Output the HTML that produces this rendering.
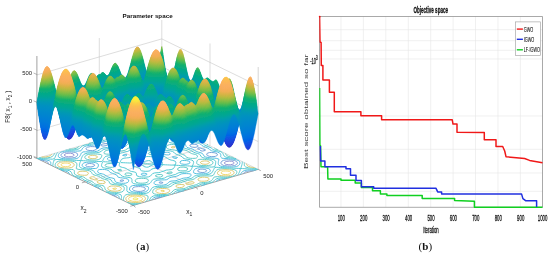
<!DOCTYPE html>
<html><head><meta charset="utf-8"><title>Figure</title>
<style>html,body{margin:0;padding:0;background:#fff}svg{display:block}</style></head>
<body><svg width="550" height="257" viewBox="0 0 550 257">
<rect width="550" height="257" fill="#fff"/>
<defs><linearGradient id="pg" gradientUnits="userSpaceOnUse" x1="851" y1="1729" x2="603" y2="867"><stop offset="0.0000" stop-color="#3228aa"/><stop offset="0.0704" stop-color="#302dbe"/><stop offset="0.1020" stop-color="#2d32c8"/><stop offset="0.1241" stop-color="#2837d2"/><stop offset="0.1659" stop-color="#1e41dc"/><stop offset="0.2017" stop-color="#1450e1"/><stop offset="0.2375" stop-color="#055fe6"/><stop offset="0.2733" stop-color="#006ee1"/><stop offset="0.3329" stop-color="#007bd9"/><stop offset="0.3807" stop-color="#0082d2"/><stop offset="0.4403" stop-color="#008aca"/><stop offset="0.4911" stop-color="#0091c0"/><stop offset="0.5263" stop-color="#0098b4"/><stop offset="0.5561" stop-color="#00a0a5"/><stop offset="0.5782" stop-color="#00a596"/><stop offset="0.6134" stop-color="#05aa87"/><stop offset="0.6384" stop-color="#0aae78"/><stop offset="0.6599" stop-color="#14b16c"/><stop offset="0.6790" stop-color="#37b75c"/><stop offset="0.7023" stop-color="#60bc4d"/><stop offset="0.7208" stop-color="#7dbd46"/><stop offset="0.7506" stop-color="#a8bc41"/><stop offset="0.7625" stop-color="#b9ba41"/><stop offset="0.7864" stop-color="#d4b444"/><stop offset="0.8144" stop-color="#eeaf52"/><stop offset="0.8377" stop-color="#f8ad5a"/><stop offset="0.8681" stop-color="#faaf5f"/><stop offset="0.8974" stop-color="#fcb45a"/><stop offset="0.9296" stop-color="#fcbe50"/><stop offset="0.9558" stop-color="#fccd46"/><stop offset="0.9714" stop-color="#fadc41"/><stop offset="0.9893" stop-color="#faeb3c"/><stop offset="1.0000" stop-color="#faf037"/></linearGradient></defs>
<g><path d="M36.9 130.6L161.8 94.6" stroke="#c6c6c6" stroke-width="0.6" fill="none"/><path d="M161.8 94.6L258.2 141.6" stroke="#c6c6c6" stroke-width="0.6" fill="none"/><path d="M36.9 102.7L161.8 66.7" stroke="#c6c6c6" stroke-width="0.6" fill="none"/><path d="M161.8 66.7L258.2 113.7" stroke="#c6c6c6" stroke-width="0.6" fill="none"/><path d="M36.9 74.9L161.8 38.9" stroke="#c6c6c6" stroke-width="0.6" fill="none"/><path d="M161.8 38.9L258.2 85.9" stroke="#c6c6c6" stroke-width="0.6" fill="none"/><path d="M99.3 140.4L99.3 38.0" stroke="#c6c6c6" stroke-width="0.6" fill="none"/><path d="M210.0 145.9L210.0 43.5" stroke="#c6c6c6" stroke-width="0.6" fill="none"/><path d="M161.8 122.4L161.8 20.0" stroke="#c6c6c6" stroke-width="0.6" fill="none"/><path d="M195.8 187.4L99.3 140.4" stroke="#c6c6c6" stroke-width="0.6" fill="none"/><path d="M85.1 181.9L210.0 145.9" stroke="#c6c6c6" stroke-width="0.6" fill="none"/><path d="M36.9 158.4L161.8 122.4" stroke="#c6c6c6" stroke-width="0.6" fill="none"/><path d="M161.8 122.4L258.2 169.4" stroke="#c6c6c6" stroke-width="0.6" fill="none"/><path d="M36.9 158.4L36.9 56.0" stroke="#7a7a7a" stroke-width="0.7" fill="none"/><path d="M258.2 169.4L258.2 67.0" stroke="#c4c4c4" stroke-width="0.7" fill="none"/><path d="M36.9 158.4L133.3 205.4" stroke="#7a7a7a" stroke-width="0.7" fill="none"/><path d="M133.3 205.4L258.2 169.4" stroke="#7a7a7a" stroke-width="0.7" fill="none"/></g>
<g fill="none" stroke-width="1"><path d="M159.4 130.0L157.5 129.6L157.0 128.8L159.3 128.0L161.8 128.4L162.0 129.3L159.4 130.0L159.4 130.0" stroke="#7e7ec4"/><path d="M230.7 164.7L228.9 164.8L226.2 164.4L225.1 164.0L224.5 163.4L224.4 162.6L226.1 161.5L229.3 161.1L231.6 161.3L232.9 161.7L233.9 162.4L234.0 163.4L233.3 164.0L230.7 164.7L230.7 164.7M179.7 139.8L178.5 139.3L179.2 138.6L181.2 138.5L182.4 139.2L179.7 139.8L179.7 139.8M162.5 131.4L160.8 131.6L158.5 131.6L156.3 131.3L153.9 130.7L152.6 129.5L152.5 128.8L153.1 127.9L154.0 127.3L156.4 126.6L158.4 126.4L160.9 126.4L162.7 126.6L165.3 127.4L166.5 128.5L166.5 129.3L165.9 130.2L165.0 130.8L162.5 131.4L162.5 131.4M72.5 156.4L71.2 156.7L68.4 156.8L66.6 156.6L64.6 155.7L64.3 155.0L65.1 154.0L66.5 153.5L68.0 153.2L70.4 153.2L73.3 153.9L74.1 155.2L73.5 155.9L72.5 156.4L72.5 156.4M133.1 137.5L131.0 137.3L130.8 136.4L132.6 136.1L134.3 137.1L133.1 137.5L133.1 137.5" stroke="#9296d4"/><path d="M154.8 199.2L156.4 198.2L159.0 197.6L161.2 197.4L161.2 197.4M243.1 173.8L243.7 173.0L244.4 172.4L246.5 171.4L249.4 170.9L251.1 170.8L253.5 170.8L253.5 170.8M231.4 166.0L229.5 166.1L227.3 166.0L224.6 165.6L223.2 165.3L221.5 164.3L221.1 163.7L220.9 162.9L221.2 162.0L221.9 161.2L223.6 160.3L226.6 159.8L228.6 159.8L230.8 159.9L233.0 160.2L234.5 160.5L236.6 161.4L237.2 162.1L237.4 163.1L237.1 164.0L236.5 164.6L234.4 165.6L231.4 166.0L231.4 166.0M141.9 191.2L140.3 191.4L137.9 191.4L135.9 191.1L133.5 190.4L132.7 189.6L132.6 188.6L133.1 187.8L134.2 187.2L135.5 186.8L138.4 186.6L140.5 186.6L142.8 187.0L144.1 187.3L144.9 187.8L145.4 189.0L145.0 189.8L144.3 190.4L141.9 191.2L141.9 191.2M204.5 172.3L202.9 172.5L200.8 172.4L198.2 171.7L197.6 170.9L198.0 170.1L200.2 169.2L202.2 169.1L204.2 169.3L206.4 170.1L206.7 170.8L205.8 171.8L204.5 172.3L204.5 172.3M161.6 183.3L159.3 182.9L159.3 182.2L160.6 181.8L163.1 182.6L161.6 183.3L161.6 183.3M111.8 194.9L113.8 195.3L115.8 196.2L116.7 197.3L116.7 197.3M215.5 156.3L214.0 156.6L211.7 156.6L209.7 156.4L207.4 155.6L206.8 155.0L206.8 154.0L207.2 153.3L209.6 152.5L211.6 152.5L214.1 152.7L215.9 153.2L217.4 154.2L217.4 155.0L216.6 155.9L215.5 156.3L215.5 156.3M121.8 181.4L119.9 180.9L120.9 180.0L122.9 180.0L123.9 180.5L121.8 181.4L121.8 181.4M202.7 151.1L200.8 150.8L199.6 149.6L197.7 148.7L198.1 147.9L200.6 147.9L202.5 148.8L205.2 149.5L205.3 150.4L202.7 151.1L202.7 151.1M195.1 147.4L192.7 147.2L191.2 146.8L189.8 145.8L190.1 144.9L191.1 144.4L192.7 144.2L195.0 144.2L197.4 145.0L197.9 145.8L197.8 146.7L195.1 147.4L195.1 147.4M183.6 141.8L181.8 141.8L179.6 141.7L176.8 141.4L175.3 140.9L173.9 139.9L173.7 139.2L174.0 138.3L174.9 137.5L177.4 136.8L179.9 136.6L182.1 136.7L183.9 137.0L186.2 137.8L187.1 138.6L187.3 139.7L186.9 140.4L186.2 141.1L183.6 141.8L183.6 141.8M92.0 166.8L90.2 166.9L87.4 166.6L86.0 165.9L85.6 165.3L86.2 164.4L87.6 163.8L89.2 163.5L91.5 163.6L94.1 164.3L94.7 165.2L94.2 166.0L92.0 166.8L92.0 166.8M162.9 132.6L161.0 132.7L159.0 132.7L156.7 132.5L154.1 132.2L152.3 131.9L150.4 130.9L149.8 130.1L149.7 129.1L150.0 128.3L150.5 127.5L151.2 126.9L153.2 126.0L156.1 125.4L157.9 125.3L159.9 125.3L162.1 125.5L164.9 125.8L166.6 126.3L168.5 127.2L169.0 127.9L169.3 129.0L169.1 129.8L168.6 130.6L168.0 131.2L166.0 132.2L162.9 132.6L162.9 132.6M71.9 158.0L70.1 158.1L68.0 158.1L65.5 157.8L63.6 157.4L61.6 156.5L61.0 155.6L61.1 154.7L61.5 153.9L62.2 153.3L64.4 152.4L66.8 152.0L69.3 151.9L71.4 152.0L73.9 152.2L75.4 152.5L77.3 153.5L77.6 154.1L77.6 155.0L77.3 155.8L76.3 156.8L74.8 157.5L71.9 158.0L71.9 158.0M134.7 139.2L132.9 139.3L130.9 139.3L128.4 139.1L126.4 138.6L125.5 137.6L125.5 136.7L126.0 136.0L126.8 135.4L129.1 134.5L130.9 134.3L133.5 134.3L135.5 134.5L138.2 135.2L139.2 136.4L139.1 137.2L138.4 138.1L137.4 138.6L134.7 139.2L134.7 139.2M94.0 150.4L92.5 150.6L90.0 150.6L87.4 150.1L86.5 149.7L86.0 148.7L86.4 147.9L87.5 147.2L90.3 146.6L92.2 146.6L94.5 146.7L96.5 147.2L97.0 148.0L96.8 148.9L96.2 149.5L94.0 150.4L94.0 150.4M115.2 143.3L113.2 143.3L111.0 143.0L110.8 142.1L111.2 141.3L113.3 140.4L115.4 140.2L117.4 140.4L119.2 141.3L119.0 142.2L118.2 142.8L115.2 143.3L115.2 143.3M103.1 146.1L101.4 145.8L100.9 145.0L102.8 144.0L105.9 143.6L107.9 143.2L109.5 144.2L108.1 144.7L106.1 145.6L103.1 146.1L103.1 146.1M40.6 160.2L42.8 160.4L44.4 160.7L46.9 161.5L48.2 162.6L48.5 163.3L48.6 164.1L48.6 164.1" stroke="#76a5da"/><path d="M151.6 200.1L152.2 199.2L152.9 198.5L153.6 197.9L155.8 197.0L158.8 196.5L160.6 196.4L162.5 196.4L164.6 196.4L164.6 196.4M176.4 193.0L177.6 192.1L179.9 191.3L183.0 190.9L184.2 190.7M191.9 188.5L193.3 188.1L193.3 188.1M201.4 185.8L202.9 185.1L205.6 184.4L206.3 184.4M215.9 181.6L217.1 180.5L218.1 179.9L220.4 179.1L223.2 178.7L225.4 178.6L226.2 178.6M240.4 174.5L240.9 173.6L241.4 172.8L241.9 172.1L242.6 171.5L244.5 170.5L247.5 170.0L249.3 169.9L251.3 169.9L253.7 170.0L255.9 170.1L255.9 170.1M131.9 204.7L134.1 204.8L135.1 204.9M233.5 167.0L231.6 167.1L229.5 167.1L227.4 167.0L225.0 166.8L222.3 166.5L220.5 166.1L218.8 165.1L218.4 164.4L218.2 163.5L218.3 162.5L218.4 161.6L218.6 160.8L218.8 159.9L218.8 159.1L216.2 158.3L214.2 158.1L212.2 158.0L210.2 157.8L207.9 157.5L205.5 156.9L203.9 155.9L203.5 155.3L202.9 154.1L202.3 153.4L200.0 152.5L198.5 152.2L196.3 151.4L194.6 150.3L193.0 149.3L190.7 148.5L188.0 147.8L187.0 147.3L186.4 146.7L185.9 145.8L185.5 144.7L185.0 144.1L183.2 143.5L180.9 143.1L179.0 142.9L177.2 142.7L174.7 142.3L172.6 141.7L171.1 140.7L170.8 140.0L170.8 139.3L170.9 138.5L171.2 137.6L171.9 136.7L173.3 135.8L176.3 135.4L178.6 135.4L180.8 135.5L183.1 135.7L184.8 136.0L186.4 136.3L188.7 137.1L189.6 137.9L190.1 138.9L190.3 139.6L190.4 140.3L191.1 141.5L192.1 142.1L193.5 142.4L195.7 142.8L198.3 143.3L199.6 143.7L200.6 144.2L201.7 145.3L203.3 146.3L205.5 147.2L207.7 148.1L209.3 149.1L209.9 149.7L211.4 150.7L212.7 151.1L215.9 151.7L217.3 152.0L219.5 152.9L220.5 153.9L220.8 154.8L220.8 155.5L220.7 156.3L220.7 157.0L221.9 158.2L223.8 158.4L226.0 158.5L228.3 158.7L230.7 158.9L233.3 159.2L235.4 159.5L236.8 159.9L238.9 160.8L239.5 161.3L239.9 162.4L239.9 163.4L239.6 164.2L239.2 165.0L238.5 165.6L236.5 166.6L233.5 167.0L233.5 167.0M142.5 192.4L140.7 192.5L138.7 192.5L136.4 192.4L133.8 192.1L131.8 191.6L130.1 190.6L129.6 190.0L129.5 189.0L129.7 188.1L130.0 187.3L130.6 186.6L132.5 185.6L135.4 185.4L137.9 185.3L140.0 185.4L142.3 185.6L144.4 185.8L146.1 186.0L148.2 186.9L148.6 187.7L148.6 188.6L148.3 189.5L147.9 190.2L147.1 190.9L145.3 191.9L142.5 192.4L142.5 192.4M205.3 173.6L203.6 173.8L201.3 173.8L198.9 173.8L196.7 173.7L194.9 173.4L193.7 172.8L193.5 171.7L193.7 170.9L194.1 170.1L194.6 169.4L195.3 168.8L197.6 168.0L199.2 167.8L201.8 167.7L204.0 167.8L206.0 168.0L208.9 168.7L210.2 169.8L210.3 170.5L210.1 171.3L209.2 172.3L208.0 173.0L205.3 173.6L205.3 173.6M163.2 185.1L161.4 185.2L159.3 185.1L156.7 184.8L154.8 184.3L154.2 183.6L154.1 182.6L154.5 181.8L155.2 181.1L157.3 180.3L158.9 180.1L161.9 179.9L164.5 179.9L166.3 179.8L168.1 178.9L168.9 178.2L169.8 177.7L171.1 177.3L173.9 176.8L176.7 176.2L178.9 175.3L179.6 174.7L181.8 173.8L184.0 173.6L186.6 173.6L188.8 173.7L190.4 174.0L191.1 174.5L191.0 175.4L190.6 176.2L189.0 177.3L186.2 177.9L183.8 178.1L181.7 178.6L180.7 179.1L178.2 179.8L176.0 180.7L174.1 180.9L171.0 181.1L168.9 182.0L168.3 182.7L167.5 183.6L166.0 184.5L163.2 185.1L163.2 185.1M109.1 193.6L111.1 193.8L112.9 194.1L114.6 194.3L117.2 195.1L118.7 196.1L119.1 196.8L119.2 197.6L119.1 198.5L119.1 198.5M125.5 183.2L123.7 183.3L121.7 183.3L119.2 183.0L116.8 182.5L115.2 181.4L114.9 180.8L114.7 179.9L114.3 178.7L111.8 177.9L110.1 177.7L107.8 176.9L106.2 175.8L105.0 175.1L103.7 174.3L102.3 173.9L99.4 173.3L97.8 172.2L97.6 171.5L97.8 170.6L98.8 169.7L99.7 169.5L102.5 169.4L104.6 169.5L106.4 169.8L108.7 170.6L109.4 171.5L110.1 172.5L112.4 173.3L114.4 174.2L116.5 174.9L116.7 175.0L117.5 176.3L117.8 177.0L120.2 177.7L122.2 177.9L124.0 178.2L125.7 178.4L128.0 179.3L128.6 179.8L128.7 180.9L128.4 181.7L127.8 182.4L125.5 183.2L125.5 183.2M186.1 164.3L184.1 164.3L181.4 163.9L180.0 162.8L180.0 162.0L180.9 161.0L182.4 160.5L184.2 160.5L186.5 160.6L188.6 161.1L190.0 162.1L189.9 162.9L188.9 163.7L186.1 164.3L186.1 164.3M145.1 175.3L143.1 175.3L141.3 174.7L141.2 174.0L142.8 173.2L144.7 173.2L146.8 173.8L146.8 174.6L145.1 175.3L145.1 175.3M94.0 186.3L96.6 186.8L98.8 187.7L99.9 188.9L100.0 189.2M176.3 158.5L173.3 158.0L172.5 156.7L174.9 156.9L177.5 157.5L176.3 158.5L176.3 158.5M87.0 182.8L88.0 183.3L88.1 183.4M168.7 154.9L166.9 154.9L164.4 154.6L163.1 153.4L164.0 152.5L167.2 152.2L169.0 152.5L170.3 153.6L169.9 154.4L168.7 154.9L168.7 154.9M77.0 177.9L78.8 178.5L80.5 179.5L80.7 179.8M96.8 168.2L95.3 168.5L92.8 168.5L90.5 168.4L88.5 168.2L86.1 167.9L83.9 167.3L82.4 166.2L82.1 165.6L82.2 164.8L82.6 163.9L83.9 162.9L86.6 162.3L88.8 162.1L91.2 162.2L93.3 162.3L95.3 162.6L97.5 163.4L98.1 164.0L98.4 165.1L98.3 166.0L98.0 166.9L97.6 167.6L96.8 168.2L96.8 168.2M157.3 149.3L155.7 149.5L153.4 149.5L151.2 149.4L148.8 149.0L147.1 148.3L146.7 147.7L146.7 146.9L147.3 146.0L148.8 145.1L151.6 144.6L153.6 144.5L155.9 144.7L158.1 145.2L159.7 146.2L159.9 146.9L159.8 147.7L158.8 148.7L157.3 149.3L157.3 149.3M113.2 160.7L111.1 160.6L108.6 160.2L107.3 159.1L107.6 158.2L108.6 157.5L111.4 156.9L113.4 156.9L116.0 157.2L117.2 157.7L117.6 158.3L117.4 159.1L116.1 160.2L113.2 160.7L113.2 160.7M135.8 153.3L133.3 153.1L132.7 152.8L132.4 151.8L133.3 151.1L136.2 150.6L138.3 150.9L139.7 152.0L138.9 152.9L135.8 153.3L135.8 153.3M125.5 156.0L122.6 155.4L124.2 154.5L127.0 154.8L127.0 154.9L125.5 156.0L125.5 156.0M61.6 170.4L64.1 170.8L65.6 171.1L67.9 171.9L69.1 173.1L69.4 173.7L69.6 174.3M74.0 159.0L72.2 159.1L70.2 159.1L68.0 159.0L65.7 158.9L63.2 158.6L60.9 158.2L58.9 157.3L58.3 156.3L58.3 155.3L58.6 154.4L59.0 153.7L59.6 153.0L60.7 152.3L62.6 151.5L64.4 151.2L67.4 151.0L69.3 150.9L71.3 151.0L73.4 151.0L75.5 151.1L77.9 151.1L80.9 150.8L81.5 150.0L82.1 149.1L82.7 148.2L83.6 147.3L84.4 146.7L86.7 145.8L89.7 145.4L91.5 145.3L93.3 145.1L96.0 144.6L96.9 144.1L98.8 143.1L101.6 142.4L104.1 141.7L106.8 141.1L108.7 140.1L109.7 139.6L111.3 139.2L114.1 138.9L115.9 138.8L118.9 138.5L120.5 138.1L121.4 137.6L122.1 136.8L123.1 135.8L124.0 135.0L124.9 134.4L127.2 133.6L129.0 133.4L132.1 133.2L134.3 133.2L136.5 133.3L138.8 133.5L140.4 133.8L142.3 134.8L142.5 135.4L142.4 136.2L142.2 137.1L141.7 137.9L140.7 139.0L139.5 139.6L136.8 140.3L135.1 140.4L132.8 140.5L130.0 140.5L127.6 140.6L126.0 140.8L124.2 141.5L123.1 142.3L122.4 142.9L120.6 144.0L120.4 144.1L117.9 144.6L114.7 145.0L112.5 145.8L110.0 146.5L107.7 147.4L104.9 147.8L103.0 148.0L100.8 148.9L100.0 149.5L99.2 150.2L97.5 151.1L94.7 151.7L93.0 151.8L90.6 151.9L88.1 151.9L85.6 151.8L83.1 151.9L81.4 153.0L81.0 153.7L80.7 154.5L80.3 155.3L79.9 156.1L79.4 156.8L78.5 157.6L76.9 158.5L74.0 159.0L74.0 159.0M171.1 126.9L171.5 127.8L171.6 128.5L171.6 129.3L171.4 130.1L171.1 130.9L170.6 131.8L169.5 132.9L168.4 133.4L166.9 133.6L164.1 133.7L161.6 133.7L159.3 133.6L157.1 133.5L154.9 133.4L152.9 133.2L150.9 133.0L149.0 132.6L147.3 131.8L146.9 131.2L146.9 130.4L147.1 129.6L147.4 128.8L147.8 127.9L148.5 127.0L149.4 126.1L149.8 125.9M38.7 159.3L40.9 159.4L43.2 159.6L45.1 159.8L46.8 160.0L49.4 160.8L50.6 161.9L50.8 162.6L50.8 163.4L50.8 164.2L50.7 165.1L50.7 165.1M154.1 124.6L156.1 124.5L158.1 124.4L160.1 124.5L162.4 124.6L164.8 124.8L167.5 125.2L167.8 125.3" stroke="#57c1e0"/><path d="M149.0 200.9L149.5 200.0L150.0 199.1L150.5 198.3L151.0 197.5L151.6 196.9L153.7 195.9L156.9 195.6L158.8 195.5L160.7 195.5L162.7 195.5L165.2 195.5L168.2 195.3L168.8 195.2M171.9 194.3L172.9 193.7L173.7 193.0L174.9 191.9L175.8 191.3L178.1 190.4L181.2 190.0L182.9 189.8L186.0 189.4L188.2 188.6L190.2 187.6L192.9 187.0L195.4 186.3L198.1 185.6L200.1 184.7L201.1 184.2L203.7 183.6L205.5 183.4L207.8 183.2L210.2 182.8L212.5 182.0L213.3 181.4L214.3 180.6L215.4 179.5L216.2 179.0L218.5 178.2L221.0 177.9L223.7 177.8L225.6 177.7L227.6 177.7L229.5 177.7L229.5 177.7M237.4 175.4L238.2 174.4L238.7 173.5L239.1 172.7L239.5 171.9L239.8 171.1L240.1 170.2L240.3 169.4L240.5 168.5L238.3 168.4L236.1 168.3L233.9 168.2L231.6 168.1L229.4 168.0L227.2 167.9L225.0 167.8L222.8 167.6L220.6 167.5L218.4 167.4L216.2 167.3L214.5 167.8L214.1 168.7L213.7 169.5L213.3 170.4L212.9 171.2L212.3 172.1L211.7 172.9L211.0 173.5L208.9 174.4L205.8 174.8L203.8 174.9L201.9 174.9L200.0 175.0L196.7 175.3L194.5 176.1L193.6 176.8L192.2 177.9L191.2 178.4L189.0 178.9L186.8 179.2L184.1 179.8L181.8 180.6L179.5 181.4L176.8 182.0L174.3 182.4L172.4 182.8L171.4 183.3L170.0 184.3L169.0 185.0L166.8 185.9L163.5 186.2L161.7 186.3L159.7 186.3L157.8 186.4L154.5 186.7L152.4 187.6L151.8 188.3L151.3 189.0L150.7 189.9L150.2 190.8L149.4 191.8L148.6 192.5L146.3 193.3L143.4 193.5L140.8 193.5L138.6 193.4L136.4 193.3L134.2 193.2L132.2 193.0L130.4 192.8L127.8 192.0L126.9 190.8L126.8 190.1L126.9 189.3L126.9 188.5L127.0 187.8L126.9 186.8L126.4 185.7L124.1 184.9L122.4 184.6L119.8 184.3L117.1 183.9L115.4 183.6L113.2 182.8L112.1 181.6L111.8 180.9L111.1 180.0L109.8 179.3L108.5 178.9L105.8 178.2L104.1 177.2L102.2 176.2L100.6 175.2L97.9 174.5L96.6 174.1L95.2 173.2L94.6 172.4L94.3 171.8L93.3 170.6L91.0 169.7L89.3 169.5L86.7 169.1L84.0 168.7L82.5 168.4L80.3 167.6L79.6 166.6L79.4 165.6L79.4 164.8L79.6 164.0L79.8 163.2L80.1 162.4L80.4 161.6L81.2 160.6L78.9 160.5L76.7 160.4L74.5 160.3L72.3 160.2L70.1 160.1L67.9 159.9L65.7 159.8L63.5 159.7L61.2 159.6L59.0 159.5L56.8 159.4L54.0 160.0L53.8 160.8L53.6 161.7L53.3 162.5L53.1 163.4L53.0 164.2L52.9 165.0L52.8 165.8L52.9 166.2M130.0 203.8L132.3 204.0L134.6 204.1L136.7 204.2L137.5 204.2M242.2 161.6L242.3 162.6L242.2 163.5L242.0 164.4L241.8 165.2L241.5 166.0L241.3 166.8L241.0 167.6L240.5 168.5L242.7 168.6L244.9 168.7L247.1 168.9L249.3 169.0L251.6 169.1L253.8 169.2L256.0 169.3L258.2 169.4M211.7 167.1L214.9 166.7L215.0 165.8L215.3 164.9L215.5 164.1L215.6 163.2L215.7 162.3L215.7 161.5L215.4 160.8L213.9 159.7L211.2 159.1L209.3 158.8L207.5 158.6L205.7 158.3L202.8 157.7L201.2 156.7L200.8 156.0L200.1 154.7L199.5 154.2L197.7 153.5L195.8 153.0L193.6 152.1L191.9 151.1L190.3 150.1L188.0 149.2L185.9 148.7L184.3 148.1L183.7 147.5L183.1 146.3L182.6 145.6L181.0 144.5L178.1 143.9L176.3 143.6L174.5 143.4L172.7 143.2L169.6 142.6L168.2 141.5L168.1 140.8L168.1 140.0L168.2 139.1L168.3 138.1L168.2 137.1L167.9 136.3L166.2 135.3L163.6 134.9L161.0 134.6L158.8 134.5L156.6 134.4L154.4 134.3L152.3 134.3L150.5 134.3L147.5 134.8L145.7 135.9L145.2 136.6L144.7 137.3L144.3 138.1L143.8 138.8L143.1 139.8L141.8 140.8L139.1 141.4L137.3 141.4L134.5 141.5L131.6 141.6L129.8 141.7L127.1 142.3L125.2 143.3L124.5 143.9L123.2 144.8L121.4 145.3L119.9 145.6L116.8 146.0L114.6 146.8L112.1 147.6L109.8 148.4L106.7 148.8L105.2 149.1L103.2 149.7L102.1 150.5L101.4 151.1L99.6 152.2L96.8 152.7L95.1 152.8L92.3 152.9L89.4 153.0L87.7 153.1L85.0 153.8L83.7 154.6L82.8 155.6L82.3 156.3L82.0 157.1L81.6 157.9L81.3 158.7L81.1 159.6L81.2 160.6L83.4 160.7L85.6 160.8L87.8 160.9L90.0 161.0L92.2 161.2L94.4 161.3L96.7 161.4L98.9 161.5L101.1 161.6L102.5 161.2L102.9 160.3L103.3 159.5L103.7 158.6L104.3 157.7L105.1 156.8L106.1 156.3L108.3 155.8L110.6 155.6L112.5 155.5L115.2 155.3L117.0 154.8L118.0 154.3L119.8 153.3L122.5 152.7L125.0 151.9L127.8 151.4L129.3 150.5L130.5 149.8L133.3 149.2L135.1 149.1L136.9 149.0L140.3 148.8L141.6 148.4L142.5 147.9L143.1 147.2L143.7 146.3L144.3 145.4L145.3 144.4L146.2 143.8L148.6 143.4L151.0 143.3L153.1 143.4L155.3 143.5L157.7 143.6L159.9 143.9L161.4 144.2L162.9 145.2L163.2 145.9L163.2 146.7L163.1 147.4L163.2 148.3L163.7 149.5L164.7 150.0L166.1 150.3L167.9 150.6L170.8 151.0L172.6 151.5L174.1 152.5L174.5 153.1L176.1 154.2L178.4 155.0L180.6 155.9L182.2 156.9L183.0 157.9L184.1 158.6L185.5 159.0L187.9 159.3L190.5 159.8L191.8 160.1L193.1 160.9L193.6 161.9L193.6 162.6L193.4 163.4L193.2 164.2L192.9 165.0L191.8 166.1L194.0 166.2L196.2 166.3L198.4 166.4L200.7 166.5L202.9 166.7L205.1 166.8L207.3 166.9L209.5 167.0L211.7 167.1L211.7 167.1M146.5 184.4L148.9 184.0L149.8 183.4L150.8 182.4L151.4 181.5L152.0 180.6L152.6 179.9L153.5 179.4L154.8 179.0L158.2 178.8L160.0 178.7L161.8 178.6L164.6 178.0L165.8 177.3L167.3 176.4L170.1 175.9L172.6 175.1L175.3 174.5L177.1 173.5L178.1 173.0L179.9 172.5L182.6 172.3L184.5 172.2L186.8 172.0L189.0 171.5L190.0 171.0L190.8 170.1L191.4 169.2L191.8 168.3L192.2 167.5L192.6 166.6L189.6 166.0L187.4 165.9L185.2 165.8L183.0 165.7L180.7 165.6L178.5 165.4L176.3 165.3L174.1 165.2L174.7 166.5L174.3 167.3L173.9 168.0L173.3 168.7L171.2 169.6L168.4 169.9L166.2 170.1L164.0 171.0L161.5 171.7L160.6 172.2L158.8 172.6L156.0 172.8L154.3 173.0L152.5 173.7L151.6 174.6L151.1 175.3L150.5 176.0L148.4 176.9L146.0 177.1L143.5 177.0L141.4 176.9L139.5 176.7L137.0 175.9L136.5 175.0L136.4 174.0L136.3 173.1L135.9 172.5L134.1 171.9L131.7 171.5L130.3 171.1L129.2 170.4L127.8 169.6L126.3 168.5L123.9 167.7L122.3 167.4L119.9 166.6L119.3 165.6L119.3 164.7L119.5 163.8L119.8 162.9L118.8 162.5L116.6 162.4L114.4 162.2L112.1 162.1L109.9 162.0L107.7 161.9L105.5 161.8L103.3 161.7L102.2 162.8L101.9 163.6L101.7 164.4L101.5 165.2L101.5 165.9L102.0 166.9L103.3 167.7L104.6 168.0L107.2 168.5L109.6 168.8L111.0 169.2L112.1 169.9L112.9 170.9L114.5 171.9L116.7 172.8L119.0 173.6L120.6 174.7L121.0 175.3L122.5 176.3L124.3 176.8L127.2 177.2L129.0 177.5L130.4 177.8L131.4 178.3L131.9 179.5L132.0 180.4L131.9 181.1L131.9 181.9L132.2 182.6L133.7 183.6L135.2 183.9L137.4 184.2L139.8 184.3L142.0 184.4L144.1 184.5L146.5 184.4L146.5 184.4M105.9 192.0L108.0 192.5L109.7 192.8L111.9 193.0L114.4 193.3L117.1 193.6L118.7 193.9L120.9 194.8L121.4 195.7L121.5 196.7L121.5 197.6L121.3 198.4L121.2 199.2L121.2 199.5M171.9 165.1L175.3 164.9L175.6 164.0L175.8 163.1L175.8 162.2L175.2 161.2L172.8 160.4L171.2 160.1L168.8 159.3L167.3 158.2L165.9 157.4L164.8 156.7L163.4 156.3L161.0 155.9L159.2 155.3L158.8 154.7L158.7 153.8L158.6 152.8L158.1 151.9L155.6 151.1L153.7 150.9L151.6 150.8L149.1 150.7L146.7 150.9L144.6 151.8L144.0 152.5L143.5 153.2L142.6 154.1L140.8 154.8L139.1 155.0L136.3 155.2L134.5 155.6L133.6 156.1L131.1 156.8L128.9 157.7L126.7 157.9L123.9 158.2L121.8 159.1L121.2 159.8L120.8 160.5L120.4 161.3L121.0 162.6L123.2 162.7L125.4 162.8L127.6 162.9L129.8 163.0L133.3 162.7L133.6 161.9L134.3 161.0L136.1 160.3L137.7 160.1L140.3 159.4L143.2 158.9L144.0 158.2L145.1 157.1L146.5 156.6L148.2 156.5L150.4 156.6L153.0 156.9L154.4 157.4L154.7 158.1L154.8 158.8L156.1 159.9L158.6 160.7L160.0 161.3L162.1 162.0L162.4 162.6L162.4 163.4L163.0 164.7L165.3 164.8L167.5 164.9L169.7 165.0L171.9 165.1L171.9 165.1M148.1 171.2L149.8 170.8L150.6 170.2L151.1 169.5L153.2 168.6L156.1 168.1L157.8 167.7L160.3 167.2L161.1 166.6L161.6 165.8L163.0 164.7L160.8 164.6L158.6 164.5L156.4 164.3L153.0 164.6L151.3 165.7L150.1 166.2L148.2 167.1L146.3 167.2L143.8 166.5L143.6 165.8L141.7 164.8L140.9 163.6L138.7 163.5L136.5 163.4L134.3 163.2L133.0 163.6L132.7 164.4L132.8 165.4L134.0 166.3L135.5 166.6L137.4 167.6L140.0 168.3L140.3 169.1L140.6 170.2L141.6 170.8L143.2 171.1L145.3 171.3L148.1 171.2L148.1 171.2M152.0 164.1L153.3 163.7L152.5 162.5L151.5 162.0L150.4 160.8L148.5 160.6L145.7 161.1L145.0 161.7L142.5 162.4L140.9 163.6L143.1 163.7L145.3 163.8L147.6 163.9L149.8 164.0L152.0 164.1L152.0 164.1M191.6 136.9L192.1 137.6L192.5 138.3L192.9 139.5L193.4 140.2L195.0 141.3L197.7 142.0L199.2 142.3L201.9 143.0L203.5 144.0L204.8 145.2L207.0 146.0L208.9 147.0L211.1 147.8L212.4 149.0L213.0 149.5L215.1 150.3L216.7 150.7L218.8 151.1L220.9 151.7L222.5 152.8L222.9 153.4L223.3 154.3L223.7 155.4L224.1 156.0L225.8 157.1L227.9 157.6L230.5 157.9L232.3 158.2L234.2 158.4L236.1 158.6L236.1 158.6M59.0 169.2L60.9 169.4L62.8 169.6L64.6 169.9L67.2 170.2L69.3 170.7L71.0 171.8L71.4 172.4L71.8 173.5L72.2 174.4L72.6 175.0L74.2 176.1L76.3 176.7L78.4 177.1L80.0 177.5L82.1 178.3L82.7 178.8L84.0 180.0L86.2 180.8L88.1 181.8L90.3 182.6L91.6 183.8L93.2 184.8L95.9 185.5L97.4 185.8L100.1 186.5L101.7 187.6L102.2 188.3L102.6 189.5L103.0 190.2L103.5 190.9L103.5 190.9M173.9 128.3L173.8 129.2L173.7 130.1L173.6 131.0L173.6 131.7L173.8 132.4L175.1 133.5L178.0 134.2L179.8 134.4L181.7 134.6L183.6 134.8L185.9 135.1L188.7 135.6L189.2 135.8M36.9 158.4L39.1 158.5L41.3 158.6L43.5 158.7L45.8 158.8L48.0 158.9L50.2 159.1L52.4 159.2L54.5 158.6L54.9 157.7L55.2 156.9L55.6 156.0L56.0 155.1L56.4 154.3L56.8 153.6L57.3 152.8L57.7 152.4M65.6 150.1L67.5 150.1L69.5 150.1L71.4 150.0L74.1 149.9L76.6 149.6L78.9 148.8L79.7 148.3L80.8 147.2L81.8 146.4L82.6 145.8L84.9 145.0L87.3 144.6L89.6 144.4L91.4 144.2L94.0 143.6L95.0 143.1L97.0 142.2L99.7 141.5L102.2 140.8L104.9 140.2L106.9 139.2L109.1 138.4L112.2 138.0L113.9 137.8L117.0 137.4L119.3 136.5L120.2 135.9L121.4 134.8L122.2 134.1L123.2 133.5L123.2 133.5M126.3 132.6L128.6 132.4L130.5 132.3L132.7 132.3L135.4 132.3L138.1 132.2L140.0 132.1L142.6 131.5L143.7 130.6L144.6 129.6L145.1 128.8L145.5 128.0L145.9 127.3L146.1 126.9M157.6 123.6L159.9 123.7L162.1 123.8L164.3 123.9L165.1 124.0" stroke="#57cbd4"/><path d="M145.3 201.9L146.4 201.1L147.0 200.4L147.4 199.7L147.8 198.9L148.0 198.1L148.1 197.1L147.8 196.0L147.1 195.5L145.8 195.1L143.2 194.7L140.7 194.5L138.4 194.3L136.2 194.2L134.0 194.1L132.0 194.1L130.0 194.1L127.8 194.3L125.7 194.9L124.9 195.5L124.3 196.2L124.0 197.0L123.7 197.8L123.5 198.7L123.5 199.7L123.8 200.6L124.0 200.9M230.7 176.6L232.5 176.3L234.4 175.5L235.5 174.8L236.1 174.1L236.5 173.4L236.8 172.5L236.8 171.5L236.2 170.5L234.2 169.6L231.9 169.2L229.4 168.9L227.1 168.8L224.9 168.7L222.9 168.7L221.1 168.8L218.2 169.3L216.6 170.2L215.7 171.0L215.2 171.7L214.8 172.5L214.4 173.3L214.1 174.1L213.7 174.8L212.0 175.9L209.5 176.0L207.0 175.9L204.5 175.9L202.1 176.0L200.4 176.1L197.6 176.7L195.9 177.6L195.1 178.3L194.3 178.9L192.1 179.8L190.2 180.0L187.4 180.4L185.1 181.3L182.6 182.0L180.4 182.8L177.2 183.2L174.7 183.7L174.5 183.8L172.7 184.9L172.0 185.5L170.9 186.3L169.1 187.0L167.5 187.2L165.1 187.3L162.3 187.3L160.0 187.4L158.3 187.5L155.6 188.2L154.4 188.8L153.4 189.9L152.9 190.7L152.7 191.6L152.6 192.4L152.8 193.0L154.7 194.0L156.3 194.3L158.6 194.5L160.8 194.6L163.0 194.6L166.1 194.4L167.9 194.2L170.2 193.4L171.1 192.8L172.0 192.0L173.0 191.0L173.7 190.2L174.6 189.7L176.2 189.3L179.2 189.0L181.0 188.9L183.8 188.6L185.4 188.2L186.4 187.7L188.3 186.7L191.0 186.1L193.5 185.4L196.3 184.7L198.2 183.7L199.1 183.2L201.8 182.7L203.6 182.5L205.4 182.4L208.4 182.0L210.7 181.1L211.5 180.5L212.4 179.6L213.0 178.7L213.6 177.8L214.2 177.0L217.2 176.7L219.6 176.7L221.7 176.8L223.8 176.8L225.8 176.9L227.7 176.8L230.7 176.6L230.7 176.6M127.3 202.5L129.2 202.8L131.1 203.1L133.1 203.2L135.3 203.3L137.9 203.3L140.7 203.2L141.0 203.2M244.4 162.7L244.3 163.6L244.3 164.4L244.3 165.2L244.5 165.9L245.7 167.0L248.3 167.8L250.0 168.0L251.9 168.2L254.2 168.4L256.4 168.5L256.4 168.5M118.8 192.4L121.8 192.0L123.2 191.1L123.9 190.2L124.2 189.3L124.3 188.5L124.3 187.8L124.0 187.1L122.5 186.1L120.4 185.5L117.9 185.1L116.1 184.9L114.2 184.7L111.9 184.3L110.1 183.7L109.6 183.1L109.2 182.0L108.7 181.1L108.1 180.5L107.1 180.0L104.4 179.3L102.1 178.5L100.5 177.5L98.8 176.4L96.6 175.6L95.1 175.3L92.8 174.4L92.2 173.7L91.6 172.5L91.2 171.9L89.6 170.9L87.2 170.3L84.9 170.0L82.9 169.8L80.9 169.7L78.9 169.5L76.3 168.7L76.3 167.9L76.5 167.0L76.7 166.2L76.8 165.3L76.9 164.3L76.7 163.4L76.3 162.7L74.6 161.7L72.8 161.3L70.1 161.0L67.7 160.8L65.6 160.7L63.5 160.7L61.6 160.8L58.6 161.2L56.6 162.2L55.9 162.8L55.5 163.6L55.2 164.4L55.2 165.4L55.6 166.5L56.2 167.0L58.3 167.9L59.7 168.3L61.8 168.6L64.4 168.9L66.8 169.1L69.1 169.3L71.3 169.4L73.2 169.6L74.4 170.8L74.4 171.5L74.3 172.3L74.3 173.0L74.6 173.9L75.6 174.9L77.8 175.8L79.2 176.1L82.4 176.7L83.7 177.1L85.2 178.1L85.8 178.7L87.4 179.7L89.6 180.6L91.8 181.5L93.4 182.5L94.5 183.6L95.5 184.1L96.8 184.5L99.4 185.0L101.6 185.4L103.0 185.7L104.0 186.3L104.7 187.5L104.8 188.2L105.0 188.9L105.5 189.9L106.4 190.7L108.7 191.5L110.3 191.8L112.0 192.1L114.3 192.3L116.5 192.4L118.8 192.4L118.8 192.4M206.3 165.7L208.5 165.5L211.2 164.9L212.5 163.9L212.9 163.0L213.0 162.2L212.7 161.6L211.2 160.5L209.0 159.9L206.6 159.6L204.6 159.4L202.3 159.3L199.8 159.3L198.3 159.6L197.5 160.2L197.1 160.9L196.8 161.8L196.7 162.7L197.0 163.8L197.6 164.4L199.8 165.2L201.8 165.5L203.9 165.6L206.3 165.7L206.3 165.7M142.7 183.2L145.1 183.0L147.3 182.2L148.0 181.6L148.4 180.8L148.2 179.7L147.1 179.0L145.7 178.6L143.5 178.4L141.3 178.3L138.8 178.4L136.6 178.9L135.8 179.5L135.3 180.2L135.2 181.1L136.0 182.2L138.5 183.0L140.3 183.2L142.7 183.2L142.7 183.2M183.0 170.9L185.3 170.7L187.4 169.8L187.8 169.0L187.4 168.1L185.1 167.3L183.2 167.1L180.2 167.2L178.1 168.1L177.6 168.9L177.8 169.9L179.0 170.6L180.7 170.8L183.0 170.9L183.0 170.9M158.6 177.2L160.6 177.0L162.6 176.1L162.7 175.2L161.9 174.7L160.1 174.5L157.5 174.6L155.5 175.5L155.8 176.5L158.6 177.2L158.6 177.2M169.2 173.4L172.2 173.0L171.7 171.9L168.5 172.2L166.8 173.3L169.2 173.4L169.2 173.4M225.5 153.5L226.0 154.7L226.5 155.4L228.2 156.4L230.7 157.0L232.8 157.3L233.5 157.4M195.4 158.3L196.3 158.1L197.3 157.2L197.5 156.3L197.3 155.6L195.7 154.5L192.8 153.9L191.4 153.5L190.1 152.7L188.9 152.0L187.3 150.9L185.0 150.1L183.3 149.9L180.8 149.1L180.4 147.9L180.2 147.0L179.9 146.4L178.3 145.3L175.9 144.8L173.4 144.5L171.4 144.5L169.6 144.6L167.3 145.4L166.7 146.1L166.4 146.9L166.5 148.0L167.1 148.5L169.4 149.4L171.1 149.6L172.9 149.9L174.9 150.1L177.3 150.8L177.6 151.5L178.4 152.8L178.6 152.9L180.7 153.6L182.7 154.5L185.0 155.3L185.7 156.3L186.4 157.2L188.7 158.0L190.5 158.3L192.6 158.4L195.4 158.3L195.4 158.3M127.6 175.6L129.8 175.6L131.9 174.7L131.7 173.7L129.0 173.0L126.5 173.0L125.7 173.2L124.8 174.1L125.1 174.8L127.6 175.6L127.6 175.6M214.4 148.0L215.3 148.9L217.5 149.7L218.1 149.9M121.5 170.7L121.6 170.6L120.9 169.3L117.7 169.7L118.7 170.7L121.5 170.7L121.5 170.7M207.0 144.4L208.1 145.0L208.1 145.0M112.5 167.3L114.0 166.9L114.8 166.4L115.2 165.6L114.7 164.4L112.2 163.6L110.1 163.5L107.4 163.7L105.4 164.6L105.1 165.5L105.6 166.3L107.9 167.1L109.9 167.3L112.5 167.3L112.5 167.3M151.1 154.7L153.5 154.2L154.0 153.5L152.9 152.6L150.9 152.5L148.8 152.9L148.2 153.5L149.2 154.4L151.1 154.7L151.1 154.7M195.1 138.6L195.7 139.6L197.3 140.6L200.0 141.3L201.1 141.5M159.7 142.4L162.6 142.2L164.5 141.2L165.1 140.5L165.4 139.7L165.6 138.8L165.5 137.8L165.0 137.2L163.3 136.2L161.3 135.7L158.7 135.4L156.4 135.3L154.4 135.3L152.6 135.4L149.8 135.9L148.0 136.9L147.2 137.6L146.8 138.3L146.5 139.2L146.5 140.1L146.9 140.9L149.0 141.8L150.7 142.0L152.8 142.2L155.1 142.4L157.2 142.5L159.7 142.4L159.7 142.4M96.2 160.0L98.8 159.5L99.8 159.0L100.9 157.9L101.4 157.0L101.7 156.2L101.8 155.4L101.4 154.8L100.2 154.4L97.7 154.1L95.5 154.0L93.4 154.0L90.9 154.1L88.3 154.4L86.1 155.3L85.4 155.9L85.0 156.6L84.8 157.5L85.4 158.6L87.5 159.5L89.5 159.8L91.9 160.0L94.0 160.1L96.2 160.0L96.2 160.0M136.2 147.7L137.8 147.5L139.9 146.7L140.6 146.0L141.0 145.2L140.9 144.2L140.3 143.5L138.4 143.0L135.8 142.7L133.7 142.6L131.9 142.7L129.1 143.3L127.6 144.2L126.8 145.1L126.2 145.8L124.1 146.7L121.0 146.9L119.1 147.1L116.9 148.0L114.4 148.7L113.4 149.2L111.3 149.7L108.9 149.9L106.1 150.5L104.5 151.6L104.1 152.4L104.0 153.3L104.7 153.8L106.3 154.1L108.5 154.2L111.1 154.2L113.3 154.0L115.5 153.1L116.2 152.5L118.4 151.6L121.2 151.0L124.0 150.5L125.3 150.1L126.2 149.6L127.0 148.9L128.8 148.0L130.6 147.9L133.2 147.9L136.2 147.7L136.2 147.7M176.0 129.3L175.9 130.2L176.0 131.0L176.4 131.7L177.9 132.7L180.5 133.5L182.2 133.7L184.0 134.0L186.0 134.2L186.0 134.2M39.2 157.7L41.4 157.8L43.8 157.9L45.8 157.9L47.6 157.8L50.6 157.3L52.5 156.3L53.2 155.7L53.7 155.0L54.2 154.2L54.7 153.3L54.7 153.3M68.9 149.2L71.5 149.1L73.2 149.0L76.0 148.4L77.9 147.4L78.6 146.8L79.2 146.2M88.8 143.4L91.0 143.1L93.2 142.3L93.7 142.0M101.8 139.7L103.1 139.3L103.2 139.3M110.9 137.1L113.8 136.8L116.5 136.1L118.3 135.1L118.7 134.8M130.5 131.4L132.6 131.4L134.5 131.4L136.3 131.3L139.3 130.8L141.5 129.9L142.2 129.3L142.9 128.6L143.5 127.7L143.5 127.7M160.0 122.9L162.2 123.0L163.2 123.1" stroke="#63ccc8"/><path d="M138.6 202.4L140.5 202.1L143.0 201.4L144.0 200.8L144.9 199.8L145.4 198.9L145.4 198.2L145.2 197.5L143.9 196.4L141.3 195.6L139.5 195.4L137.5 195.2L135.2 195.1L132.5 195.2L130.5 195.3L128.0 196.0L126.9 196.8L126.1 197.7L125.8 198.6L125.9 199.3L126.1 200.0L127.4 201.1L129.9 201.9L131.5 202.2L133.4 202.4L135.7 202.5L138.6 202.4L138.6 202.4M228.3 175.8L230.7 175.4L232.9 174.5L233.6 173.9L234.0 173.1L234.1 172.2L233.5 171.3L231.5 170.4L229.6 170.0L227.1 169.7L225.0 169.7L223.2 169.8L220.3 170.3L218.8 171.0L217.8 172.0L217.5 172.8L217.5 173.7L217.8 174.3L219.7 175.3L221.2 175.6L223.7 175.8L225.8 175.9L228.3 175.8L228.3 175.8M164.2 193.5L166.0 193.3L168.3 192.4L169.1 191.8L169.6 191.1L169.6 190.2L168.7 189.2L166.7 188.7L164.2 188.5L162.2 188.5L160.4 188.6L157.7 189.2L156.7 189.7L156.0 190.6L155.9 191.4L156.9 192.6L159.6 193.3L161.6 193.5L164.2 193.5L164.2 193.5M204.3 181.2L206.4 180.9L208.5 180.1L209.0 179.3L208.9 178.4L208.1 177.8L206.9 177.5L204.6 177.2L202.6 177.2L199.8 177.8L198.8 178.3L198.1 179.2L198.0 180.0L199.8 181.0L201.7 181.2L204.3 181.2L204.3 181.2M179.7 187.6L181.8 187.4L183.9 186.5L184.3 185.7L184.1 184.8L181.9 184.5L179.9 184.5L176.9 185.0L176.1 185.6L175.9 186.5L177.7 187.4L179.7 187.6L179.7 187.6M187.2 184.6L189.2 184.2L192.3 183.8L194.2 182.8L193.7 182.0L192.0 181.7L189.0 182.2L187.0 183.1L185.6 183.6L187.2 184.6L187.2 184.6M246.5 163.7L246.6 164.5L246.9 165.2L248.2 166.3L250.7 167.1L252.3 167.4L254.5 167.6L254.5 167.6M115.2 191.2L117.7 191.0L120.2 190.3L121.1 189.5L121.4 188.6L121.2 187.9L119.8 186.9L118.3 186.4L115.5 186.1L113.3 186.0L111.5 186.0L108.9 186.7L108.2 187.4L107.8 188.1L108.0 189.2L108.9 190.0L111.2 190.8L113.0 191.1L115.2 191.2L115.2 191.2M206.0 164.3L208.6 163.6L209.3 163.0L209.2 162.0L208.2 161.4L206.8 161.0L204.8 160.9L201.8 161.3L200.6 162.1L200.5 162.9L202.0 163.9L203.9 164.2L206.0 164.3L206.0 164.3M102.4 183.6L104.0 183.4L105.0 182.9L105.3 182.0L103.9 181.0L102.4 180.6L100.0 180.4L97.3 181.1L97.2 182.0L97.7 182.8L100.1 183.6L102.4 183.6L102.4 183.6M94.5 179.9L97.0 179.9L97.4 179.1L95.5 178.2L94.3 177.0L92.4 176.7L89.8 177.4L89.9 178.3L92.6 179.0L94.5 179.9L94.5 179.9M84.7 175.3L87.0 175.1L88.0 174.3L88.4 173.5L88.3 172.8L86.7 171.7L85.3 171.4L82.9 171.2L80.1 171.4L79.0 171.7L77.8 172.5L77.7 173.4L78.2 174.2L80.5 175.0L82.3 175.2L84.7 175.3L84.7 175.3M172.2 147.8L174.2 147.8L175.2 146.9L173.3 146.4L171.2 147.3L172.2 147.8L172.2 147.8M68.5 168.0L71.5 167.5L73.2 166.6L73.9 165.8L74.2 164.9L74.0 164.1L73.6 163.5L71.9 162.5L70.5 162.2L67.8 161.8L65.6 161.7L63.7 161.8L60.7 162.2L58.6 163.2L58.0 163.8L57.7 164.7L57.9 165.7L58.5 166.4L60.6 167.3L62.1 167.6L64.3 167.9L66.5 168.0L68.5 168.0L68.5 168.0M159.6 141.0L160.9 140.6L162.0 140.0L162.5 139.2L162.4 138.2L161.6 137.4L159.2 136.7L157.2 136.4L154.8 136.4L153.2 136.6L150.8 137.4L150.1 138.0L149.7 138.8L150.2 140.0L151.0 140.5L152.3 140.8L154.6 141.2L156.7 141.2L159.6 141.0L159.6 141.0M92.9 158.7L94.9 158.6L97.1 157.7L97.5 156.9L96.9 156.1L94.3 155.4L92.2 155.3L90.6 155.5L89.3 156.0L88.4 157.0L88.7 157.7L90.9 158.5L92.9 158.7L92.9 158.7M134.5 146.0L135.8 145.6L135.8 144.9L133.5 144.5L132.0 145.2L134.5 146.0L134.5 146.0M178.4 130.5L179.3 131.6L181.3 132.5L183.3 132.9L183.3 132.9M41.6 157.0L44.0 157.0L45.7 156.9L48.6 156.4L50.7 155.4L51.4 154.8L52.0 154.0L52.0 154.0M133.9 130.4L136.1 130.2L138.7 129.6L140.3 128.6L140.3 128.6" stroke="#dccc7a"/><path d="M136.7 201.4L138.7 201.2L141.1 200.5L142.0 199.9L142.6 199.0L142.5 198.3L141.2 197.1L138.8 196.5L136.6 196.2L134.3 196.2L132.6 196.4L130.1 197.0L129.2 197.6L128.6 198.5L128.6 199.3L129.8 200.4L132.4 201.2L134.2 201.4L136.7 201.4L136.7 201.4M227.4 174.5L229.8 173.9L230.5 173.4L230.7 172.5L229.7 171.6L228.0 171.1L225.6 171.0L223.6 171.1L222.3 171.5L221.0 172.6L221.2 173.3L223.0 174.3L225.2 174.6L227.4 174.5L227.4 174.5M162.5 191.7L164.3 191.4L164.1 190.5L162.0 190.3L160.8 190.7L162.5 191.7L162.5 191.7M113.9 189.3L115.9 189.2L116.6 188.5L115.4 188.0L112.7 188.6L113.9 189.3L113.9 189.3M65.3 166.7L67.6 166.6L70.0 165.8L70.7 165.1L70.2 164.0L69.2 163.5L67.3 163.1L64.9 163.0L62.9 163.3L61.4 164.0L61.0 164.9L61.3 165.6L63.2 166.4L65.3 166.7L65.3 166.7" stroke="#f3da73"/><path d="M134.7 199.8L137.3 199.6L138.2 198.8L136.1 197.9L134.0 198.0L132.9 198.8L134.7 199.8L134.7 199.8" stroke="#f3e867"/></g>
<filter id="bl" x="-5%" y="-5%" width="110%" height="110%"><feGaussianBlur stdDeviation="0.4"/></filter><g filter="url(#bl)"><g transform="scale(0.1)" stroke-width="3" stroke-linejoin="round" fill="url(#pg)" stroke="url(#pg)"><path transform="translate(-477 -233)" d="M846 1260l12-65 13-65 12-62 13-55 12-47 13-36 12-23 13-10 12 5 13 18 12 30 13 39 12 46 13 49 12 49 13 44 12 37 13 27 12 13 13 0 12-14 13-26 12-38 13-44 12-48 13-47 12-41 13-31 12-20 13-5 12 9 13 20 12 29 13 32 12 30 13 22 12 11 13-4 12-16 13-27 12-31 13-27 12-17 13-3 12 10 13 15 12 9 13-5 12-14 12-4 13-3 12-15 13-4 12 9 13 15 12 10 13-3 12-17 13-27 12-31 13-27 12-17 13-3 12 11 13 22 12 30 13 32 12 29 13 20 12 9 13-5 12-20 13-31 12-41 13-47 12-48 13-44 12-38 13-27 12-14 13 0 12 14 13 27 12 36 13 45 12 49 13 49 12 46 13 39 12 30 13 18 12 5 13-10 12-23 13-36 12-47 13-56 12-61 13-65 12-65 10 66-13 65-12 64-13 62-12 56-13 47-12 36-13 23-12 9-13-4-12-18-13-30-12-39-13-46-12-49-13-49-12-45-13-37-12-26-13-14-12 0-13 14-12 27-13 38-12 44-13 48-12 47-13 41-12 31-13 19-12 6-13-9-12-20-13-29-12-32-13-30-12-22-12-11-13 3-12 17-13 27-12 31-13 27-12 17-13 3-12-10-13-15-12-10-13 5-12 15-13 3-12 4-13 14-12 5-13-9-12-15-13-10-12 3-13 17-12 27-13 31-12 26-13 17-12 4-13-11-12-22-13-30-12-33-13-28-12-21-13-8-12 5-13 19-12 32-13 41-12 47-13 48-12 44-13 37-12 27-13 14-12 0-13-13-12-27-13-37-12-44-13-49-12-49-12-46-13-39-12-30-13-18-12-5-13 9-12 24-13 35-12 47-13 56-12 62-13 65-12 65z"/>
<path transform="translate(-468 -228)" d="M837 1255l12-65 13-65 12-62 13-55 12-47 13-36 12-23 13-10 12 5 13 18 12 30 13 39 12 46 13 49 12 49 13 44 12 37 13 27 12 13 13 0 12-14 13-26 12-38 13-44 12-48 13-47 12-41 13-31 12-20 13-5 12 9 13 20 12 29 13 32 12 30 13 22 12 11 13-4 12-16 13-27 12-31 13-27 12-17 13-3 12 10 13 15 12 9 13-5 12-14 12-4 13-3 12-15 13-4 12 9 13 15 12 10 13-3 12-17 13-27 12-31 13-27 12-17 13-3 12 11 13 22 12 30 13 32 12 29 13 20 12 9 13-5 12-20 13-31 12-41 13-47 12-48 13-44 12-38 13-27 12-14 13 0 12 14 13 27 12 36 13 45 12 49 13 49 12 46 13 39 12 30 13 18 12 5 13-10 12-23 13-36 12-47 13-56 12-61 13-65 12-65 19 132-12 65-13 65-12 61-13 56-12 47-13 36-12 23-13 9-12-4-13-18-12-30-13-39-12-46-13-49-12-49-13-45-12-37-13-26-12-14-13 0-12 14-13 27-12 38-12 44-13 48-12 47-13 41-12 31-13 19-12 6-13-9-12-20-13-29-12-32-13-30-12-22-13-11-12 3-13 17-12 27-13 31-12 27-13 17-12 3-13-10-12-15-13-9-12 4-13 15-12 3-13 4-12 14-13 5-12-9-13-15-12-10-13 3-12 17-13 27-12 31-13 27-12 16-13 4-12-11-13-22-12-30-13-32-12-29-13-21-12-8-13 5-12 19-12 32-13 41-12 47-13 48-12 44-13 37-12 27-13 14-12 0-13-13-12-27-13-37-12-44-13-49-12-49-13-46-12-39-13-30-12-18-13-5-12 10-13 23-12 35-13 47-12 56-13 62-12 65-13 65z"/>
<path transform="translate(-458 -223)" d="M827 1250l12-65 13-65 12-62 13-55 12-47 13-36 12-23 13-10 12 5 13 18 12 30 13 39 12 46 13 49 12 49 13 44 12 37 13 27 12 13 13 0 12-14 13-26 12-38 13-44 12-48 13-47 12-41 13-31 12-20 13-5 12 9 13 20 12 29 13 32 12 30 13 22 12 11 13-4 12-16 13-27 12-31 13-27 12-17 13-3 12 10 13 15 12 9 13-5 12-14 12-4 13-3 12-15 13-4 12 9 13 15 12 10 13-3 12-17 13-27 12-31 13-27 12-17 13-3 12 11 13 22 12 30 13 32 12 29 13 20 12 9 13-5 12-20 13-31 12-41 13-47 12-48 13-44 12-38 13-27 12-14 13 0 12 14 13 27 12 36 13 45 12 49 13 49 12 46 13 39 12 30 13 18 12 5 13-10 12-23 13-36 12-47 13-56 12-61 13-65 12-65 29 195-13 65-12 65-13 61-12 56-13 47-12 36-13 23-12 9-12-4-13-18-12-30-13-39-12-46-13-49-12-49-13-45-12-37-13-26-12-14-13 0-12 14-13 27-12 38-13 44-12 48-13 47-12 41-13 31-12 19-13 6-12-9-13-20-12-29-13-32-12-30-13-22-12-11-13 3-12 17-13 27-12 31-13 27-12 17-13 3-12-10-13-15-12-9-13 4-12 15-13 3-12 4-13 14-12 5-13-9-12-15-13-10-12 3-13 17-12 27-12 31-13 27-12 16-13 4-12-11-13-22-12-30-13-32-12-29-13-21-12-8-13 5-12 19-13 32-12 41-13 47-12 48-13 44-12 37-13 27-12 14-13 0-12-13-13-27-12-37-13-44-12-49-13-49-12-46-13-39-12-30-13-18-12-5-13 10-12 23-13 35-12 47-13 56-12 62-13 65-12 65z"/>
<path transform="translate(-448 -219)" d="M827 1312l12-65 13-65 12-62 13-56 12-47 13-35 12-24 13-9 12 5 13 18 12 30 13 39 12 46 13 49 12 49 12 44 13 37 12 27 13 13 12 0 13-14 12-27 13-37 12-44 13-48 12-47 13-41 12-32 13-19 12-5 13 8 12 21 13 28 12 33 13 30 12 22 13 11 12-4 13-17 12-26 13-31 12-27 13-17 12-3 13 10 12 15 13 9 12-5 13-14 12-4 13-3 12-15 13-5 12 10 13 15 12 10 13-3 12-17 13-27 12-31 13-27 12-17 13-3 12 11 12 22 13 30 12 32 13 29 12 20 13 9 12-6 13-19 12-31 13-41 12-47 13-48 12-44 13-38 12-27 13-14 12 0 13 14 12 26 13 37 12 45 13 49 12 49 13 46 12 39 13 30 12 18 13 4 12-9 13-23 12-36 13-47 12-56 13-62 12-64 13-65 29 186-13 65-12 64-13 62-12 56-13 47-12 36-13 23-12 9-13-4-12-18-13-30-12-39-13-46-12-49-13-49-12-45-13-37-12-26-13-14-12 0-13 14-12 27-13 38-12 44-13 48-12 47-13 41-12 31-13 19-12 6-13-9-12-20-13-29-12-32-13-30-12-22-13-11-12 3-13 17-12 27-13 31-12 27-13 17-12 3-12-10-13-15-12-10-13 5-12 15-13 3-12 4-13 14-12 5-13-9-12-15-13-10-12 3-13 17-12 27-13 31-12 26-13 17-12 4-13-11-12-22-13-30-12-33-13-28-12-21-13-8-12 5-13 19-12 32-13 41-12 47-13 48-12 44-13 37-12 27-13 14-12 0-13-13-12-27-13-37-12-44-13-49-12-49-13-46-12-39-13-30-12-18-13-5-12 9-12 24-13 35-12 47-13 56-12 62-13 65-12 65z"/>
<path transform="translate(-439 -214)" d="M827 1373l13-65 12-65 13-62 12-56 13-47 12-35 13-23 12-10 13 5 12 18 13 30 12 39 13 46 12 49 13 49 12 44 13 37 12 27 13 13 12 0 13-14 12-27 13-37 12-44 13-48 12-47 13-41 12-32 12-19 13-5 12 8 13 21 12 29 13 32 12 30 13 22 12 11 13-4 12-16 13-27 12-31 13-27 12-17 13-3 12 10 13 15 12 9 13-5 12-14 13-4 12-3 13-15 12-4 13 9 12 15 13 10 12-3 13-17 12-27 13-31 12-27 13-17 12-3 13 11 12 22 13 30 12 32 13 29 12 20 13 9 12-6 13-19 12-31 13-41 12-47 13-48 12-44 13-38 12-27 12-14 13 0 12 14 13 26 12 37 13 45 12 49 13 49 12 46 13 39 12 30 13 18 12 4 13-9 12-23 13-36 12-47 13-56 12-61 13-65 12-65 29 168-12 65-13 65-12 61-13 56-12 47-13 36-12 23-13 10-12-5-13-18-12-30-13-39-12-46-13-49-12-49-13-45-12-36-13-27-12-14-13 0-12 14-13 27-12 38-13 44-12 48-13 47-12 41-13 31-12 20-12 5-13-9-12-20-13-29-12-32-13-30-12-22-13-11-12 3-13 17-12 27-13 31-12 27-13 17-12 3-13-10-12-15-13-9-12 4-13 15-12 3-13 4-12 14-13 5-12-9-13-15-12-10-13 3-12 17-13 27-12 31-13 27-12 16-13 4-12-11-13-22-12-30-13-32-12-29-13-20-12-9-13 5-12 20-13 31-12 41-13 47-12 48-13 44-12 38-13 26-12 14-12 0-13-13-12-27-13-37-12-44-13-49-12-49-13-46-12-39-13-30-12-18-13-5-12 10-13 23-12 35-13 48-12 55-13 62-12 65-13 65z"/>
<path transform="translate(-429 -209)" d="M827 1431l12-65 13-65 12-62 13-56 12-47 13-35 12-23 13-10 12 5 13 18 12 30 13 39 12 46 13 49 12 49 13 44 12 37 13 27 12 13 13 0 12-14 13-27 12-37 13-44 12-48 13-47 12-41 13-32 12-19 13-5 12 8 13 21 12 29 13 32 12 30 13 22 12 11 13-4 12-16 13-27 12-31 13-27 12-17 12-3 13 10 12 15 13 9 12-5 13-14 12-4 13-3 12-15 13-4 12 9 13 15 12 10 13-3 12-17 13-27 12-31 13-27 12-17 13-3 12 11 13 22 12 30 13 32 12 29 13 20 12 9 13-6 12-19 13-31 12-41 13-47 12-48 13-44 12-38 13-27 12-14 13 0 12 14 13 26 12 37 13 45 12 49 13 49 12 46 13 39 12 30 13 18 12 4 12-9 13-23 12-36 13-47 12-56 13-61 12-65 13-65 29 142-13 65-12 65-13 61-12 56-13 47-12 36-13 23-12 9-13-4-12-18-13-30-12-39-13-46-12-49-13-49-12-45-12-37-13-26-12-14-13 0-12 14-13 27-12 38-13 44-12 48-13 47-12 41-13 31-12 19-13 6-12-9-13-20-12-29-13-32-12-30-13-22-12-11-13 3-12 17-13 27-12 31-13 27-12 17-13 3-12-10-13-15-12-9-13 4-12 15-13 3-12 4-13 14-12 5-13-9-12-15-13-10-12 3-13 17-12 27-13 31-12 27-13 16-12 4-13-11-12-22-13-30-12-32-12-29-13-21-12-8-13 5-12 19-13 32-12 41-13 47-12 48-13 44-12 38-13 26-12 14-13 0-12-13-13-27-12-37-13-44-12-49-13-49-12-46-13-39-12-30-13-18-12-5-13 10-12 23-13 35-12 47-13 56-12 62-13 65-12 65z"/>
<path transform="translate(-419 -204)" d="M827 1483l12-65 13-65 12-62 13-56 12-47 13-35 12-24 12-9 13 5 12 18 13 30 12 39 13 46 12 49 13 49 12 44 13 37 12 27 13 13 12 0 13-14 12-27 13-37 12-44 13-48 12-47 13-41 12-32 13-19 12-5 13 8 12 21 13 28 12 33 13 30 12 22 13 11 12-4 13-17 12-26 13-31 12-27 13-17 12-3 13 10 12 15 13 9 12-5 13-14 12-4 13-3 12-15 13-5 12 10 13 15 12 10 12-3 13-17 12-27 13-31 12-27 13-17 12-3 13 11 12 22 13 30 12 32 13 29 12 20 13 9 12-6 13-19 12-31 13-41 12-47 13-48 12-44 13-38 12-27 13-14 12 0 13 14 12 26 13 37 12 45 13 49 12 49 13 46 12 39 13 30 12 18 13 4 12-9 13-23 12-36 13-47 12-56 13-62 12-64 13-65 28 109-12 65-12 65-13 62-12 55-13 47-12 36-13 23-12 10-13-5-12-18-13-30-12-39-13-46-12-49-13-49-12-44-13-37-12-27-13-14-12 1-13 14-12 26-13 38-12 44-13 48-12 47-13 41-12 31-13 20-12 5-13-9-12-20-13-29-12-32-13-30-12-22-13-11-12 4-13 16-12 27-13 31-12 27-13 17-12 3-13-10-12-15-13-9-12 5-13 14-12 4-13 3-12 15-12 4-13-9-12-15-13-10-12 3-13 17-12 27-13 31-12 27-13 17-12 3-13-11-12-22-13-30-12-32-13-29-12-20-13-9-12 5-13 20-12 31-13 41-12 47-13 48-12 44-13 38-12 26-13 14-12 1-13-14-12-27-13-36-12-45-13-49-12-49-13-46-12-39-13-30-12-18-13-5-12 10-13 23-12 36-13 47-12 55-13 62-12 65-13 65z"/>
<path transform="translate(-410 -200)" d="M827 1527l13-65 12-65 13-62 12-55 13-48 12-35 13-23 12-10 13 5 12 18 13 30 12 39 13 46 12 49 13 49 12 44 13 37 12 27 13 13 12 0 12-14 13-26 12-38 13-44 12-48 13-47 12-41 13-31 12-20 13-5 12 9 13 20 12 29 13 32 12 30 13 22 12 11 13-4 12-16 13-27 12-31 13-27 12-17 13-3 12 10 13 15 12 9 13-5 12-14 13-4 12-3 13-15 12-4 13 9 12 15 13 10 12-3 13-17 12-27 13-31 12-27 13-17 12-3 13 11 12 22 13 30 12 32 13 29 12 20 13 9 12-5 12-20 13-31 12-41 13-47 12-48 13-44 12-38 13-27 12-14 13 0 12 14 13 27 12 36 13 45 12 49 13 49 12 46 13 39 12 30 13 18 12 5 13-10 12-23 13-36 12-47 13-56 12-61 13-65 12-65 29 71-12 65-13 65-12 62-13 56-12 47-13 36-12 23-13 9-12-5-13-18-12-29-13-40-12-46-13-49-12-49-13-44-12-37-13-26-12-14-13 0-12 14-13 27-12 37-13 45-12 48-13 46-12 41-13 32-12 19-13 5-12-8-13-21-12-28-13-32-12-30-13-23-12-10-13 3-12 17-12 27-13 30-12 28-13 17-12 3-13-10-12-16-13-9-12 5-13 14-12 4-13 4-12 14-13 5-12-10-13-15-12-10-13 3-12 17-13 27-12 31-13 27-12 17-13 3-12-10-13-23-12-30-13-32-12-29-13-20-12-8-13 5-12 19-13 32-12 41-13 46-12 48-13 45-12 37-13 27-12 14-13 0-12-14-13-26-12-37-13-45-12-48-13-49-12-46-12-40-13-29-12-18-13-5-12 9-13 23-12 36-13 47-12 56-13 62-12 65-13 64z"/>
<path transform="translate(-400 -195)" d="M827 1559l12-65 13-65 12-62 13-56 12-47 13-35 12-23 13-10 12 5 13 18 12 30 13 39 12 46 13 49 12 49 13 44 12 37 13 27 12 13 13 0 12-14 13-26 12-38 13-44 12-48 13-47 12-41 13-32 12-19 13-5 12 8 13 21 12 29 13 32 12 30 12 22 13 11 12-4 13-16 12-27 13-31 12-27 13-17 12-3 13 10 12 15 13 9 12-5 13-14 12-4 13-3 12-15 13-4 12 9 13 15 12 10 13-3 12-17 13-27 12-31 13-27 12-17 13-3 12 11 13 22 12 30 13 32 12 29 13 20 12 9 13-6 12-19 13-31 12-41 13-47 12-48 13-44 12-38 13-27 12-14 13 0 12 14 13 26 12 37 12 45 13 49 12 49 13 46 12 39 13 30 12 18 13 4 12-9 13-23 12-36 13-47 12-56 13-61 12-65 13-65 29 31-13 65-12 64-13 62-12 56-13 47-12 36-13 23-12 9-13-4-12-18-13-30-12-39-13-46-12-49-13-49-12-45-13-37-12-26-13-14-12 0-13 14-12 27-13 38-12 44-12 48-13 47-12 41-13 31-12 19-13 6-12-9-13-20-12-29-13-32-12-30-13-22-12-11-13 3-12 17-13 27-12 31-13 27-12 17-13 3-12-10-13-15-12-10-13 5-12 15-13 3-12 4-13 14-12 5-13-9-12-15-13-10-12 3-13 17-12 27-13 31-12 26-13 17-12 4-13-11-12-22-13-30-12-33-13-28-12-21-13-8-12 5-13 19-12 32-13 41-12 47-12 47-13 45-12 37-13 27-12 14-13 0-12-13-13-27-12-37-13-44-12-49-13-49-12-46-13-39-12-30-13-18-12-5-13 9-12 24-13 35-12 47-13 56-12 62-13 65-12 65z"/>
<path transform="translate(-390 -190)" d="M826 1578l13-65 12-65 13-62 12-55 13-47 12-36 13-23 12-10 13 5 12 18 13 30 12 39 13 46 12 49 13 49 12 45 13 36 12 27 13 14 12-1 13-14 12-26 13-38 12-44 13-48 12-47 13-41 12-31 13-20 12-5 13 9 12 20 13 29 12 32 13 30 12 22 13 11 12-3 13-17 12-27 13-31 12-27 13-17 12-3 13 10 12 15 13 9 12-4 12-15 13-3 12-4 13-14 12-5 13 9 12 15 13 10 12-3 13-17 12-27 13-31 12-27 13-16 12-4 13 11 12 22 13 30 12 32 13 29 12 20 13 9 12-5 13-20 12-31 13-41 12-47 13-48 12-44 13-38 12-26 13-14 12-1 13 14 12 27 13 37 12 44 13 49 12 49 13 46 12 39 13 30 12 18 13 5 12-10 13-23 12-36 13-47 12-55 12-62 13-65 12-65 29-10-12 65-13 65-12 61-13 56-12 47-13 36-12 23-13 10-12-5-12-18-13-30-12-39-13-46-12-49-13-49-12-45-13-36-12-27-13-14-12 0-13 14-12 27-13 38-12 44-13 48-12 47-13 41-12 31-13 20-12 5-13-9-12-20-13-29-12-32-13-30-12-22-13-11-12 3-13 17-12 27-13 31-12 27-13 17-12 3-13-10-12-15-13-9-12 4-13 15-12 3-13 4-12 14-13 5-12-9-13-15-12-10-13 3-12 17-13 27-12 31-12 27-13 16-12 4-13-11-12-22-13-30-12-32-13-29-12-20-13-9-12 5-13 20-12 31-13 41-12 47-13 48-12 44-13 38-12 26-13 14-12 0-13-13-12-27-13-37-12-44-13-49-12-49-13-46-12-39-13-30-12-18-13-5-12 10-13 23-12 35-13 47-12 56-13 62-12 65-13 65z"/>
<path transform="translate(-381 -186)" d="M827 1584l13-64 12-65 13-62 12-56 13-47 12-36 13-23 12-9 13 5 12 18 13 29 12 40 12 46 13 49 12 48 13 45 12 37 13 26 12 14 13 0 12-14 13-27 12-37 13-45 12-48 13-46 12-41 13-32 12-19 13-5 12 8 13 20 12 29 13 32 12 30 13 23 12 10 13-3 12-17 13-27 12-31 13-27 12-17 13-3 12 10 13 15 12 10 13-5 12-14 13-4 12-4 13-14 12-5 13 9 12 16 13 10 12-3 13-17 12-28 13-30 12-27 13-17 12-3 12 10 13 23 12 30 13 32 12 28 13 21 12 8 13-5 12-19 13-32 12-41 13-46 12-48 13-45 12-37 13-27 12-14 13 0 12 14 13 26 12 37 13 44 12 49 13 49 12 46 13 40 12 29 13 18 12 5 13-9 12-23 13-36 12-47 13-56 12-62 13-65 12-65 29-49-12 65-13 65-12 62-13 56-12 47-13 35-12 24-13 9-12-5-13-18-12-30-13-39-12-46-13-49-12-49-13-44-12-37-13-27-12-13-13 0-12 14-13 27-12 37-13 45-12 47-13 47-12 41-13 32-12 19-13 5-12-8-13-21-12-28-13-33-12-29-13-23-12-11-13 4-12 17-13 26-12 31-13 28-12 16-13 3-12-10-13-15-12-9-12 5-13 14-12 4-13 3-12 15-13 5-12-10-13-15-12-10-13 3-12 17-13 27-12 31-13 27-12 17-13 3-12-11-13-22-12-30-13-32-12-29-13-20-12-9-13 6-12 19-13 31-12 41-13 47-12 48-13 44-12 38-13 27-12 14-13 0-12-14-13-26-12-37-13-45-12-49-13-49-12-46-13-39-12-30-13-18-12-4-13 9-12 23-13 36-12 47-12 56-13 62-12 64-13 65z"/>
<path transform="translate(-371 -181)" d="M827 1576l12-65 13-65 12-62 13-56 12-47 13-35 12-24 13-9 12 5 13 18 12 30 13 39 12 46 13 49 12 49 13 44 12 37 13 27 12 13 13 0 12-14 13-27 12-37 13-45 12-47 13-47 12-41 12-32 13-19 12-5 13 8 12 21 13 28 12 33 13 30 12 22 13 11 12-4 13-17 12-26 13-31 12-27 13-17 12-3 13 10 12 15 13 9 12-5 13-14 12-4 13-3 12-15 13-5 12 10 13 15 12 10 13-3 12-17 13-27 12-31 13-27 12-17 13-3 12 11 13 22 12 30 13 32 12 29 13 20 12 9 13-6 12-19 13-31 12-41 13-47 12-48 12-44 13-38 12-27 13-14 12 0 13 14 12 26 13 37 12 45 13 49 12 49 13 46 12 39 13 30 12 18 13 4 12-9 13-23 12-36 13-47 12-56 13-62 12-64 13-65 29-84-13 65-12 65-13 62-12 55-13 47-12 36-13 23-12 10-13-5-12-18-13-30-12-39-13-46-12-49-13-49-12-44-13-37-12-27-13-14-12 1-13 14-12 26-13 38-12 44-13 48-12 47-13 41-12 31-13 20-12 5-13-9-12-20-12-29-13-32-12-30-13-22-12-11-13 4-12 16-13 27-12 31-13 27-12 17-13 3-12-10-13-15-12-9-13 4-12 15-13 3-12 4-13 15-12 4-13-9-12-15-13-10-12 3-13 17-12 27-13 31-12 27-13 16-12 4-13-11-12-22-13-30-12-32-13-29-12-20-13-9-12 5-13 20-12 31-13 41-12 47-13 48-12 44-13 38-12 26-13 14-12 1-13-14-12-27-12-37-13-44-12-49-13-49-12-46-13-39-12-30-13-18-12-5-13 10-12 23-13 36-12 47-13 55-12 62-13 65-12 65z"/>
<path transform="translate(-362 -176)" d="M827 1554l13-65 12-65 13-62 12-56 13-47 12-35 13-23 12-10 13 5 12 18 13 30 12 39 13 46 12 49 13 49 12 44 13 37 12 27 13 13 12 0 13-14 12-26 13-38 12-44 13-48 12-47 13-41 12-31 13-20 12-5 13 9 12 20 13 29 12 32 13 30 12 22 13 11 12-4 13-16 12-27 12-31 13-27 12-17 13-3 12 10 13 15 12 9 13-5 12-14 13-4 12-3 13-15 12-4 13 9 12 15 13 10 12-3 13-17 12-27 13-31 12-27 13-17 12-3 13 11 12 22 13 30 12 32 13 29 12 20 13 9 12-5 13-20 12-31 13-41 12-47 13-48 12-44 13-38 12-27 13-14 12 0 13 14 12 27 13 36 12 45 13 49 12 49 13 46 12 39 12 30 13 18 12 5 13-10 12-23 13-36 12-47 13-56 12-61 13-65 12-65 29-112-12 65-13 65-12 62-13 56-12 47-13 35-12 24-13 9-12-5-13-18-12-30-13-39-12-46-13-49-12-49-13-44-12-37-13-27-12-13-12 0-13 14-12 27-13 37-12 44-13 48-12 47-13 41-12 32-13 19-12 5-13-8-12-21-13-28-12-33-13-30-12-22-13-11-12 4-13 17-12 26-13 31-12 27-13 17-12 3-13-10-12-15-13-9-12 5-13 14-12 4-13 3-12 15-13 5-12-10-13-15-12-10-13 3-12 17-13 27-12 31-13 27-12 17-13 3-12-11-13-22-12-30-13-32-12-29-12-20-13-9-12 6-13 19-12 31-13 41-12 47-13 48-12 44-13 38-12 27-13 14-12 0-13-14-12-26-13-37-12-45-13-49-12-49-13-46-12-39-13-30-12-18-13-4-12 9-13 23-12 36-13 47-12 56-13 61-12 65-13 65z"/>
<path transform="translate(-352 -172)" d="M827 1521l13-65 12-64 13-62 12-56 12-47 13-36 12-23 13-9 12 4 13 18 12 30 13 39 12 46 13 49 12 49 13 45 12 37 13 26 12 14 13 0 12-14 13-27 12-38 13-44 12-48 13-47 12-41 13-31 12-19 13-6 12 9 13 20 12 29 13 32 12 30 13 22 12 11 13-3 12-17 13-27 12-31 13-27 12-17 13-3 12 10 13 15 12 10 13-5 12-15 13-3 12-4 13-14 12-5 13 9 12 15 12 10 13-3 12-16 13-28 12-31 13-26 12-17 13-4 12 11 13 23 12 29 13 33 12 28 13 21 12 8 13-5 12-19 13-32 12-41 13-47 12-47 13-45 12-37 13-27 12-14 13 0 12 13 13 27 12 37 13 44 12 49 13 49 12 46 13 39 12 30 13 18 12 5 13-9 12-24 13-35 12-47 13-56 12-62 13-65 12-65 29-131-13 65-12 65-13 62-12 56-12 47-13 35-12 23-13 10-12-5-13-18-12-30-13-39-12-46-13-49-12-49-13-44-12-37-13-27-12-13-13 0-12 14-13 27-12 37-13 44-12 48-13 47-12 41-13 32-12 19-13 5-12-8-13-21-12-29-13-32-12-30-13-22-12-11-13 4-12 16-13 27-12 31-13 27-12 17-13 3-12-10-13-15-12-9-13 5-12 14-13 4-12 3-13 15-12 4-13-9-12-15-12-10-13 3-12 17-13 27-12 31-13 27-12 17-13 3-12-11-13-22-12-30-13-32-12-29-13-20-12-9-13 6-12 19-13 31-12 41-13 47-12 48-13 44-12 38-13 27-12 14-13 0-12-14-13-26-12-37-13-45-12-49-13-49-12-46-13-39-12-30-13-18-12-4-13 9-12 23-13 36-12 47-13 56-12 61-13 65-12 65z"/>
<path transform="translate(-342 -167)" d="M827 1478l12-65 13-65 12-62 13-55 12-47 13-36 12-23 13-10 12 5 13 18 12 30 13 39 12 46 13 49 12 49 13 44 12 37 13 27 12 14 12-1 13-14 12-26 13-38 12-44 13-48 12-47 13-41 12-31 13-20 12-5 13 9 12 20 13 29 12 32 13 30 12 22 13 11 12-4 13-16 12-27 13-31 12-27 13-17 12-3 13 10 12 15 13 9 12-4 13-15 12-4 13-3 12-15 13-4 12 9 13 15 12 10 13-3 12-17 13-27 12-31 13-27 12-16 13-4 12 11 13 22 12 30 13 32 12 29 12 20 13 9 12-5 13-20 12-31 13-41 12-47 13-48 12-44 13-38 12-26 13-14 12-1 13 14 12 27 13 37 12 44 13 49 12 49 13 46 12 39 13 30 12 18 13 5 12-10 13-23 12-36 13-47 12-55 13-62 12-65 13-65 29-141-13 65-12 65-13 62-12 56-13 47-12 36-13 23-12 9-13-5-12-18-13-29-12-40-13-46-12-49-13-48-12-45-13-37-12-26-13-14-12 0-13 14-12 27-13 37-12 45-13 48-12 46-13 41-12 32-13 19-12 5-13-8-12-20-13-29-12-32-13-30-12-23-13-10-12 3-13 17-12 27-12 31-13 27-12 17-13 3-12-10-13-15-12-10-13 5-12 14-13 4-12 4-13 14-12 5-13-9-12-16-13-10-12 3-13 17-12 28-13 30-12 27-13 17-12 3-13-10-12-23-13-30-12-32-13-28-12-21-13-8-12 5-13 19-12 32-13 41-12 46-13 48-12 45-13 37-12 27-13 14-12 0-13-14-12-26-13-37-12-45-13-48-12-49-13-46-12-40-12-29-13-18-12-5-13 9-12 23-13 36-12 47-13 56-12 62-13 65-12 65z"/>
<path transform="translate(-333 -162)" d="M827 1428l13-65 12-65 13-61 12-56 13-47 12-36 13-23 12-9 13 4 12 18 13 30 12 39 13 46 12 49 13 49 12 45 13 37 12 26 13 14 12 0 13-14 12-27 13-38 12-44 13-48 12-47 13-41 12-31 13-19 12-6 13 9 12 20 12 29 13 32 12 30 13 22 12 11 13-3 12-17 13-27 12-31 13-27 12-17 13-3 12 10 13 15 12 10 13-5 12-15 13-3 12-4 13-14 12-5 13 9 12 15 13 10 12-3 13-17 12-27 13-31 12-26 13-17 12-4 13 11 12 22 13 30 12 33 13 28 12 21 13 8 12-5 13-19 12-32 13-41 12-47 13-48 12-44 13-37 12-27 13-14 12 0 13 13 12 27 12 37 13 44 12 49 13 49 12 46 13 39 12 30 13 18 12 5 13-9 12-24 13-35 12-47 13-56 12-62 13-65 12-65 29-139-12 65-13 65-12 62-13 56-12 47-13 35-12 23-13 10-12-5-13-18-12-30-13-39-12-46-13-49-12-49-13-44-12-37-13-27-12-13-13 0-12 14-13 27-12 37-13 44-12 48-13 47-12 41-12 32-13 19-12 5-13-8-12-21-13-29-12-32-13-30-12-22-13-11-12 4-13 16-12 27-13 31-12 27-13 17-12 3-13-10-12-15-13-9-12 5-13 14-12 4-13 3-12 15-13 4-12-9-13-15-12-10-13 3-12 17-13 27-12 31-13 27-12 17-13 3-12-11-13-22-12-30-13-32-12-29-13-20-12-9-13 6-12 19-13 31-12 41-13 47-12 48-12 44-13 38-12 27-13 14-12 0-13-14-12-26-13-37-12-45-13-49-12-49-13-46-12-39-13-30-12-18-13-4-12 9-13 23-12 36-13 47-12 56-13 61-12 65-13 65z"/>
<path transform="translate(-323 -157)" d="M827 1375l12-65 13-65 12-61 13-56 12-47 13-36 12-23 13-9 12 4 13 18 12 30 13 39 12 46 13 49 12 49 13 45 12 37 13 26 12 14 13 0 12-14 13-27 12-38 13-44 12-48 13-47 12-41 13-31 12-19 13-6 12 9 13 20 12 29 13 32 12 30 13 22 12 11 13-3 12-17 13-27 12-31 13-27 12-17 13-3 12 10 13 15 12 9 12-4 13-15 12-3 13-4 12-14 13-5 12 9 13 15 12 10 13-3 12-17 13-27 12-31 13-27 12-16 13-4 12 11 13 22 12 30 13 32 12 29 13 21 12 8 13-5 12-19 13-32 12-41 13-47 12-48 13-44 12-37 13-27 12-14 13 0 12 13 13 27 12 37 13 44 12 49 13 49 12 46 13 39 12 30 13 18 12 5 13-10 12-23 13-35 12-47 12-56 13-62 12-65 13-65 29-127-13 65-12 65-13 62-12 56-13 47-12 36-13 23-12 9-13-5-12-18-13-30-12-39-12-46-13-49-12-49-13-44-12-37-13-27-12-13-13 0-12 14-13 27-12 37-13 45-12 47-13 47-12 41-13 32-12 19-13 5-12-8-13-21-12-28-13-32-12-30-13-23-12-11-13 4-12 17-13 26-12 31-13 28-12 17-13 2-12-9-13-16-12-9-13 5-12 14-13 4-12 4-13 14-12 5-13-10-12-15-13-10-12 3-13 17-12 27-13 31-12 27-13 17-12 3-12-11-13-22-12-30-13-32-12-29-13-20-12-9-13 6-12 19-13 31-12 42-13 46-12 48-13 45-12 37-13 27-12 14-13 0-12-14-13-26-12-37-13-45-12-48-13-50-12-45-13-40-12-30-13-18-12-4-13 9-12 23-13 36-12 47-13 56-12 62-13 65-12 64z"/>
<path transform="translate(-313 -153)" d="M827 1324l12-65 13-65 12-62 13-56 12-47 13-36 12-23 13-9 12 5 13 18 12 29 12 40 13 46 12 49 13 48 12 45 13 37 12 26 13 14 12 0 13-14 12-27 13-37 12-45 13-48 12-46 13-41 12-32 13-19 12-5 13 8 12 21 13 28 12 32 13 30 12 23 13 10 12-3 13-17 12-27 13-30 12-28 13-17 12-3 13 10 12 16 13 9 12-5 13-14 12-4 13-4 12-14 13-5 12 10 13 15 12 10 13-3 12-17 13-27 12-31 12-27 13-17 12-3 13 10 12 23 13 30 12 32 13 29 12 20 13 8 12-5 13-19 12-32 13-41 12-46 13-48 12-45 13-37 12-27 13-14 12 0 13 14 12 26 13 37 12 45 13 48 12 49 13 46 12 40 13 29 12 18 13 5 12-9 13-23 12-36 13-47 12-56 13-62 12-65 13-65 29-104-13 65-12 65-13 62-12 55-13 47-12 36-13 23-12 10-13-5-12-18-13-30-12-39-13-46-12-49-13-49-12-44-13-37-12-27-13-14-12 1-13 14-12 26-13 38-12 44-13 48-12 47-13 41-12 31-13 20-12 5-13-9-12-20-13-29-12-32-13-30-12-22-13-11-12 4-13 16-12 27-13 31-12 27-13 17-12 3-13-10-12-15-13-9-12 4-12 15-13 3-12 4-13 15-12 4-13-9-12-15-13-10-12 3-13 17-12 27-13 31-12 27-13 16-12 4-13-11-12-22-13-30-12-32-13-29-12-20-13-9-12 5-13 20-12 31-13 41-12 47-13 48-12 44-13 38-12 26-13 14-12 1-13-14-12-27-13-37-12-44-13-49-12-49-13-46-12-39-13-30-12-18-13-5-12 10-13 23-12 36-13 47-12 55-13 62-12 65-12 65z"/>
<path transform="translate(-304 -148)" d="M827 1275l13-65 12-65 13-61 12-56 13-47 12-36 13-23 12-9 13 4 12 18 13 30 12 39 13 46 12 49 13 49 12 45 13 37 12 26 13 14 12 0 13-14 12-27 13-38 12-44 12-48 13-47 12-41 13-31 12-19 13-6 12 9 13 20 12 29 13 32 12 30 13 22 12 11 13-3 12-17 13-27 12-31 13-27 12-17 13-3 12 10 13 15 12 9 13-4 12-15 13-3 12-4 13-14 12-5 13 9 12 15 13 10 12-3 13-17 12-27 13-31 12-27 13-16 12-4 13 11 12 22 13 30 12 32 13 29 12 21 13 8 12-5 13-19 12-32 13-41 12-47 12-48 13-44 12-37 13-27 12-14 13 0 12 13 13 27 12 37 13 44 12 49 13 49 12 46 13 39 12 30 13 18 12 5 13-10 12-23 13-35 12-47 13-56 12-62 13-65 12-65 29-74-12 65-13 65-12 62-13 56-12 47-13 36-12 23-13 9-12-5-13-18-12-30-13-39-12-46-13-49-12-49-13-44-12-37-13-26-12-14-13 0-12 14-13 27-12 37-13 45-12 47-13 47-12 41-13 32-12 19-13 5-12-8-13-21-12-28-13-32-12-30-12-23-13-10-12 3-13 17-12 27-13 30-12 28-13 17-12 2-13-9-12-16-13-9-12 5-13 14-12 4-13 4-12 14-13 5-12-10-13-15-12-10-13 3-12 17-13 27-12 31-13 27-12 17-13 3-12-11-13-22-12-30-13-32-12-29-13-20-12-9-13 6-12 19-13 32-12 41-13 46-12 48-13 45-12 37-13 27-12 14-13 0-12-14-13-26-12-37-12-45-13-48-12-50-13-45-12-40-13-30-12-18-13-4-12 9-13 23-12 36-13 47-12 56-13 62-12 65-13 64z"/>
<path transform="translate(-294 -143)" d="M827 1234l12-64 13-65 12-62 13-56 12-47 13-36 12-23 13-9 12 4 13 18 12 30 13 40 12 45 13 50 12 48 13 45 12 37 13 26 12 14 13 0 12-14 13-27 12-37 13-45 12-48 13-46 12-42 13-31 12-19 13-6 12 9 13 20 12 29 13 32 12 30 13 22 12 11 13-3 12-17 12-27 13-31 12-27 13-17 12-3 13 10 12 15 13 10 12-5 13-14 12-4 13-4 12-14 13-5 12 9 13 16 12 9 13-2 12-17 13-28 12-31 13-26 12-17 13-4 12 11 13 23 12 30 13 32 12 28 13 21 12 8 13-5 12-19 13-32 12-41 13-47 12-47 13-45 12-37 13-27 12-14 13 0 12 13 13 27 12 37 13 44 12 49 13 49 12 46 12 39 13 30 12 18 13 5 12-9 13-23 12-36 13-47 12-56 13-62 12-65 13-65 29-37-13 65-12 65-13 62-12 56-13 47-12 36-13 23-12 9-13-5-12-18-13-29-12-40-13-46-12-49-13-48-12-45-13-37-12-26-13-14-12 0-12 14-13 27-12 37-13 45-12 48-13 46-12 41-13 32-12 19-13 5-12-8-13-20-12-29-13-32-12-30-13-23-12-10-13 3-12 17-13 27-12 31-13 27-12 17-13 3-12-10-13-15-12-10-13 5-12 14-13 4-12 4-13 14-12 5-13-9-12-16-13-10-12 3-13 17-12 28-13 30-12 27-13 17-12 3-13-10-12-23-13-30-12-32-13-28-12-21-13-8-12 5-12 19-13 32-12 41-13 46-12 48-13 45-12 37-13 27-12 14-13 0-12-14-13-26-12-37-13-45-12-48-13-49-12-46-13-40-12-29-13-18-12-5-13 9-12 23-13 36-12 47-13 56-12 62-13 65-12 65z"/>
<path transform="translate(-284 -139)" d="M827 1205l12-65 13-65 12-62 12-55 13-47 12-36 13-23 12-10 13 5 12 18 13 30 12 39 13 46 12 49 13 49 12 44 13 37 12 27 13 14 12-1 13-14 12-26 13-38 12-44 13-48 12-47 13-41 12-31 13-20 12-5 13 9 12 20 13 29 12 32 13 30 12 22 13 11 12-4 13-16 12-27 13-31 12-27 13-17 12-3 13 10 12 15 13 9 12-4 13-15 12-4 13-3 12-15 12-4 13 9 12 15 13 10 12-3 13-17 12-27 13-31 12-27 13-16 12-4 13 11 12 22 13 30 12 32 13 29 12 20 13 9 12-5 13-20 12-31 13-41 12-47 13-48 12-44 13-38 12-26 13-14 12-1 13 14 12 27 13 37 12 44 13 49 12 49 13 46 12 39 13 30 12 18 13 5 12-10 13-23 12-36 13-47 12-55 13-62 12-65 13-65 28 4-12 64-13 65-12 62-13 56-12 47-12 36-13 23-12 9-13-4-12-18-13-30-12-40-13-45-12-50-13-48-12-45-13-37-12-26-13-14-12 0-13 14-12 27-13 37-12 45-13 48-12 46-13 41-12 32-13 19-12 6-13-9-12-20-13-29-12-32-13-30-12-22-13-11-12 3-13 17-12 27-13 31-12 27-13 17-12 3-13-10-12-15-13-10-12 5-13 14-12 4-13 4-12 14-13 5-12-9-13-16-12-9-12 2-13 17-12 28-13 30-12 27-13 17-12 3-13-10-12-23-13-30-12-32-13-28-12-21-13-8-12 5-13 19-12 32-13 41-12 47-13 47-12 45-13 37-12 27-13 14-12 0-13-14-12-26-13-37-12-44-13-49-12-49-13-46-12-39-13-30-12-18-13-5-12 9-13 23-12 36-13 47-12 56-13 62-12 65-13 65z"/>
<path transform="translate(-275 -134)" d="M827 1187l13-64 12-65 13-62 12-56 13-47 12-36 13-23 12-9 13 4 12 18 13 30 12 40 13 45 12 50 13 48 12 45 12 37 13 26 12 14 13 0 12-14 13-27 12-37 13-45 12-48 13-46 12-41 13-32 12-19 13-6 12 9 13 20 12 29 13 32 12 30 13 22 12 11 13-3 12-17 13-27 12-31 13-27 12-17 13-3 12 10 13 15 12 10 13-5 12-14 13-4 12-4 13-14 12-5 13 9 12 16 13 9 12-2 13-17 12-28 13-30 12-27 13-17 12-3 13 10 12 23 12 30 13 32 12 28 13 21 12 8 13-5 12-19 13-32 12-41 13-47 12-47 13-45 12-37 13-27 12-14 13 0 12 14 13 26 12 37 13 44 12 49 13 49 12 46 13 39 12 30 13 18 12 5 13-9 12-23 13-36 12-47 13-56 12-62 13-65 12-65 29 44-12 65-13 65-12 62-13 56-12 47-13 36-12 23-13 9-12-5-13-18-12-29-13-40-12-46-13-49-12-48-13-45-12-37-13-26-12-14-13 0-12 14-13 27-12 37-13 45-12 48-13 46-12 41-13 32-12 19-13 5-12-8-13-20-12-29-13-32-12-30-13-23-12-10-13 3-12 17-13 27-12 31-13 27-12 17-12 3-13-10-12-15-13-10-12 5-13 14-12 4-13 4-12 14-13 5-12-9-13-16-12-10-13 3-12 17-13 28-12 30-13 27-12 17-13 3-12-10-13-23-12-30-13-32-12-28-13-21-12-8-13 5-12 19-13 32-12 41-13 46-12 48-13 45-12 37-13 27-12 14-13 0-12-14-13-26-12-37-13-44-12-49-13-49-12-46-13-40-12-29-13-18-12-5-12 9-13 23-12 36-13 47-12 56-13 62-12 65-13 65z"/>
<path transform="translate(-265 -129)" d="M827 1184l12-65 13-65 12-62 13-56 12-47 13-36 12-23 13-9 12 5 13 18 12 29 13 40 12 46 13 49 12 48 13 45 12 37 13 26 12 14 13 0 12-14 13-27 12-37 13-45 12-48 13-46 12-41 13-32 12-19 13-5 12 8 12 21 13 28 12 32 13 30 12 23 13 10 12-3 13-17 12-27 13-30 12-28 13-17 12-3 13 10 12 16 13 9 12-5 13-14 12-4 13-4 12-14 13-5 12 10 13 15 12 10 13-3 12-17 13-27 12-31 13-27 12-17 13-3 12 10 13 23 12 30 13 32 12 29 13 20 12 8 13-5 12-19 13-32 12-41 13-46 12-48 13-45 12-37 13-27 12-14 12 0 13 14 12 26 13 37 12 45 13 48 12 49 13 46 12 40 13 29 12 18 13 5 12-9 13-23 12-36 13-47 12-56 13-62 12-65 13-65 29 82-13 65-12 65-13 62-12 55-13 47-12 36-13 23-12 10-13-5-12-18-13-30-12-39-13-46-12-49-13-49-12-44-13-37-12-27-13-14-12 1-13 14-12 26-13 38-12 44-13 48-12 47-13 41-12 31-12 20-13 5-12-9-13-20-12-29-13-32-12-30-13-22-12-11-13 4-12 16-13 27-12 31-13 27-12 17-13 3-12-10-13-15-12-9-13 4-12 15-13 4-12 3-13 15-12 4-13-9-12-15-13-10-12 3-13 17-12 27-13 31-12 27-13 16-12 4-13-11-12-22-13-30-12-32-13-29-12-20-13-9-12 5-13 20-12 31-13 41-12 47-13 48-12 44-12 38-13 26-12 14-13 1-12-14-13-27-12-37-13-44-12-49-13-49-12-46-13-39-12-30-13-18-12-5-13 10-12 23-13 36-12 47-13 55-12 62-13 65-12 65z"/>
<path transform="translate(-255 -125)" d="M826 1195l13-65 12-65 13-62 12-56 13-47 12-36 13-23 12-9 13 5 12 18 13 30 12 39 13 46 12 49 13 49 12 44 13 37 12 26 13 14 12 0 13-14 12-27 13-37 12-45 13-47 12-47 13-41 12-32 13-19 12-5 13 8 12 21 13 28 12 32 13 30 12 23 13 10 12-3 13-17 12-27 13-30 12-28 13-17 12-2 12 9 13 16 12 9 13-5 12-14 13-4 12-4 13-14 12-5 13 10 12 15 13 10 12-3 13-17 12-27 13-31 12-27 13-17 12-3 13 11 12 22 13 30 12 32 13 29 12 20 13 9 12-6 13-19 12-32 13-41 12-46 13-48 12-45 13-37 12-27 13-14 12 0 13 14 12 26 13 37 12 45 13 48 12 50 13 45 12 40 13 30 12 18 13 4 12-9 12-23 13-36 12-47 13-56 12-62 13-65 12-64 29 112-12 64-13 65-12 62-13 56-12 47-13 36-12 23-13 9-12-4-13-18-12-30-13-40-12-45-12-50-13-48-12-45-13-37-12-26-13-14-12 0-13 14-12 27-13 37-12 45-13 48-12 46-13 42-12 31-13 19-12 6-13-9-12-20-13-29-12-32-13-30-12-22-13-11-12 3-13 17-12 27-13 31-12 27-13 17-12 3-13-10-12-15-13-10-12 5-13 14-12 4-13 4-12 14-13 5-12-9-13-16-12-9-13 2-12 17-13 28-12 31-13 26-12 17-13 4-12-11-12-23-13-30-12-32-13-28-12-21-13-8-12 5-13 19-12 32-13 41-12 47-13 47-12 45-13 37-12 27-13 14-12 0-13-13-12-27-13-37-12-44-13-49-12-49-13-46-12-39-13-30-12-18-13-5-12 9-13 23-12 36-13 47-12 56-13 62-12 65-13 65z"/>
<path transform="translate(-246 -120)" d="M827 1218l13-65 12-65 13-62 12-56 13-47 12-36 13-23 12-9 12 5 13 18 12 29 13 40 12 46 13 49 12 49 13 44 12 37 13 26 12 14 13 0 12-14 13-27 12-37 13-45 12-48 13-46 12-41 13-32 12-19 13-5 12 8 13 21 12 28 13 32 12 30 13 23 12 10 13-3 12-17 13-27 12-30 13-28 12-17 13-3 12 10 13 16 12 9 13-5 12-14 13-4 12-4 13-14 12-5 13 10 12 15 13 10 12-3 13-17 12-27 12-31 13-27 12-17 13-3 12 10 13 23 12 30 13 32 12 29 13 20 12 8 13-5 12-19 13-32 12-41 13-46 12-48 13-45 12-37 13-27 12-14 13 0 12 14 13 26 12 37 13 45 12 48 13 49 12 46 13 40 12 29 13 18 12 5 13-9 12-23 13-36 12-47 13-56 12-62 13-65 12-65 29 134-12 64-13 65-12 62-13 56-12 47-13 36-12 23-13 9-12-4-13-18-12-30-13-40-12-46-13-49-12-48-13-45-12-37-13-26-12-14-13 0-12 14-13 27-12 37-13 45-12 48-13 46-12 41-13 32-12 19-13 6-12-9-13-20-12-29-13-32-12-30-13-23-12-10-13 3-12 17-13 27-12 31-13 27-12 17-13 3-12-10-13-15-12-10-13 5-12 14-13 4-12 4-12 14-13 5-12-9-13-16-12-10-13 3-12 17-13 28-12 30-13 27-12 17-13 3-12-10-13-23-12-30-13-32-12-28-13-21-12-8-13 5-12 19-13 32-12 41-13 46-12 48-13 45-12 37-13 27-12 14-13 0-12-14-13-26-12-37-13-44-12-49-13-49-12-46-13-39-12-30-13-18-12-5-13 9-12 23-13 36-12 47-13 56-12 62-13 65-12 65z"/>
<path transform="translate(-236 -115)" d="M827 1251l12-65 13-65 12-62 13-55 12-47 13-36 12-23 13-10 12 5 13 18 12 30 13 39 12 46 13 49 12 49 13 44 12 37 13 27 12 14 13-1 12-14 13-26 12-38 12-44 13-48 12-47 13-41 12-31 13-20 12-5 13 9 12 20 13 29 12 32 13 30 12 22 13 11 12-4 13-16 12-27 13-31 12-27 13-17 12-3 13 10 12 15 13 9 12-4 13-15 12-3 13-4 12-15 13-4 12 9 13 15 12 10 13-3 12-17 13-27 12-31 13-27 12-16 13-4 12 11 13 22 12 30 13 32 12 29 13 20 12 9 13-5 12-20 12-31 13-41 12-47 13-48 12-44 13-38 12-26 13-14 12-1 13 14 12 27 13 37 12 44 13 49 12 49 13 46 12 39 13 30 12 18 13 5 12-10 13-23 12-36 13-47 12-55 13-62 12-65 13-65 29 142-13 65-12 65-13 62-12 56-13 47-12 36-13 23-12 9-13-5-12-18-13-30-12-39-13-46-12-49-13-49-12-44-13-37-12-26-13-14-12 0-13 14-12 27-13 37-12 45-13 47-12 47-13 41-12 32-13 19-12 5-13-8-12-21-13-28-12-32-13-30-12-23-12-10-13 3-12 17-13 27-12 30-13 28-12 17-13 2-12-9-13-16-12-9-13 5-12 14-13 4-12 4-13 14-12 5-13-10-12-15-13-10-12 3-13 17-12 27-13 31-12 27-13 17-12 3-13-10-12-23-13-30-12-32-13-29-12-20-13-9-12 6-13 19-12 32-13 41-12 46-13 48-12 45-13 37-12 27-13 14-12 0-13-14-12-26-13-37-12-45-13-48-12-50-12-45-13-40-12-30-13-18-12-4-13 9-12 23-13 36-12 47-13 56-12 62-13 65-12 64z"/>
<path transform="translate(-227 -110)" d="M827 1292l13-65 12-65 13-62 12-56 13-47 12-36 13-23 12-9 13 5 12 18 13 30 12 39 13 46 12 49 13 49 12 44 13 37 12 27 13 13 12 0 13-14 12-27 13-37 12-45 13-47 12-47 13-41 12-32 13-19 12-5 13 8 12 21 13 28 12 32 13 30 12 23 12 11 13-4 12-17 13-26 12-31 13-28 12-17 13-2 12 9 13 16 12 9 13-5 12-14 13-4 12-4 13-14 12-5 13 10 12 15 13 10 12-3 13-17 12-27 13-31 12-27 13-17 12-3 13 11 12 22 13 30 12 32 13 29 12 20 13 9 12-6 13-19 12-31 13-42 12-46 13-48 12-45 13-37 12-27 13-14 12 0 13 14 12 26 13 37 12 45 12 48 13 50 12 45 13 40 12 30 13 18 12 4 13-9 12-23 13-36 12-47 13-56 12-62 13-65 12-64 29 138-12 65-13 65-12 62-13 56-12 47-13 36-12 23-13 9-12-5-13-18-12-29-13-40-12-46-13-49-12-48-13-45-12-37-13-26-12-14-13 0-12 14-13 27-12 37-12 45-13 48-12 46-13 41-12 32-13 19-12 5-13-8-12-20-13-29-12-32-13-30-12-23-13-10-12 3-13 17-12 27-13 31-12 27-13 17-12 3-13-10-12-15-13-10-12 5-13 14-12 4-13 4-12 14-13 5-12-10-13-15-12-10-13 3-12 17-13 28-12 30-13 27-12 17-13 3-12-10-13-23-12-30-13-32-12-29-13-20-12-8-13 5-12 19-12 32-13 41-12 46-13 48-12 45-13 37-12 27-13 14-12 0-13-14-12-26-13-37-12-45-13-48-12-49-13-46-12-40-13-29-12-18-13-5-12 9-13 23-12 36-13 47-12 56-13 62-12 65-13 65z"/>
<path transform="translate(-217 -106)" d="M827 1337l12-65 13-65 12-62 13-56 12-47 13-36 12-23 13-9 12 5 13 18 12 30 13 39 12 46 13 49 12 49 13 44 12 37 13 26 12 14 13 0 12-14 13-27 12-37 13-45 12-48 13-46 12-41 13-32 12-19 13-5 12 8 13 21 12 28 13 32 12 30 13 23 12 10 13-3 12-17 13-27 12-30 13-28 12-17 13-3 12 10 13 16 12 9 13-5 12-14 13-4 12-4 12-14 13-5 12 10 13 15 12 10 13-3 12-17 13-27 12-31 13-27 12-17 13-3 12 10 13 23 12 30 13 32 12 29 13 20 12 9 13-6 12-19 13-32 12-41 13-46 12-48 13-45 12-37 13-27 12-14 13 0 12 14 13 26 12 37 13 45 12 48 13 49 12 46 13 40 12 30 13 18 12 4 13-9 12-23 13-36 12-47 13-56 12-62 13-65 12-64 29 122-13 65-12 65-13 62-12 56-13 47-12 35-13 24-12 9-12-5-13-18-12-30-13-39-12-46-13-49-12-49-13-44-12-37-13-27-12-13-13 0-12 14-13 27-12 37-13 45-12 47-13 47-12 41-13 32-12 19-13 5-12-8-13-21-12-28-13-33-12-29-13-23-12-11-13 4-12 17-13 26-12 31-13 27-12 17-13 3-12-10-13-15-12-9-13 5-12 14-13 4-12 3-13 15-12 5-13-10-12-15-13-10-12 3-13 17-12 27-12 31-13 27-12 17-13 3-12-11-13-22-12-30-13-32-12-29-13-20-12-9-13 6-12 19-13 31-12 41-13 47-12 48-13 44-12 38-13 27-12 14-13 0-12-14-13-26-12-37-13-45-12-49-13-49-12-46-13-39-12-30-13-18-12-4-13 9-12 23-13 36-12 47-13 56-12 62-13 64-12 65z"/>
<path transform="translate(-207 -101)" d="M827 1379l12-64 13-65 12-62 13-56 12-47 13-36 12-23 13-9 12 4 13 18 12 30 13 40 12 45 13 50 12 48 12 45 13 37 12 26 13 14 12 0 13-14 12-27 13-37 12-45 13-48 12-46 13-41 12-32 13-19 12-6 13 9 12 20 13 29 12 32 13 30 12 23 13 10 12-3 13-17 12-27 13-31 12-27 13-17 12-3 13 10 12 15 13 10 12-5 13-14 12-4 13-4 12-14 13-5 12 9 13 16 12 9 13-2 12-17 13-28 12-30 13-27 12-17 13-3 12 10 12 23 13 30 12 32 13 28 12 21 13 8 12-5 13-19 12-32 13-41 12-47 13-47 12-45 13-37 12-27 13-14 12 0 13 14 12 26 13 37 12 44 13 49 12 49 13 46 12 39 13 30 12 18 13 5 12-9 13-23 12-36 13-47 12-56 13-62 12-65 13-65 29 95-13 65-12 65-13 62-12 56-13 47-12 36-13 23-12 9-13-5-12-18-13-29-12-40-13-46-12-49-13-48-12-45-13-37-12-26-13-14-12 0-13 14-12 27-13 37-12 45-13 48-12 46-13 41-12 32-13 19-12 5-13-8-12-20-13-29-12-32-13-30-12-23-13-10-12 3-13 17-12 27-13 30-12 28-13 17-12 3-12-10-13-15-12-10-13 5-12 14-13 4-12 4-13 14-12 5-13-10-12-15-13-10-12 3-13 17-12 28-13 30-12 27-13 17-12 3-13-10-12-23-13-30-12-32-13-29-12-20-13-8-12 5-13 19-12 32-13 41-12 46-13 48-12 45-13 37-12 27-13 14-12 0-13-14-12-26-13-37-12-45-13-48-12-49-13-46-12-40-13-29-12-18-13-5-12 9-12 23-13 36-12 47-13 56-12 62-13 65-12 65z"/>
<path transform="translate(-198 -96)" d="M827 1417l13-65 12-65 13-62 12-56 13-47 12-36 13-23 12-9 13 5 12 18 13 29 12 40 13 46 12 49 13 48 12 45 13 37 12 26 13 14 12 0 13-14 12-27 13-37 12-45 13-48 12-46 13-41 12-32 12-19 13-5 12 8 13 20 12 29 13 32 12 30 13 23 12 10 13-3 12-17 13-27 12-30 13-28 12-17 13-3 12 10 13 15 12 10 13-5 12-14 13-4 12-4 13-14 12-5 13 10 12 15 13 10 12-3 13-17 12-27 13-31 12-27 13-17 12-3 13 10 12 23 13 30 12 32 13 29 12 20 13 8 12-5 13-19 12-32 13-41 12-46 13-48 12-45 12-37 13-27 12-14 13 0 12 14 13 26 12 37 13 45 12 48 13 49 12 46 13 40 12 29 13 18 12 5 13-9 12-23 13-36 12-47 13-56 12-62 13-65 12-65 29 60-12 65-13 65-12 61-13 56-12 47-13 36-12 23-13 10-12-5-13-18-12-30-13-39-12-46-13-49-12-49-13-45-12-37-13-26-12-14-13 0-12 14-13 27-12 38-13 44-12 48-13 47-12 41-13 31-12 20-13 5-12-9-12-20-13-29-12-32-13-30-12-22-13-11-12 3-13 17-12 27-13 31-12 27-13 17-12 3-13-10-12-15-13-9-12 4-13 15-12 3-13 4-12 14-13 5-12-9-13-15-12-10-13 3-12 17-13 27-12 31-13 27-12 16-13 4-12-11-13-22-12-30-13-32-12-29-13-21-12-8-13 5-12 19-13 32-12 41-13 47-12 48-13 44-12 38-13 26-12 14-12 0-13-13-12-27-13-37-12-44-13-49-12-49-13-46-12-39-13-30-12-18-13-5-12 10-13 23-12 35-13 47-12 56-13 62-12 65-13 65z"/>
<path transform="translate(-188 -92)" d="M827 1445l12-65 13-64 12-62 13-56 12-47 13-36 12-23 13-9 12 4 13 18 12 30 13 39 12 46 13 49 12 49 13 45 12 37 13 26 12 14 13 0 12-14 13-27 12-38 13-44 12-48 13-47 12-41 13-31 12-19 13-6 12 9 13 20 12 29 13 32 12 30 13 22 12 11 13-3 12-17 13-27 12-31 13-27 12-17 12-3 13 10 12 15 13 10 12-5 13-15 12-3 13-4 12-14 13-5 12 9 13 15 12 10 13-3 12-17 13-27 12-31 13-26 12-17 13-4 12 11 13 23 12 29 13 33 12 28 13 21 12 8 13-5 12-19 13-32 12-41 13-47 12-47 13-45 12-37 13-27 12-14 13 0 12 13 13 27 12 37 13 44 12 49 13 49 12 46 13 39 12 30 13 18 12 5 12-9 13-24 12-35 13-47 12-56 13-62 12-65 13-65 29 19-13 65-12 65-13 62-12 56-13 47-12 36-13 23-12 9-13-5-12-18-13-29-12-40-13-46-12-49-13-48-12-45-12-37-13-26-12-14-13 0-12 14-13 27-12 37-13 45-12 48-13 46-12 41-13 32-12 19-13 5-12-8-13-20-12-29-13-32-12-30-13-23-12-10-13 3-12 17-13 27-12 30-13 28-12 17-13 3-12-10-13-15-12-10-13 5-12 14-13 4-12 4-13 14-12 5-13-10-12-15-13-10-12 3-13 17-12 28-13 30-12 27-13 17-12 3-13-10-12-23-13-30-12-32-12-29-13-20-12-8-13 5-12 19-13 32-12 41-13 46-12 48-13 45-12 37-13 27-12 14-13 0-12-14-13-26-12-37-13-45-12-48-13-49-12-46-13-40-12-29-13-18-12-5-13 9-12 23-13 36-12 47-13 56-12 62-13 65-12 65z"/>
<path transform="translate(-178 -87)" d="M827 1461l12-65 13-65 12-62 13-56 12-47 13-36 12-23 12-9 13 5 12 18 13 29 12 40 13 46 12 49 13 48 12 45 13 37 12 26 13 14 12 0 13-14 12-27 13-37 12-45 13-48 12-46 13-41 12-32 13-19 12-5 13 8 12 20 13 29 12 32 13 30 12 23 13 10 12-3 13-17 12-27 13-30 12-28 13-17 12-3 13 10 12 15 13 10 12-5 13-14 12-4 13-4 12-14 13-5 12 10 13 15 12 10 12-3 13-17 12-28 13-30 12-27 13-17 12-3 13 10 12 23 13 30 12 32 13 29 12 20 13 8 12-5 13-19 12-32 13-41 12-46 13-48 12-45 13-37 12-27 13-14 12 0 13 14 12 26 13 37 12 45 13 48 12 49 13 46 12 40 13 29 12 18 13 5 12-9 13-23 12-36 13-47 12-56 13-62 12-65 13-65 28-20-12 65-12 65-13 62-12 56-13 47-12 36-13 23-12 9-13-5-12-18-13-30-12-39-13-46-12-49-13-49-12-44-13-37-12-27-13-13-12 0-13 14-12 27-13 37-12 45-13 47-12 47-13 41-12 32-13 19-12 5-13-8-12-21-13-28-12-33-13-29-12-23-13-11-12 4-13 17-12 26-13 31-12 28-13 17-12 2-13-10-12-15-13-9-12 5-13 14-12 4-13 3-12 15-12 5-13-10-12-15-13-10-12 3-13 17-12 27-13 31-12 27-13 17-12 3-13-11-12-22-13-30-12-32-13-29-12-20-13-9-12 6-13 19-12 31-13 41-12 47-13 48-12 45-13 37-12 27-13 14-12 0-13-14-12-26-13-37-12-45-13-48-12-50-13-46-12-39-13-30-12-18-13-4-12 9-13 23-12 36-13 47-12 56-13 62-12 65-13 64z"/>
<path transform="translate(-169 -82)" d="M827 1462l13-65 12-65 13-62 12-56 13-47 12-35 13-23 12-10 13 5 12 18 13 30 12 39 13 46 12 49 13 49 12 44 13 37 12 27 13 13 12 0 12-14 13-26 12-38 13-44 12-48 13-47 12-41 13-32 12-19 13-5 12 8 13 21 12 29 13 32 12 30 13 22 12 11 13-4 12-16 13-27 12-31 13-27 12-17 13-3 12 10 13 15 12 9 13-5 12-14 13-4 12-3 13-15 12-4 13 9 12 15 13 10 12-3 13-17 12-27 13-31 12-27 13-17 12-3 13 11 12 22 13 30 12 32 13 29 12 20 13 9 12-5 12-20 13-31 12-41 13-47 12-48 13-44 12-38 13-27 12-14 13 0 12 14 13 26 12 37 13 45 12 49 13 49 12 46 13 39 12 30 13 18 12 5 13-10 12-23 13-36 12-47 13-56 12-61 13-65 12-65 29-54-12 64-13 65-12 62-13 56-12 47-13 36-12 23-13 9-12-4-13-18-12-30-13-40-12-45-13-50-12-48-13-45-12-37-13-26-12-14-13 0-12 14-13 27-12 37-13 45-12 48-13 46-12 41-13 32-12 19-13 6-12-9-13-20-12-29-13-32-12-30-13-22-12-11-13 3-12 17-12 27-13 31-12 27-13 17-12 3-13-10-12-15-13-10-12 5-13 14-12 4-13 4-12 14-13 5-12-9-13-16-12-9-13 2-12 17-13 28-12 30-13 27-12 17-13 3-12-10-13-23-12-30-13-32-12-28-13-21-12-8-13 5-12 19-13 32-12 41-13 47-12 47-13 45-12 37-13 27-12 14-13 0-12-14-13-26-12-37-13-44-12-49-13-49-12-46-12-39-13-30-12-18-13-5-12 9-13 23-12 36-13 47-12 56-13 62-12 65-13 65z"/>
<path transform="translate(-159 -78)" d="M827 1451l12-65 13-65 12-62 13-56 12-47 13-36 12-23 13-9 12 5 13 18 12 29 13 40 12 46 13 49 12 48 13 45 12 37 13 26 12 14 13 0 12-14 13-27 12-37 13-45 12-48 13-46 12-41 13-32 12-19 13-5 12 8 13 20 12 29 13 32 12 30 12 23 13 10 12-3 13-17 12-27 13-30 12-28 13-17 12-3 13 10 12 15 13 10 12-5 13-14 12-4 13-4 12-14 13-5 12 10 13 15 12 10 13-3 12-17 13-28 12-30 13-27 12-17 13-3 12 10 13 23 12 30 13 32 12 29 13 20 12 8 13-5 12-19 13-32 12-41 13-46 12-48 13-45 12-37 13-27 12-14 13 0 12 14 13 26 12 37 12 45 13 48 12 49 13 46 12 40 13 29 12 18 13 5 12-9 13-23 12-36 13-47 12-56 13-62 12-65 13-65 29-77-13 64-12 65-13 62-12 56-13 47-12 36-13 23-12 9-13-4-12-18-13-30-12-40-13-45-12-50-13-48-12-45-13-37-12-26-13-14-12 0-13 14-12 27-13 37-12 45-12 48-13 46-12 41-13 32-12 19-13 6-12-9-13-20-12-29-13-32-12-30-13-22-12-11-13 3-12 17-13 27-12 31-13 27-12 17-13 3-12-10-13-15-12-10-13 5-12 14-13 4-12 4-13 14-12 5-13-9-12-16-13-9-12 2-13 17-12 28-13 30-12 27-13 17-12 3-13-10-12-23-13-30-12-32-13-28-12-21-13-8-12 5-13 19-12 32-13 41-12 47-12 47-13 45-12 37-13 27-12 14-13 0-12-14-13-26-12-37-13-44-12-49-13-49-12-46-13-39-12-30-13-18-12-5-13 9-12 23-13 36-12 47-13 56-12 62-13 65-12 65z"/>
<path transform="translate(-149 -73)" d="M826 1426l13-64 12-65 13-62 12-56 13-47 12-36 13-23 12-9 13 4 12 18 13 30 12 39 13 46 12 50 13 48 12 45 13 37 12 26 13 14 12 0 13-14 12-27 13-37 12-45 13-48 12-47 13-41 12-31 13-19 12-6 13 9 12 20 13 29 12 32 13 30 12 22 13 11 12-3 13-17 12-27 13-31 12-27 13-17 12-3 13 10 12 15 13 10 12-5 12-15 13-3 12-4 13-14 12-5 13 9 12 15 13 10 12-2 13-17 12-28 13-31 12-26 13-17 12-4 13 11 12 23 13 29 12 33 13 28 12 21 13 8 12-5 13-19 12-32 13-41 12-47 13-47 12-45 13-37 12-27 13-14 12 0 13 13 12 27 13 37 12 44 13 49 12 49 13 46 12 39 13 30 12 18 13 5 12-9 13-23 12-36 13-47 12-56 12-62 13-65 12-65 29-87-12 65-13 64-12 62-13 56-12 47-13 36-12 23-13 9-12-4-12-18-13-30-12-39-13-46-12-49-13-49-12-45-13-37-12-26-13-14-12 0-13 14-12 27-13 38-12 44-13 48-12 47-13 41-12 31-13 19-12 6-13-9-12-20-13-29-12-32-13-30-12-22-13-11-12 3-13 17-12 27-13 31-12 27-13 17-12 3-13-10-12-15-13-10-12 5-13 15-12 3-13 4-12 14-13 5-12-9-13-15-12-10-13 3-12 17-13 27-12 31-12 26-13 17-12 4-13-11-12-23-13-29-12-33-13-28-12-21-13-8-12 5-13 19-12 32-13 41-12 47-13 47-12 45-13 37-12 27-13 14-12 0-13-13-12-27-13-37-12-44-13-49-12-49-13-46-12-39-13-30-12-18-13-5-12 9-13 24-12 35-13 47-12 56-13 62-12 65-13 65z"/>
<path transform="translate(-140 -68)" d="M827 1394l13-65 12-65 13-62 12-56 13-47 12-36 13-23 12-9 13 5 12 18 13 30 12 39 12 46 13 49 12 49 13 44 12 37 13 26 12 14 13 0 12-14 13-27 12-37 13-45 12-47 13-47 12-41 13-32 12-19 13-5 12 8 13 21 12 28 13 32 12 30 13 23 12 10 13-3 12-17 13-27 12-30 13-28 12-17 13-2 12 9 13 16 12 9 13-5 12-14 13-4 12-4 13-14 12-5 13 10 12 15 13 10 12-3 13-17 12-27 13-31 12-27 13-17 12-3 12 11 13 22 12 30 13 32 12 29 13 20 12 9 13-6 12-19 13-32 12-41 13-46 12-48 13-45 12-37 13-27 12-14 13 0 12 14 13 26 12 37 13 45 12 48 13 50 12 45 13 40 12 30 13 18 12 4 13-9 12-23 13-36 12-47 13-56 12-62 13-65 12-64 29-82-12 65-13 65-12 62-13 56-12 47-13 36-12 23-13 9-12-5-13-18-12-29-13-40-12-46-13-49-12-48-13-45-12-37-13-26-12-14-13 0-12 14-13 27-12 37-13 45-12 48-13 46-12 41-13 32-12 19-13 5-12-8-13-21-12-28-13-32-12-30-13-23-12-10-13 3-12 17-13 27-12 30-13 28-12 17-13 3-12-10-13-16-12-9-12 5-13 14-12 4-13 4-12 14-13 5-12-10-13-15-12-10-13 3-12 17-13 27-12 31-13 27-12 17-13 3-12-10-13-23-12-30-13-32-12-29-13-20-12-8-13 5-12 19-13 32-12 41-13 46-12 48-13 45-12 37-13 27-12 14-13 0-12-14-13-26-12-37-13-45-12-48-13-49-12-46-13-40-12-29-13-18-12-5-13 9-12 23-13 36-12 47-12 56-13 62-12 65-13 65z"/>
<path transform="translate(-130 -63)" d="M827 1358l12-65 13-65 12-62 13-56 12-47 13-36 12-23 13-9 12 5 13 18 12 30 13 39 12 46 13 49 12 49 13 44 12 37 13 26 12 14 13 0 12-14 13-27 12-37 13-45 12-47 13-47 12-41 12-32 13-19 12-5 13 8 12 21 13 28 12 32 13 30 12 23 13 10 12-3 13-17 12-27 13-30 12-28 13-17 12-2 13 9 12 16 13 9 12-5 13-14 12-4 13-4 12-14 13-5 12 10 13 15 12 10 13-3 12-17 13-27 12-31 13-27 12-17 13-3 12 11 13 22 12 30 13 32 12 29 13 20 12 9 13-6 12-19 13-32 12-41 13-46 12-48 12-45 13-37 12-27 13-14 12 0 13 14 12 26 13 37 12 45 13 48 12 50 13 45 12 40 13 30 12 18 13 4 12-9 13-23 12-36 13-47 12-56 13-62 12-65 13-64 29-60-13 65-12 65-13 61-12 56-13 47-12 36-13 23-12 9-13-4-12-18-13-30-12-39-13-46-12-49-13-49-12-45-13-37-12-26-13-14-12 0-13 14-12 27-13 38-12 44-13 48-12 47-13 41-12 31-13 19-12 6-13-9-12-20-12-29-13-32-12-30-13-22-12-11-13 3-12 17-13 27-12 31-13 27-12 17-13 3-12-10-13-15-12-9-13 4-12 15-13 3-12 4-13 14-12 5-13-9-12-15-13-10-12 3-13 17-12 27-13 31-12 27-13 16-12 4-13-11-12-22-13-30-12-32-13-29-12-21-13-8-12 5-13 19-12 32-13 41-12 47-13 48-12 44-13 38-12 26-13 14-12 0-13-13-12-27-12-37-13-44-12-49-13-49-12-46-13-39-12-30-13-18-12-5-13 10-12 23-13 35-12 47-13 56-12 62-13 65-12 65z"/>
<path transform="translate(-120 -59)" d="M826 1325l13-65 12-65 13-62 12-56 13-47 12-35 13-24 12-9 13 5 12 18 13 30 12 39 13 46 12 49 13 49 12 44 13 37 12 27 13 13 12 0 13-14 12-27 13-37 12-45 13-47 12-47 13-41 12-32 13-19 12-5 13 8 12 21 13 28 12 33 13 29 12 23 13 11 12-4 13-17 12-26 12-31 13-27 12-17 13-3 12 10 13 15 12 9 13-5 12-14 13-4 12-3 13-15 12-5 13 10 12 15 13 10 12-3 13-17 12-27 13-31 12-27 13-17 12-3 13 11 12 22 13 30 12 32 13 29 12 20 13 9 12-6 13-19 12-31 13-41 12-47 13-48 12-44 13-38 12-27 13-14 12 0 13 14 12 26 13 37 12 45 13 49 12 49 13 46 12 39 12 30 13 18 12 4 13-9 12-23 13-36 12-47 13-56 12-62 13-64 12-65 29-27-12 65-13 65-12 62-13 56-12 47-13 36-12 23-13 9-12-5-13-18-12-30-13-39-12-46-13-49-12-49-13-44-12-37-12-26-13-14-12 0-13 14-12 27-13 37-12 45-13 47-12 47-13 41-12 32-13 19-12 5-13-8-12-21-13-28-12-32-13-30-12-23-13-11-12 4-13 17-12 27-13 30-12 28-13 17-12 2-13-9-12-16-13-9-12 5-13 14-12 4-13 4-12 14-13 5-12-10-13-15-12-10-13 3-12 17-13 27-12 31-13 27-12 17-13 3-12-11-13-22-12-30-13-32-12-29-12-20-13-9-12 6-13 19-12 32-13 41-12 46-13 48-12 45-13 37-12 27-13 14-12 0-13-14-12-26-13-37-12-45-13-48-12-50-13-45-12-40-13-30-12-18-13-4-12 9-13 23-12 36-13 47-12 56-13 62-12 65-13 64z"/>
<path transform="translate(-111 -54)" d="M827 1299l13-65 12-65 13-62 12-56 12-47 13-36 12-23 13-9 12 5 13 18 12 29 13 40 12 46 13 49 12 48 13 45 12 37 13 26 12 14 13 0 12-14 13-27 12-37 13-45 12-48 13-46 12-41 13-32 12-19 13-5 12 8 13 20 12 29 13 32 12 30 13 23 12 10 13-3 12-17 13-27 12-31 13-27 12-17 13-3 12 10 13 15 12 10 13-5 12-14 13-4 12-4 13-14 12-5 13 9 12 16 12 10 13-3 12-17 13-28 12-30 13-27 12-17 13-3 12 10 13 23 12 30 13 32 12 28 13 21 12 8 13-5 12-19 13-32 12-41 13-46 12-48 13-45 12-37 13-27 12-14 13 0 12 14 13 26 12 37 13 45 12 48 13 49 12 46 13 40 12 29 13 18 12 5 13-9 12-23 13-36 12-47 13-56 12-62 13-65 12-65 29 13-13 65-12 65-13 62-12 56-12 47-13 36-12 23-13 9-12-5-13-18-12-30-13-39-12-46-13-49-12-49-13-44-12-37-13-27-12-13-13 0-12 14-13 27-12 37-13 45-12 47-13 47-12 41-13 32-12 19-13 5-12-8-13-21-12-28-13-32-12-30-13-23-12-11-13 4-12 17-13 26-12 31-13 28-12 17-13 2-12-10-13-15-12-9-13 5-12 14-13 4-12 3-13 15-12 5-13-10-12-15-12-10-13 3-12 17-13 27-12 31-13 27-12 17-13 3-12-11-13-22-12-30-13-32-12-29-13-20-12-9-13 6-12 19-13 31-12 41-13 47-12 48-13 45-12 37-13 27-12 14-13 0-12-14-13-26-12-37-13-45-12-48-13-50-12-46-13-39-12-30-13-18-12-4-13 9-12 23-13 36-12 47-13 56-12 62-13 65-12 64z"/>
<path transform="translate(-101 -49)" d="M827 1284l12-65 13-65 12-62 13-56 12-47 13-35 12-23 13-10 12 5 13 18 12 30 13 39 12 46 13 49 12 49 13 44 12 37 13 27 12 13 12 0 13-14 12-26 13-38 12-44 13-48 12-47 13-41 12-32 13-19 12-5 13 8 12 21 13 29 12 32 13 30 12 22 13 11 12-4 13-16 12-27 13-31 12-27 13-17 12-3 13 10 12 15 13 9 12-5 13-14 12-4 13-3 12-15 13-4 12 9 13 15 12 10 13-3 12-17 13-27 12-31 13-27 12-17 13-3 12 11 13 22 12 30 13 32 12 29 12 20 13 9 12-6 13-19 12-31 13-41 12-47 13-48 12-44 13-38 12-27 13-14 12 0 13 14 12 26 13 37 12 45 13 49 12 49 13 46 12 39 13 30 12 18 13 4 12-9 13-23 12-36 13-47 12-56 13-61 12-65 13-65 29 50-13 65-12 65-13 62-12 56-13 47-12 35-13 24-12 9-13-5-12-18-13-30-12-39-13-46-12-49-13-49-12-44-13-37-12-27-13-13-12 0-13 14-12 27-13 37-12 45-13 47-12 47-13 41-12 32-13 19-12 5-13-8-12-21-13-28-12-33-13-29-12-23-13-11-12 4-13 17-12 26-12 31-13 27-12 17-13 3-12-10-13-15-12-9-13 5-12 14-13 4-12 3-13 15-12 5-13-10-12-15-13-10-12 3-13 17-12 27-13 31-12 27-13 17-12 3-13-11-12-22-13-30-12-32-13-29-12-20-13-9-12 6-13 19-12 31-13 41-12 47-13 48-12 44-13 38-12 27-13 14-12 0-13-14-12-26-13-37-12-45-13-49-12-49-13-46-12-39-12-30-13-18-12-4-13 9-12 23-13 36-12 47-13 56-12 62-13 64-12 65z"/>
<path transform="translate(-92 -45)" d="M827 1284l13-64 12-65 13-62 12-56 13-47 12-36 13-23 12-9 13 4 12 18 13 30 12 40 13 45 12 50 13 48 12 45 13 37 12 26 13 14 12 0 13-14 12-27 13-37 12-45 13-48 12-46 13-41 12-32 13-19 12-6 13 9 12 20 12 29 13 32 12 30 13 22 12 11 13-3 12-17 13-27 12-31 13-27 12-17 13-3 12 10 13 15 12 10 13-5 12-14 13-4 12-4 13-14 12-5 13 9 12 16 13 9 12-2 13-17 12-28 13-30 12-27 13-17 12-4 13 11 12 23 13 30 12 32 13 28 12 21 13 8 12-5 13-19 12-32 13-41 12-47 13-47 12-45 13-37 12-27 13-14 12 0 13 14 12 26 12 37 13 44 12 49 13 49 12 46 13 39 12 30 13 18 12 5 13-9 12-23 13-36 12-47 13-56 12-62 13-65 12-65 29 78-12 65-13 65-12 62-13 55-12 48-13 35-12 23-13 10-12-5-13-18-12-30-13-39-12-46-13-49-12-49-13-44-12-37-13-27-12-13-13 0-12 14-13 26-12 38-13 44-12 48-13 47-12 41-12 31-13 20-12 5-13-9-12-20-13-29-12-32-13-30-12-22-13-11-12 4-13 16-12 27-13 31-12 27-13 17-12 3-13-10-12-15-13-9-12 5-13 14-12 4-13 3-12 15-13 4-12-9-13-15-12-10-13 3-12 17-13 27-12 31-13 27-12 17-13 3-12-11-13-22-12-30-13-32-12-29-13-20-12-9-13 5-12 20-13 31-12 41-13 47-12 48-12 44-13 38-12 27-13 14-12 0-13-14-12-27-13-36-12-45-13-49-12-49-13-46-12-39-13-30-12-18-13-5-12 10-13 23-12 36-13 47-12 56-13 61-12 65-13 65z"/>
<path transform="translate(-82 -40)" d="M827 1297l12-64 13-65 12-62 13-56 12-47 13-36 12-23 13-9 12 4 13 18 12 30 13 39 12 46 13 50 12 48 13 45 12 37 13 26 12 14 13 0 12-14 13-27 12-37 13-45 12-48 13-47 12-41 13-31 12-19 13-6 12 9 13 20 12 29 13 32 12 30 13 22 12 11 13-3 12-17 13-27 12-31 13-27 12-17 13-3 12 10 13 15 12 10 12-5 13-15 12-3 13-4 12-14 13-5 12 9 13 15 12 10 13-2 12-17 13-28 12-31 13-26 12-17 13-4 12 11 13 23 12 30 13 32 12 28 13 21 12 8 13-5 12-19 13-32 12-41 13-47 12-47 13-45 12-37 13-27 12-14 13 0 12 13 13 27 12 37 13 44 12 49 13 49 12 46 13 39 12 30 13 18 12 5 13-9 12-23 13-36 12-47 12-56 13-62 12-65 13-65 29 88-13 65-12 65-13 62-12 56-13 47-12 36-13 23-12 9-13-5-12-18-13-29-12-40-12-46-13-49-12-48-13-45-12-37-13-26-12-14-13 0-12 14-13 27-12 37-13 45-12 48-13 46-12 41-13 32-12 19-13 5-12-8-13-20-12-29-13-32-12-30-13-23-12-10-13 3-12 17-13 27-12 30-13 28-12 17-13 3-12-10-13-15-12-10-13 5-12 14-13 4-12 4-13 14-12 5-13-10-12-15-13-10-12 3-13 17-12 28-13 30-12 27-13 17-12 3-12-10-13-23-12-30-13-32-12-29-13-20-12-8-13 5-12 19-13 32-12 41-13 46-12 48-13 45-12 37-13 27-12 14-13 0-12-14-13-26-12-37-13-45-12-48-13-49-12-46-13-40-12-29-13-18-12-5-13 9-12 23-13 36-12 47-13 56-12 62-13 65-12 65z"/>
<path transform="translate(-72 -35)" d="M827 1320l12-65 13-64 12-62 13-56 12-47 13-36 12-23 13-9 12 4 13 18 12 30 12 39 13 46 12 49 13 49 12 45 13 37 12 26 13 14 12 0 13-14 12-27 13-38 12-44 13-48 12-47 13-41 12-31 13-19 12-6 13 9 12 20 13 29 12 32 13 30 12 22 13 11 12-3 13-17 12-27 13-31 12-27 13-17 12-3 13 10 12 15 13 10 12-5 13-15 12-3 13-4 12-14 13-5 12 9 13 15 12 10 13-3 12-17 13-27 12-31 12-26 13-17 12-4 13 11 12 23 13 29 12 33 13 28 12 21 13 8 12-5 13-19 12-32 13-41 12-47 13-47 12-45 13-37 12-27 13-14 12 0 13 13 12 27 13 37 12 44 13 49 12 49 13 46 12 39 13 30 12 18 13 5 12-9 13-24 12-35 13-47 12-56 13-62 12-65 13-65 29 78-13 65-12 65-13 62-12 56-13 47-12 36-13 23-12 9-13-5-12-18-13-29-12-40-13-46-12-49-13-48-12-45-13-37-12-26-13-14-12 0-13 14-12 27-13 37-12 45-13 48-12 46-13 41-12 32-13 19-12 5-13-8-12-20-13-29-12-32-13-30-12-23-13-10-12 3-13 17-12 27-13 31-12 27-13 17-12 3-13-10-12-15-13-10-12 5-12 14-13 4-12 4-13 14-12 5-13-9-12-16-13-10-12 3-13 17-12 28-13 30-12 27-13 17-12 3-13-10-12-23-13-30-12-32-13-28-12-21-13-8-12 5-13 19-12 32-13 41-12 46-13 48-12 45-13 37-12 27-13 14-12 0-13-14-12-26-13-37-12-44-13-49-12-49-13-46-12-40-13-29-12-18-13-5-12 9-13 23-12 36-13 47-12 56-13 62-12 65-12 65z"/>
<path transform="translate(-63 -31)" d="M827 1348l13-65 12-65 13-61 12-56 13-47 12-36 13-23 12-10 13 5 12 18 13 30 12 39 13 46 12 49 13 49 12 45 13 36 12 27 13 14 12 0 13-14 12-27 13-38 12-44 12-48 13-47 12-41 13-31 12-20 13-5 12 9 13 20 12 29 13 32 12 30 13 22 12 11 13-3 12-17 13-27 12-31 13-27 12-17 13-3 12 10 13 15 12 9 13-4 12-15 13-3 12-4 13-14 12-5 13 9 12 15 13 10 12-3 13-17 12-27 13-31 12-27 13-16 12-4 13 11 12 22 13 30 12 32 13 29 12 20 13 9 12-5 13-20 12-31 13-41 12-47 12-48 13-44 12-38 13-26 12-14 13 0 12 13 13 27 12 37 13 44 12 49 13 49 12 46 13 39 12 30 13 18 12 5 13-10 12-23 13-35 12-48 13-55 12-62 13-65 12-65 29 50-12 65-13 65-12 62-13 56-12 47-13 36-12 23-13 9-12-5-13-18-12-29-13-40-12-46-13-49-12-48-13-45-12-37-13-26-12-14-13 0-12 14-13 27-12 37-13 45-12 48-13 46-12 41-13 32-12 19-13 5-12-8-13-20-12-29-13-32-12-30-12-23-13-10-12 3-13 17-12 27-13 31-12 27-13 17-12 3-13-10-12-15-13-10-12 5-13 14-12 4-13 4-12 14-13 5-12-9-13-16-12-10-13 3-12 17-13 28-12 30-13 27-12 17-13 3-12-10-13-23-12-30-13-32-12-29-13-20-12-8-13 5-12 19-13 32-12 41-13 46-12 48-13 45-12 37-13 27-12 14-13 0-12-14-13-26-12-37-12-45-13-48-12-49-13-46-12-40-13-29-12-18-13-5-12 9-13 23-12 36-13 47-12 56-13 62-12 65-13 65z"/>
<path transform="translate(-53 -26)" d="M827 1372l12-65 13-65 12-62 13-56 12-47 13-36 12-23 13-9 12 5 13 18 12 29 13 40 12 46 13 49 12 48 13 45 12 37 13 26 12 14 13 0 12-14 13-27 12-37 13-45 12-48 13-46 12-41 13-32 12-19 13-5 12 8 13 20 12 29 13 32 12 30 13 23 12 10 13-3 12-17 12-27 13-30 12-28 13-17 12-3 13 10 12 15 13 10 12-5 13-14 12-4 13-4 12-14 13-5 12 10 13 15 12 10 13-3 12-17 13-28 12-30 13-27 12-17 13-3 12 10 13 23 12 30 13 32 12 29 13 20 12 8 13-5 12-19 13-32 12-41 13-46 12-48 13-45 12-37 13-27 12-14 13 0 12 14 13 26 12 37 13 45 12 48 13 49 12 46 12 40 13 29 12 18 13 5 12-9 13-23 12-36 13-47 12-56 13-62 12-65 13-65 29 14-13 64-12 65-13 62-12 56-13 47-12 36-13 23-12 9-13-4-12-18-13-30-12-39-13-46-12-50-13-48-12-45-13-37-12-26-13-14-12 0-12 14-13 27-12 37-13 45-12 48-13 46-12 42-13 31-12 19-13 6-12-9-13-20-12-29-13-32-12-30-13-22-12-11-13 3-12 17-13 27-12 31-13 27-12 17-13 3-12-10-13-15-12-10-13 5-12 15-13 3-12 4-13 14-12 5-13-9-12-15-13-10-12 2-13 17-12 28-13 31-12 26-13 17-12 4-13-11-12-23-13-30-12-32-13-28-12-21-13-8-12 5-12 19-13 32-12 41-13 47-12 47-13 45-12 37-13 27-12 14-13 0-12-13-13-27-12-37-13-44-12-49-13-49-12-46-13-39-12-30-13-18-12-5-13 9-12 23-13 36-12 47-13 56-12 62-13 65-12 65z"/>
<path transform="translate(-43 -21)" d="M827 1385l12-65 12-65 13-62 12-56 13-47 12-36 13-23 12-9 13 5 12 18 13 29 12 40 13 46 12 49 13 49 12 44 13 37 12 26 13 14 12 0 13-14 12-27 13-37 12-45 13-48 12-46 13-41 12-32 13-19 12-5 13 8 12 21 13 28 12 32 13 30 12 23 13 10 12-3 13-17 12-27 13-30 12-28 13-17 12-3 13 10 12 16 13 9 12-5 13-14 12-4 13-4 12-14 12-5 13 10 12 15 13 10 12-3 13-17 12-27 13-31 12-27 13-17 12-3 13 10 12 23 13 30 12 32 13 29 12 20 13 8 12-5 13-19 12-32 13-41 12-46 13-48 12-45 13-37 12-27 13-14 12 0 13 14 12 26 13 37 12 45 13 48 12 49 13 46 12 40 13 29 12 18 13 5 12-9 13-23 12-36 13-47 12-56 13-62 12-65 13-65 28-18-12 64-13 65-12 62-13 56-12 47-12 36-13 23-12 9-13-4-12-18-13-30-12-40-13-46-12-49-13-48-12-45-13-37-12-26-13-14-12 0-13 14-12 27-13 37-12 45-13 48-12 46-13 41-12 32-13 19-12 6-13-9-12-20-13-29-12-32-13-30-12-23-13-10-12 3-13 17-12 27-13 31-12 27-13 17-12 3-13-10-12-15-13-10-12 5-13 14-12 4-13 4-12 14-13 5-12-9-13-16-12-10-12 3-13 17-12 28-13 30-12 27-13 17-12 3-13-10-12-23-13-30-12-32-13-28-12-21-13-8-12 5-13 19-12 32-13 41-12 46-13 48-12 45-13 37-12 27-13 14-12 0-13-14-12-26-13-37-12-44-13-49-12-49-13-46-12-39-13-30-12-18-13-5-12 9-13 23-12 36-13 47-12 56-13 62-12 65-13 65z"/>
<path transform="translate(-34 -16)" d="M827 1384l13-65 12-65 13-62 12-56 13-47 12-36 13-23 12-9 13 5 12 18 13 29 12 40 13 46 12 49 13 48 12 45 12 37 13 26 12 14 13 0 12-14 13-27 12-37 13-45 12-48 13-46 12-41 13-32 12-19 13-5 12 8 13 20 12 29 13 32 12 30 13 23 12 10 13-3 12-17 13-27 12-30 13-28 12-17 13-3 12 10 13 16 12 9 13-5 12-14 13-4 12-4 13-14 12-5 13 10 12 15 13 10 12-3 13-17 12-27 13-31 12-27 13-17 12-3 13 10 12 23 12 30 13 32 12 29 13 20 12 8 13-5 12-19 13-32 12-41 13-46 12-48 13-45 12-37 13-27 12-14 13 0 12 14 13 26 12 37 13 45 12 48 13 49 12 46 13 40 12 29 13 18 12 5 13-9 12-23 13-36 12-47 13-56 12-62 13-65 12-65 29-31-12 65-13 65-12 62-13 56-12 47-13 36-12 23-13 9-12-5-13-18-12-30-13-39-12-46-13-49-12-49-13-44-12-37-13-26-12-14-13 0-12 14-13 27-12 37-13 45-12 47-13 47-12 41-13 32-12 19-13 5-12-8-13-21-12-28-13-32-12-30-13-23-12-10-13 3-12 17-13 27-12 30-12 28-13 17-12 2-13-9-12-16-13-9-12 5-13 14-12 4-13 4-12 14-13 5-12-10-13-15-12-10-13 3-12 17-13 27-12 31-13 27-12 17-13 3-12-11-13-22-12-30-13-32-12-29-13-20-12-9-13 6-12 19-13 32-12 41-13 46-12 48-13 45-12 37-13 27-12 14-13 0-12-14-13-26-12-37-13-45-12-48-13-50-12-45-13-40-12-30-13-18-12-4-12 9-13 23-12 36-13 47-12 56-13 62-12 65-13 64z"/>
<path transform="translate(-24 -12)" d="M827 1371l12-65 13-65 12-62 13-56 12-47 13-36 12-23 13-9 12 5 13 18 12 30 13 39 12 46 13 49 12 49 13 44 12 37 13 27 12 13 13 0 12-14 13-27 12-37 13-45 12-47 13-47 12-41 13-32 12-19 13-5 12 8 12 21 13 28 12 32 13 30 12 23 13 11 12-4 13-17 12-26 13-31 12-28 13-17 12-2 13 10 12 15 13 9 12-5 13-14 12-4 13-3 12-15 13-5 12 10 13 15 12 10 13-3 12-17 13-27 12-31 13-27 12-17 13-3 12 11 13 22 12 30 13 32 12 29 13 20 12 9 13-6 12-19 13-31 12-42 13-46 12-48 13-45 12-37 13-27 12-14 12 0 13 14 12 26 13 37 12 45 13 48 12 50 13 46 12 39 13 30 12 18 13 4 12-9 13-23 12-36 13-47 12-56 13-62 12-65 13-64 29-17-13 65-12 65-13 62-12 56-13 47-12 36-13 23-12 9-13-5-12-18-13-30-12-39-13-46-12-49-13-49-12-44-13-37-12-27-13-13-12 0-13 14-12 27-13 37-12 45-13 47-12 47-13 41-12 32-12 19-13 5-12-8-13-21-12-28-13-32-12-30-13-23-12-11-13 4-12 17-13 26-12 31-13 28-12 17-13 2-12-9-13-16-12-9-13 5-12 14-13 4-12 3-13 15-12 5-13-10-12-15-13-10-12 3-13 17-12 27-13 31-12 27-13 17-12 3-13-11-12-22-13-30-12-32-13-29-12-20-13-9-12 6-13 19-12 31-13 42-12 46-13 48-12 45-12 37-13 27-12 14-13 0-12-14-13-26-12-37-13-45-12-48-13-50-12-46-13-39-12-30-13-18-12-4-13 9-12 23-13 36-12 47-13 56-12 62-13 65-12 64z"/>
<path transform="translate(-14 -7)" d="M826 1352l13-65 12-65 13-62 12-56 13-47 12-36 13-23 12-9 13 5 12 18 13 30 12 39 13 46 12 49 13 49 12 44 13 37 12 26 13 14 12 0 13-14 12-27 13-37 12-45 13-48 12-46 13-41 12-32 13-19 12-5 13 8 12 21 13 28 12 32 13 30 12 23 13 10 12-3 13-17 12-27 13-30 12-28 13-17 12-3 12 10 13 16 12 9 13-5 12-14 13-4 12-4 13-14 12-5 13 10 12 15 13 10 12-3 13-17 12-27 13-31 12-27 13-17 12-3 13 10 12 23 13 30 12 32 13 29 12 20 13 9 12-6 13-19 12-32 13-41 12-46 13-48 12-45 13-37 12-27 13-14 12 0 13 14 12 26 13 37 12 45 13 48 12 49 13 46 12 40 13 30 12 18 13 4 12-9 12-23 13-36 12-47 13-56 12-62 13-65 12-64 29 13-12 64-13 65-12 62-13 56-12 47-13 36-12 23-13 9-12-4-13-18-12-30-13-40-12-45-12-50-13-48-12-45-13-37-12-26-13-14-12 0-13 14-12 27-13 37-12 45-13 48-12 46-13 41-12 32-13 19-12 6-13-9-12-20-13-29-12-32-13-30-12-22-13-11-12 3-13 17-12 27-13 31-12 27-13 17-12 3-13-10-12-15-13-10-12 5-13 14-12 4-13 4-12 14-13 5-12-9-13-16-12-9-13 2-12 17-13 28-12 30-13 27-12 17-13 4-12-11-12-23-13-30-12-32-13-28-12-21-13-8-12 5-13 19-12 32-13 41-12 47-13 47-12 45-13 37-12 27-13 14-12 0-13-13-12-27-13-37-12-44-13-49-12-49-13-46-12-39-13-30-12-18-13-5-12 9-13 23-12 36-13 47-12 56-13 62-12 65-13 65z"/>
<path transform="translate(-5 -2)" d="M827 1338l13-64 12-65 13-62 12-56 13-47 12-36 13-23 12-9 12 4 13 18 12 30 13 40 12 45 13 50 12 48 13 45 12 37 13 26 12 14 13 0 12-14 13-27 12-37 13-45 12-48 13-46 12-41 13-32 12-19 13-6 12 9 13 20 12 29 13 32 12 30 13 22 12 11 13-3 12-17 13-27 12-31 13-27 12-17 13-3 12 10 13 15 12 10 13-5 12-14 13-4 12-4 13-14 12-5 13 9 12 16 13 9 12-2 13-17 12-28 12-30 13-27 12-17 13-3 12 10 13 23 12 30 13 32 12 28 13 21 12 8 13-5 12-19 13-32 12-41 13-47 12-47 13-45 12-37 13-27 12-14 13 0 12 14 13 26 12 37 13 44 12 49 13 49 12 46 13 39 12 30 13 18 12 5 13-9 12-23 13-36 12-47 13-56 12-62 13-65 12-65 29 26-12 65-13 65-12 62-13 56-12 47-13 36-12 23-13 9-12-5-13-18-12-29-13-40-12-46-13-49-12-48-13-45-12-37-13-26-12-14-13 0-12 14-13 27-12 37-13 45-12 48-13 46-12 41-13 32-12 19-13 5-12-8-13-20-12-29-13-32-12-30-13-23-12-10-13 3-12 17-13 27-12 30-13 28-12 17-13 3-12-10-13-15-12-10-13 5-12 14-13 4-12 4-12 14-13 5-12-10-13-15-12-10-13 3-12 17-13 28-12 30-13 27-12 17-13 3-12-10-13-23-12-30-13-32-12-29-13-20-12-8-13 5-12 19-13 32-12 41-13 46-12 48-13 45-12 37-13 27-12 14-13 0-12-14-13-26-12-37-13-45-12-48-13-49-12-46-13-40-12-29-13-18-12-5-13 9-12 23-13 36-12 47-13 56-12 62-13 65-12 65z"/>
<path transform="translate(5 2)" d="M827 1340l12-64 13-65 12-62 13-56 12-47 13-36 12-23 13-9 12 4 13 18 12 30 13 39 12 46 13 50 12 48 13 45 12 37 13 26 12 14 13 0 12-14 13-27 12-37 12-45 13-48 12-46 13-42 12-31 13-19 12-6 13 9 12 20 13 29 12 32 13 30 12 22 13 11 12-3 13-17 12-27 13-31 12-27 13-17 12-3 13 10 12 15 13 10 12-5 13-15 12-3 13-4 12-14 13-5 12 9 13 16 12 9 13-2 12-17 13-28 12-31 13-26 12-17 13-4 12 11 13 23 12 30 13 32 12 28 13 21 12 8 13-5 12-19 12-32 13-41 12-47 13-47 12-45 13-37 12-27 13-14 12 0 13 13 12 27 13 37 12 44 13 49 12 49 13 46 12 39 13 30 12 18 13 5 12-9 13-23 12-36 13-47 12-56 13-62 12-65 13-65 29 25-13 65-12 65-13 62-12 56-13 47-12 36-13 23-12 9-13-5-12-18-13-30-12-39-13-46-12-49-13-49-12-44-13-37-12-27-13-13-12 0-13 14-12 27-13 37-12 45-13 47-12 47-13 41-12 32-13 19-12 5-13-8-12-21-13-28-12-32-13-30-12-23-12-11-13 4-12 17-13 27-12 30-13 28-12 17-13 2-12-9-13-16-12-9-13 5-12 14-13 4-12 4-13 14-12 5-13-10-12-15-13-10-12 3-13 17-12 27-13 31-12 27-13 17-12 3-13-11-12-22-13-30-12-32-13-29-12-20-13-9-12 6-13 19-12 32-13 41-12 46-13 48-12 45-13 37-12 27-13 14-12 0-13-14-12-26-13-37-12-45-13-48-12-50-12-45-13-40-12-30-13-18-12-4-13 9-12 23-13 36-12 47-13 56-12 62-13 65-12 64z"/>
<path transform="translate(14 7)" d="M827 1351l13-65 12-65 13-62 12-56 13-47 12-36 13-23 12-9 13 5 12 18 13 30 12 39 13 46 12 49 13 49 12 44 13 37 12 27 13 13 12 0 13-14 12-27 13-37 12-45 13-47 12-47 13-41 12-32 13-19 12-5 13 8 12 21 13 28 12 32 13 30 12 23 12 11 13-4 12-17 13-27 12-30 13-28 12-17 13-2 12 9 13 16 12 9 13-5 12-14 13-4 12-4 13-14 12-5 13 10 12 15 13 10 12-3 13-17 12-27 13-31 12-27 13-17 12-3 13 11 12 22 13 30 12 32 13 29 12 20 13 9 12-6 13-19 12-32 13-41 12-46 13-48 12-45 13-37 12-27 13-14 12 0 13 14 12 26 13 37 12 45 13 48 12 50 12 45 13 40 12 30 13 18 12 4 13-9 12-23 13-36 12-47 13-56 12-62 13-65 12-64 29 25-12 64-13 65-12 62-13 56-12 47-13 36-12 23-13 9-12-4-13-18-12-30-13-39-12-46-13-50-12-48-13-45-12-37-13-26-12-14-13 0-12 14-13 27-12 37-12 45-13 48-12 46-13 42-12 31-13 19-12 6-13-9-12-20-13-29-12-32-13-30-12-22-13-11-12 3-13 17-12 27-13 31-12 27-13 17-12 3-13-10-12-15-13-10-12 5-13 15-12 3-13 4-12 14-13 5-12-9-13-16-12-9-13 2-12 17-13 28-12 31-13 26-12 17-13 4-12-11-13-23-12-30-13-32-12-28-13-21-12-8-13 5-12 19-12 32-13 41-12 47-13 47-12 45-13 37-12 27-13 14-12 0-13-13-12-27-13-37-12-44-13-49-12-49-13-46-12-39-13-30-12-18-13-5-12 9-13 23-12 36-13 47-12 56-13 62-12 65-13 65z"/>
<path transform="translate(24 12)" d="M827 1351l12-65 13-65 12-62 13-56 12-47 13-36 12-23 13-9 12 5 13 18 12 29 13 40 12 46 13 49 12 48 13 45 12 37 13 26 12 14 13 0 12-14 13-27 12-37 13-45 12-48 13-46 12-41 13-32 12-19 13-5 12 8 13 20 12 29 13 32 12 30 13 23 12 10 13-3 12-17 13-27 12-30 13-28 12-17 13-3 12 10 13 15 12 10 13-5 12-14 13-4 12-4 12-14 13-5 12 10 13 15 12 10 13-3 12-17 13-28 12-30 13-27 12-17 13-3 12 10 13 23 12 30 13 32 12 29 13 20 12 8 13-5 12-19 13-32 12-41 13-46 12-48 13-45 12-37 13-27 12-14 13 0 12 14 13 26 12 37 13 45 12 48 13 49 12 46 13 40 12 29 13 18 12 5 13-9 12-23 13-36 12-47 13-56 12-62 13-65 12-65 29 27-13 64-12 65-13 62-12 56-13 47-12 36-13 23-12 9-12-4-13-18-12-30-13-40-12-45-13-50-12-48-13-45-12-37-13-26-12-14-13 0-12 14-13 27-12 37-13 45-12 48-13 46-12 41-13 32-12 19-13 6-12-9-13-20-12-29-13-32-12-30-13-22-12-11-13 3-12 17-13 27-12 31-13 27-12 17-13 3-12-10-13-15-12-10-13 5-12 14-13 4-12 4-13 14-12 5-13-9-12-16-13-9-12 2-13 17-12 28-12 30-13 27-12 17-13 3-12-10-13-23-12-30-13-32-12-28-13-21-12-8-13 5-12 19-13 32-12 41-13 47-12 47-13 45-12 37-13 27-12 14-13 0-12-14-13-26-12-37-13-44-12-49-13-49-12-46-13-39-12-30-13-18-12-5-13 9-12 23-13 36-12 47-13 56-12 62-13 65-12 65z"/>
<path transform="translate(34 16)" d="M827 1351l12-64 13-65 12-62 13-56 12-47 13-36 12-23 13-9 12 4 13 18 12 30 13 40 12 45 13 50 12 48 12 45 13 37 12 26 13 14 12 0 13-14 12-27 13-37 12-45 13-48 12-46 13-41 12-32 13-19 12-6 13 9 12 20 13 29 12 32 13 30 12 22 13 11 12-3 13-17 12-27 13-31 12-27 13-17 12-3 13 10 12 15 13 10 12-5 13-14 12-4 13-4 12-14 13-5 12 9 13 16 12 9 13-2 12-17 13-28 12-30 13-27 12-17 13-4 12 11 12 23 13 30 12 32 13 28 12 21 13 8 12-5 13-19 12-32 13-41 12-47 13-47 12-45 13-37 12-27 13-14 12 0 13 13 12 27 13 37 12 44 13 49 12 49 13 46 12 39 13 30 12 18 13 5 12-9 13-23 12-36 13-47 12-56 13-62 12-65 13-65 29 13-13 65-12 65-13 62-12 56-13 47-12 36-13 23-12 9-13-5-12-18-13-30-12-39-13-46-12-49-13-49-12-44-13-37-12-26-13-14-12 0-13 14-12 27-13 37-12 45-13 48-12 46-13 41-12 32-13 19-12 5-13-8-12-21-13-28-12-32-13-30-12-23-13-10-12 3-13 17-12 27-13 30-12 28-13 17-12 3-12-10-13-16-12-9-13 5-12 14-13 4-12 4-13 14-12 5-13-10-12-15-13-10-12 3-13 17-12 27-13 31-12 27-13 17-12 3-13-10-12-23-13-30-12-32-13-29-12-20-13-9-12 6-13 19-12 32-13 41-12 46-13 48-12 45-13 37-12 27-13 14-12 0-13-14-12-26-13-37-12-45-13-48-12-49-13-46-12-40-13-30-12-18-13-4-12 9-12 23-13 36-12 47-13 56-12 62-13 65-12 64z"/>
<path transform="translate(43 21)" d="M827 1362l13-65 12-65 13-62 12-56 13-47 12-36 13-23 12-9 13 5 12 18 13 30 12 39 13 46 12 49 13 49 12 44 13 37 12 27 13 13 12 0 13-14 12-27 13-37 12-45 13-47 12-47 13-41 12-32 12-19 13-5 12 8 13 21 12 28 13 32 12 30 13 23 12 11 13-4 12-17 13-26 12-31 13-28 12-17 13-2 12 9 13 16 12 9 13-5 12-14 13-4 12-3 13-15 12-5 13 10 12 15 13 10 12-3 13-17 12-27 13-31 12-27 13-17 12-3 13 11 12 22 13 30 12 32 13 29 12 20 13 9 12-6 13-19 12-31 13-42 12-46 13-48 12-45 12-37 13-27 12-14 13 0 12 14 13 26 12 37 13 45 12 48 13 50 12 46 13 39 12 30 13 18 12 4 13-9 12-23 13-36 12-47 13-56 12-62 13-65 12-64 29-17-12 65-13 65-12 62-13 56-12 47-13 36-12 23-13 9-12-5-13-18-12-30-13-39-12-46-13-49-12-49-13-44-12-37-13-27-12-13-13 0-12 14-13 27-12 37-13 45-12 47-13 47-12 41-13 32-12 19-13 5-12-8-12-21-13-28-12-32-13-30-12-23-13-11-12 4-13 17-12 26-13 31-12 28-13 17-12 2-13-9-12-16-13-9-12 5-13 14-12 4-13 3-12 15-13 5-12-10-13-15-12-10-13 3-12 17-13 27-12 31-13 27-12 17-13 3-12-11-13-22-12-30-13-32-12-29-13-20-12-9-13 6-12 19-13 31-12 42-13 46-12 48-13 45-12 37-13 27-12 14-12 0-13-14-12-26-13-37-12-45-13-48-12-50-13-46-12-39-13-30-12-18-13-4-12 9-13 23-12 36-13 47-12 56-13 62-12 65-13 64z"/>
<path transform="translate(53 26)" d="M827 1363l12-65 13-65 12-62 13-56 12-47 13-36 12-23 13-9 12 5 13 18 12 30 13 39 12 46 13 49 12 49 13 44 12 37 13 26 12 14 13 0 12-14 13-27 12-37 13-45 12-47 13-47 12-41 13-32 12-19 13-5 12 8 13 21 12 28 13 32 12 30 13 23 12 10 13-3 12-17 13-27 12-30 13-28 12-17 12-2 13 9 12 16 13 9 12-5 13-14 12-4 13-4 12-14 13-5 12 10 13 15 12 10 13-3 12-17 13-27 12-31 13-27 12-17 13-3 12 11 13 22 12 30 13 32 12 29 13 20 12 9 13-6 12-19 13-32 12-41 13-46 12-48 13-45 12-37 13-27 12-14 13 0 12 14 13 26 12 37 13 45 12 48 13 50 12 45 13 40 12 30 13 18 12 4 12-9 13-23 12-36 13-47 12-56 13-62 12-65 13-64 29-32-13 65-12 65-13 62-12 56-13 47-12 36-13 23-12 9-13-5-12-18-13-29-12-40-13-46-12-49-13-48-12-45-12-37-13-26-12-14-13 0-12 14-13 27-12 37-13 45-12 48-13 46-12 41-13 32-12 19-13 5-12-8-13-20-12-29-13-32-12-30-13-23-12-10-13 3-12 17-13 27-12 30-13 28-12 17-13 3-12-10-13-16-12-9-13 5-12 14-13 4-12 4-13 14-12 5-13-10-12-15-13-10-12 3-13 17-12 27-13 31-12 27-13 17-12 3-13-10-12-23-13-30-12-32-12-29-13-20-12-8-13 5-12 19-13 32-12 41-13 46-12 48-13 45-12 37-13 27-12 14-13 0-12-14-13-26-12-37-13-45-12-48-13-49-12-46-13-40-12-29-13-18-12-5-13 9-12 23-13 36-12 47-13 56-12 62-13 65-12 65z"/>
<path transform="translate(63 31)" d="M827 1349l12-64 13-65 12-62 13-56 12-47 13-36 12-23 12-9 13 4 12 18 13 30 12 40 13 46 12 49 13 48 12 45 13 37 12 26 13 14 12 0 13-14 12-27 13-37 12-45 13-48 12-46 13-41 12-32 13-19 12-6 13 9 12 20 13 29 12 32 13 30 12 23 13 10 12-3 13-17 12-27 13-31 12-27 13-17 12-3 13 10 12 15 13 10 12-5 13-14 12-4 13-4 12-14 13-5 12 9 13 16 12 10 12-3 13-17 12-28 13-30 12-27 13-17 12-3 13 10 12 23 13 30 12 32 13 28 12 21 13 8 12-5 13-19 12-32 13-41 12-46 13-48 12-45 13-37 12-27 13-14 12 0 13 14 12 26 13 37 12 44 13 49 12 49 13 46 12 39 13 30 12 18 13 5 12-9 13-23 12-36 13-47 12-56 13-62 12-65 13-65 28-19-12 65-12 65-13 62-12 56-13 47-12 36-13 23-12 9-13-5-12-18-13-29-12-40-13-46-12-49-13-49-12-44-13-37-12-26-13-14-12 0-13 14-12 27-13 37-12 45-13 48-12 46-13 41-12 32-13 19-12 5-13-8-12-21-13-28-12-32-13-30-12-23-13-10-12 3-13 17-12 27-13 30-12 28-13 17-12 3-13-10-12-16-13-9-12 5-13 14-12 4-13 4-12 14-12 5-13-10-12-15-13-10-12 3-13 17-12 27-13 31-12 27-13 17-12 3-13-10-12-23-13-30-12-32-13-29-12-20-13-8-12 5-13 19-12 32-13 41-12 46-13 48-12 45-13 37-12 27-13 14-12 0-13-14-12-26-13-37-12-45-13-48-12-49-13-46-12-40-13-29-12-18-13-5-12 9-13 23-12 36-13 47-12 56-13 62-12 65-13 65z"/>
<path transform="translate(72 35)" d="M827 1331l13-64 12-65 13-62 12-56 13-47 12-36 13-23 12-9 13 4 12 18 13 30 12 39 13 46 12 50 13 48 12 45 13 37 12 26 13 14 12 0 12-14 13-27 12-37 13-45 12-48 13-46 12-42 13-31 12-19 13-6 12 9 13 20 12 29 13 32 12 30 13 22 12 11 13-3 12-17 13-27 12-31 13-27 12-17 13-3 12 10 13 15 12 10 13-5 12-15 13-3 12-4 13-14 12-5 13 9 12 16 13 9 12-2 13-17 12-28 13-31 12-26 13-17 12-4 13 11 12 23 13 30 12 32 13 28 12 21 13 8 12-5 12-19 13-32 12-41 13-47 12-47 13-45 12-37 13-27 12-14 13 0 12 13 13 27 12 37 13 44 12 49 13 49 12 46 13 39 12 30 13 18 12 5 13-9 12-23 13-36 12-47 13-56 12-62 13-65 12-65 29 13-12 65-13 65-12 62-13 56-12 47-13 36-12 23-13 9-12-5-13-18-12-29-13-40-12-46-13-49-12-48-13-45-12-37-13-26-12-14-13 0-12 14-13 27-12 37-13 45-12 48-13 46-12 41-13 32-12 19-13 5-12-8-13-20-12-29-13-32-12-30-13-23-12-10-13 3-12 17-12 27-13 30-12 28-13 17-12 3-13-10-12-15-13-10-12 5-13 14-12 4-13 4-12 14-13 5-12-10-13-15-12-10-13 3-12 17-13 28-12 30-13 27-12 17-13 3-12-10-13-23-12-30-13-32-12-29-13-20-12-8-13 5-12 19-13 32-12 41-13 46-12 48-13 45-12 37-13 27-12 14-13 0-12-14-13-26-12-37-13-45-12-48-13-49-12-46-12-40-13-29-12-18-13-5-12 9-13 23-12 36-13 47-12 56-13 62-12 65-13 65z"/>
<path transform="translate(82 40)" d="M827 1318l12-65 13-65 12-62 13-56 12-47 13-36 12-23 13-9 12 5 13 18 12 29 13 40 12 46 13 49 12 48 13 45 12 37 13 26 12 14 13 0 12-14 13-27 12-37 13-45 12-48 13-46 12-41 13-32 12-19 13-5 12 8 13 20 12 29 13 32 12 30 12 23 13 10 12-3 13-17 12-27 13-31 12-27 13-17 12-3 13 10 12 15 13 10 12-5 13-14 12-4 13-4 12-14 13-5 12 9 13 16 12 10 13-3 12-17 13-28 12-30 13-27 12-17 13-3 12 10 13 23 12 30 13 32 12 29 13 20 12 8 13-5 12-19 13-32 12-41 13-46 12-48 13-45 12-37 13-27 12-14 13 0 12 14 13 26 12 37 12 45 13 48 12 49 13 46 12 40 13 29 12 18 13 5 12-9 13-23 12-36 13-47 12-56 13-62 12-65 13-65 29 51-13 65-12 65-13 61-12 56-13 47-12 36-13 23-12 10-13-5-12-18-13-30-12-39-13-46-12-49-13-49-12-45-13-36-12-27-13-14-12 0-13 14-12 27-13 38-12 44-12 48-13 47-12 41-13 31-12 20-13 5-12-9-13-20-12-29-13-32-12-30-13-22-12-11-13 3-12 17-13 27-12 31-13 27-12 17-13 3-12-10-13-15-12-9-13 4-12 15-13 3-12 4-13 14-12 5-13-9-12-15-13-10-12 3-13 17-12 27-13 31-12 27-13 16-12 4-13-11-12-22-13-30-12-32-13-29-12-20-13-9-12 5-13 20-12 31-13 41-12 47-12 48-13 44-12 38-13 26-12 14-13 0-12-13-13-27-12-37-13-44-12-49-13-49-12-46-13-39-12-30-13-18-12-5-13 10-12 23-13 35-12 48-13 55-12 62-13 65-12 65z"/>
<path transform="translate(92 45)" d="M826 1317l13-65 12-65 13-62 12-56 13-47 12-36 13-23 12-9 13 5 12 18 13 29 12 40 13 46 12 49 13 48 12 45 13 37 12 26 13 14 12 0 13-14 12-27 13-37 12-45 13-48 12-46 13-41 12-32 13-19 12-5 13 8 12 20 13 29 12 32 13 30 12 23 13 10 12-3 13-17 12-27 13-31 12-27 13-17 12-3 13 10 12 15 13 10 12-5 12-14 13-4 12-4 13-14 12-5 13 9 12 16 13 10 12-3 13-17 12-28 13-30 12-27 13-17 12-3 13 10 12 23 13 30 12 32 13 28 12 21 13 8 12-5 13-19 12-32 13-41 12-46 13-48 12-45 13-37 12-27 13-14 12 0 13 14 12 26 13 37 12 44 13 49 12 49 13 46 12 40 13 29 12 18 13 5 12-9 13-23 12-36 13-47 12-56 12-62 13-65 12-65 29 79-12 65-13 64-12 62-13 56-12 47-13 36-12 23-13 9-12-4-12-18-13-30-12-39-13-46-12-49-13-49-12-45-13-37-12-26-13-14-12 0-13 14-12 27-13 38-12 44-13 48-12 47-13 41-12 31-13 19-12 6-13-9-12-20-13-29-12-32-13-30-12-22-13-11-12 3-13 17-12 27-13 31-12 27-13 17-12 3-13-10-12-15-13-10-12 5-13 15-12 3-13 4-12 14-13 5-12-9-13-15-12-10-13 3-12 17-13 27-12 31-12 26-13 17-12 4-13-11-12-23-13-29-12-33-13-28-12-21-13-8-12 5-13 19-12 32-13 41-12 47-13 47-12 45-13 37-12 27-13 14-12 0-13-13-12-27-13-37-12-44-13-49-12-49-13-46-12-39-13-30-12-18-13-5-12 9-13 24-12 35-13 47-12 56-13 62-12 65-13 65z"/>
<path transform="translate(101 49)" d="M827 1331l13-65 12-65 13-62 12-56 13-47 12-36 13-23 12-9 13 5 12 18 13 29 12 40 12 46 13 49 12 48 13 45 12 37 13 26 12 14 13 0 12-14 13-27 12-37 13-45 12-48 13-46 12-41 13-32 12-19 13-5 12 8 13 20 12 29 13 32 12 30 13 23 12 10 13-3 12-17 13-27 12-30 13-28 12-17 13-3 12 10 13 15 12 10 13-5 12-14 13-4 12-4 13-14 12-5 13 10 12 15 13 10 12-3 13-17 12-28 13-30 12-27 13-17 12-3 12 10 13 23 12 30 13 32 12 29 13 20 12 8 13-5 12-19 13-32 12-41 13-46 12-48 13-45 12-37 13-27 12-14 13 0 12 14 13 26 12 37 13 45 12 48 13 49 12 46 13 40 12 29 13 18 12 5 13-9 12-23 13-36 12-47 13-56 12-62 13-65 12-65 29 89-12 64-13 65-12 62-13 56-12 47-13 36-12 23-13 9-12-4-13-18-12-30-13-39-12-46-13-50-12-48-13-45-12-37-13-26-12-14-13 0-12 14-13 27-12 37-13 45-12 48-13 47-12 41-13 31-12 19-13 6-12-9-13-20-12-29-13-32-12-30-13-22-12-11-13 3-12 17-13 27-12 31-13 27-12 17-13 3-12-10-13-15-12-10-12 5-13 15-12 3-13 4-12 14-13 5-12-9-13-15-12-10-13 2-12 17-13 28-12 31-13 26-12 17-13 4-12-11-13-23-12-30-13-32-12-28-13-21-12-8-13 5-12 19-13 32-12 41-13 47-12 47-13 45-12 37-13 27-12 14-13 0-12-13-13-27-12-37-13-44-12-49-13-49-12-46-13-39-12-30-13-18-12-5-13 9-12 23-13 36-12 47-12 56-13 62-12 65-13 65z"/>
<path transform="translate(111 54)" d="M827 1354l12-65 13-65 12-62 13-55 12-48 13-35 12-23 13-10 12 5 13 18 12 30 13 39 12 46 13 49 12 49 13 44 12 37 13 27 12 13 13 0 12-14 13-26 12-38 13-44 12-48 13-47 12-41 12-31 13-20 12-5 13 9 12 20 13 29 12 32 13 30 12 22 13 11 12-4 13-16 12-27 13-31 12-27 13-17 12-3 13 10 12 15 13 9 12-5 13-14 12-4 13-3 12-15 13-4 12 9 13 15 12 10 13-3 12-17 13-27 12-31 13-27 12-17 13-3 12 11 13 22 12 30 13 32 12 29 13 20 12 9 13-5 12-20 13-31 12-41 13-47 12-48 12-44 13-38 12-27 13-14 12 0 13 14 12 27 13 36 12 45 13 49 12 49 13 46 12 39 13 30 12 18 13 5 12-10 13-23 12-36 13-47 12-56 13-61 12-65 13-65 29 78-13 64-12 65-13 62-12 56-13 47-12 36-13 23-12 9-13-4-12-18-13-30-12-40-13-45-12-50-13-48-12-45-13-37-12-26-13-14-12 0-13 14-12 27-13 37-12 45-13 48-12 46-13 41-12 32-13 19-12 6-13-9-12-20-12-29-13-32-12-30-13-22-12-11-13 3-12 17-13 27-12 31-13 27-12 17-13 3-12-10-13-15-12-10-13 5-12 14-13 4-12 4-13 14-12 5-13-9-12-16-13-9-12 2-13 17-12 28-13 30-12 27-13 17-12 4-13-11-12-23-13-30-12-32-13-28-12-21-13-8-12 5-13 19-12 32-13 41-12 47-13 47-12 45-13 37-12 27-13 14-12 0-13-14-12-26-12-37-13-44-12-49-13-49-12-46-13-39-12-30-13-18-12-5-13 9-12 23-13 36-12 47-13 56-12 62-13 65-12 65z"/>
<path transform="translate(120 59)" d="M827 1381l13-65 12-65 13-62 12-56 13-47 12-35 13-24 12-9 13 5 12 18 13 30 12 39 13 46 12 49 13 49 12 44 13 37 12 27 13 13 12 0 13-14 12-27 13-37 12-45 13-47 12-47 13-41 12-32 13-19 12-5 13 8 12 21 13 28 12 33 13 29 12 23 13 11 12-4 13-17 12-26 12-31 13-27 12-17 13-3 12 10 13 15 12 9 13-5 12-14 13-4 12-3 13-15 12-5 13 10 12 15 13 10 12-3 13-17 12-27 13-31 12-27 13-17 12-3 13 11 12 22 13 30 12 32 13 29 12 20 13 9 12-6 13-19 12-31 13-41 12-47 13-48 12-44 13-38 12-27 13-14 12 0 13 14 12 26 13 37 12 45 13 49 12 49 13 46 12 39 12 30 13 18 12 4 13-9 12-23 13-36 12-47 13-56 12-62 13-64 12-65 29 50-12 65-13 65-12 62-13 56-12 47-13 35-12 23-13 10-12-5-13-18-12-30-13-39-12-46-13-49-12-49-13-44-12-37-13-27-12-13-12 0-13 14-12 26-13 38-12 44-13 48-12 47-13 41-12 32-13 19-12 5-13-8-12-21-13-29-12-32-13-30-12-22-13-11-12 4-13 16-12 27-13 31-12 27-13 17-12 3-13-10-12-15-13-9-12 5-13 14-12 4-13 3-12 15-13 4-12-9-13-15-12-10-13 3-12 17-13 27-12 31-13 27-12 17-13 3-12-11-13-22-12-30-13-32-12-29-12-20-13-9-12 6-13 19-12 31-13 41-12 47-13 48-12 44-13 38-12 27-13 14-12 0-13-14-12-26-13-37-12-45-13-49-12-49-13-46-12-39-13-30-12-18-13-4-12 9-13 23-12 36-13 47-12 56-13 61-12 65-13 65z"/>
<path transform="translate(130 63)" d="M827 1405l13-65 12-65 13-62 12-56 12-47 13-36 12-23 13-9 12 5 13 18 12 30 13 39 12 46 13 49 12 49 13 44 12 37 13 27 12 13 13 0 12-14 13-27 12-37 13-45 12-47 13-47 12-41 13-32 12-19 13-5 12 8 13 21 12 28 13 32 12 30 13 23 12 11 13-4 12-17 13-26 12-31 13-28 12-17 13-2 12 10 13 15 12 9 13-5 12-14 13-4 12-3 13-15 12-5 13 10 12 15 12 10 13-3 12-17 13-27 12-31 13-27 12-17 13-3 12 11 13 22 12 30 13 32 12 29 13 20 12 9 13-6 12-19 13-31 12-41 13-47 12-48 13-45 12-37 13-27 12-14 13 0 12 14 13 26 12 37 13 45 12 48 13 50 12 46 13 39 12 30 13 18 12 4 13-9 12-23 13-36 12-47 13-56 12-62 13-65 12-64 29 12-13 65-12 65-13 62-12 56-12 47-13 36-12 23-13 9-12-5-13-18-12-29-13-40-12-46-13-49-12-48-13-45-12-37-13-26-12-14-13 0-12 14-13 27-12 37-13 45-12 48-13 46-12 41-13 32-12 19-13 5-12-8-13-20-12-29-13-32-12-30-13-23-12-10-13 3-12 17-13 27-12 31-13 27-12 17-13 3-12-10-13-15-12-10-13 5-12 14-13 4-12 4-13 14-12 5-13-9-12-16-12-10-13 3-12 17-13 28-12 30-13 27-12 17-13 3-12-10-13-23-12-30-13-32-12-28-13-21-12-8-13 5-12 19-13 32-12 41-13 46-12 48-13 45-12 37-13 27-12 14-13 0-12-14-13-26-12-37-13-45-12-48-13-49-12-46-13-40-12-29-13-18-12-5-13 9-12 23-13 36-12 47-13 56-12 62-13 65-12 65z"/>
<path transform="translate(140 68)" d="M827 1418l12-65 13-65 12-62 13-56 12-47 13-36 12-23 13-9 12 5 13 18 12 30 13 39 12 46 13 49 12 49 13 44 12 37 13 26 12 14 12 0 13-14 12-27 13-37 12-45 13-47 12-47 13-41 12-32 13-19 12-5 13 8 12 21 13 28 12 32 13 30 12 23 13 11 12-4 13-17 12-27 13-30 12-28 13-17 12-2 13 9 12 16 13 9 12-5 13-14 12-4 13-4 12-14 13-5 12 10 13 15 12 10 13-3 12-17 13-27 12-31 13-27 12-17 13-3 12 11 13 22 12 30 13 32 12 29 12 20 13 9 12-6 13-19 12-32 13-41 12-46 13-48 12-45 13-37 12-27 13-14 12 0 13 14 12 26 13 37 12 45 13 48 12 50 13 45 12 40 13 30 12 18 13 4 12-9 13-23 12-36 13-47 12-56 13-62 12-65 13-64 29-27-13 65-12 65-13 62-12 56-13 47-12 35-13 24-12 9-13-5-12-18-13-30-12-39-13-46-12-49-13-49-12-44-13-37-12-27-13-13-12 0-13 14-12 27-13 37-12 45-13 47-12 47-13 41-12 32-13 19-12 5-13-8-12-21-13-28-12-33-13-30-12-22-13-11-12 4-13 17-12 26-12 31-13 27-12 17-13 3-12-10-13-15-12-9-13 5-12 14-13 4-12 3-13 15-12 5-13-10-12-15-13-10-12 3-13 17-12 27-13 31-12 27-13 17-12 3-13-11-12-22-13-30-12-32-13-29-12-20-13-9-12 6-13 19-12 31-13 41-12 47-13 48-12 44-13 38-12 27-13 14-12 0-13-14-12-26-13-37-12-45-13-49-12-49-13-46-12-39-12-30-13-18-12-4-13 9-12 23-13 36-12 47-13 56-12 62-13 64-12 65z"/>
<path transform="translate(149 73)" d="M827 1417l13-65 12-65 13-61 12-56 13-47 12-36 13-23 12-9 13 4 12 18 13 30 12 39 13 46 12 49 13 49 12 45 13 37 12 26 13 14 12 0 13-14 12-27 13-38 12-44 13-48 12-47 13-41 12-31 13-19 12-6 13 9 12 20 12 29 13 32 12 30 13 22 12 11 13-3 12-17 13-27 12-31 13-27 12-17 13-3 12 10 13 15 12 9 13-4 12-15 13-3 12-4 13-14 12-5 13 9 12 15 13 10 12-3 13-17 12-27 13-31 12-27 13-16 12-4 13 11 12 22 13 30 12 32 13 29 12 21 13 8 12-5 13-19 12-32 13-41 12-47 13-48 12-44 13-38 12-26 13-14 12 0 13 13 12 27 12 37 13 44 12 49 13 49 12 46 13 39 12 30 13 18 12 5 13-10 12-23 13-35 12-47 13-56 12-62 13-65 12-65 29-60-12 65-13 65-12 62-13 56-12 47-13 36-12 23-13 9-12-5-13-18-12-30-13-39-12-46-13-49-12-49-13-44-12-37-13-26-12-14-13 0-12 14-13 27-12 37-13 45-12 47-13 47-12 41-12 32-13 19-12 5-13-8-12-21-13-28-12-32-13-30-12-23-13-10-12 3-13 17-12 27-13 30-12 28-13 17-12 2-13-9-12-16-13-9-12 5-13 14-12 4-13 4-12 14-13 5-12-10-13-15-12-10-13 3-12 17-13 27-12 31-13 27-12 17-13 3-12-11-13-22-12-30-13-32-12-29-13-20-12-9-13 6-12 19-13 32-12 41-13 46-12 48-12 45-13 37-12 27-13 14-12 0-13-14-12-26-13-37-12-45-13-48-12-50-13-45-12-40-13-30-12-18-13-4-12 9-13 23-12 36-13 47-12 56-13 62-12 65-13 64z"/>
<path transform="translate(159 78)" d="M827 1403l12-65 13-65 12-62 13-56 12-47 13-36 12-23 13-9 12 5 13 18 12 29 13 40 12 46 13 49 12 48 13 45 12 37 13 26 12 14 13 0 12-14 13-27 12-37 13-45 12-48 13-46 12-41 13-32 12-19 13-5 12 8 13 21 12 28 13 32 12 30 13 23 12 10 13-3 12-17 13-27 12-30 13-28 12-17 13-3 12 10 13 16 12 9 12-5 13-14 12-4 13-4 12-14 13-5 12 10 13 15 12 10 13-3 12-17 13-27 12-31 13-27 12-17 13-3 12 10 13 23 12 30 13 32 12 29 13 20 12 8 13-5 12-19 13-32 12-41 13-46 12-48 13-45 12-37 13-27 12-14 13 0 12 14 13 26 12 37 13 45 12 48 13 49 12 46 13 40 12 29 13 18 12 5 13-9 12-23 13-36 12-47 12-56 13-62 12-65 13-65 29-81-13 65-12 65-13 62-12 56-13 47-12 36-13 23-12 9-13-5-12-18-13-30-12-39-12-46-13-49-12-49-13-44-12-37-13-26-12-14-13 0-12 14-13 27-12 37-13 45-12 47-13 47-12 41-13 32-12 19-13 5-12-8-13-21-12-28-13-32-12-30-13-23-12-10-13 3-12 17-13 27-12 30-13 28-12 17-13 2-12-9-13-16-12-9-13 5-12 14-13 4-12 4-13 14-12 5-13-10-12-15-13-10-12 3-13 17-12 27-13 31-12 27-13 17-12 3-12-11-13-22-12-30-13-32-12-29-13-20-12-9-13 6-12 19-13 32-12 41-13 46-12 48-13 45-12 37-13 27-12 14-13 0-12-14-13-26-12-37-13-45-12-48-13-50-12-45-13-40-12-30-13-18-12-4-13 9-12 23-13 36-12 47-13 56-12 62-13 65-12 64z"/>
<path transform="translate(169 82)" d="M827 1377l12-65 13-64 12-62 13-56 12-47 13-36 12-23 13-9 12 4 13 18 12 30 12 39 13 46 12 49 13 49 12 45 13 37 12 26 13 14 12 0 13-14 12-27 13-38 12-44 13-48 12-47 13-41 12-31 13-19 12-6 13 9 12 20 13 29 12 32 13 30 12 22 13 11 12-3 13-17 12-27 13-31 12-27 13-17 12-3 13 10 12 15 13 10 12-5 13-15 12-3 13-4 12-14 13-5 12 9 13 15 12 10 13-3 12-17 13-27 12-31 12-26 13-17 12-4 13 11 12 22 13 30 12 33 13 28 12 21 13 8 12-5 13-19 12-32 13-41 12-47 13-47 12-45 13-37 12-27 13-14 12 0 13 13 12 27 13 37 12 44 13 49 12 49 13 46 12 39 13 30 12 18 13 5 12-9 13-24 12-35 13-47 12-56 13-62 12-65 13-65 29-87-13 64-12 65-13 62-12 56-13 47-12 36-13 23-12 9-13-4-12-18-13-30-12-39-13-46-12-50-13-48-12-45-13-37-12-26-13-14-12 0-13 14-12 27-13 37-12 45-13 48-12 47-13 41-12 31-13 19-12 6-13-9-12-20-13-29-12-32-13-30-12-22-13-11-12 3-13 17-12 27-13 31-12 27-13 17-12 3-13-10-12-15-13-10-12 5-12 15-13 3-12 4-13 14-12 5-13-9-12-15-13-10-12 2-13 17-12 28-13 31-12 26-13 17-12 4-13-11-12-23-13-29-12-33-13-28-12-21-13-8-12 5-13 19-12 32-13 41-12 47-13 47-12 45-13 37-12 27-13 14-12 0-13-13-12-27-13-37-12-44-13-49-12-49-13-46-12-39-13-30-12-18-13-5-12 9-13 23-12 36-13 47-12 56-12 62-13 65-12 65z"/>
<path transform="translate(178 87)" d="M827 1343l13-64 12-65 13-62 12-56 13-47 12-36 13-23 12-9 13 4 12 18 13 30 12 40 13 45 12 50 13 48 12 45 13 37 12 26 13 14 12 0 13-14 12-27 13-37 12-45 12-48 13-46 12-41 13-32 12-19 13-6 12 9 13 20 12 29 13 32 12 30 13 22 12 11 13-3 12-17 13-27 12-31 13-27 12-17 13-3 12 10 13 15 12 10 13-5 12-14 13-4 12-4 13-14 12-5 13 9 12 16 13 9 12-2 13-17 12-28 13-30 12-27 13-17 12-3 13 10 12 23 13 30 12 32 13 28 12 21 13 8 12-5 13-19 12-32 12-41 13-47 12-47 13-45 12-37 13-27 12-14 13 0 12 14 13 26 12 37 13 44 12 49 13 49 12 46 13 39 12 30 13 18 12 5 13-9 12-23 13-36 12-47 13-56 12-62 13-65 12-65 29-78-12 65-13 65-12 62-13 56-12 47-13 36-12 23-13 9-12-5-13-18-12-29-13-40-12-46-13-49-12-48-13-45-12-37-13-26-12-14-13 0-12 14-13 27-12 37-13 45-12 48-13 46-12 41-13 32-12 19-13 5-12-8-13-20-12-29-13-32-12-30-12-23-13-10-12 3-13 17-12 27-13 30-12 28-13 17-12 3-13-10-12-15-13-10-12 5-13 14-12 4-13 4-12 14-13 5-12-10-13-15-12-10-13 3-12 17-13 28-12 30-13 27-12 17-13 3-12-10-13-23-12-30-13-32-12-29-13-20-12-8-13 5-12 19-13 32-12 41-13 46-12 48-13 45-12 37-13 27-12 14-13 0-12-14-13-26-12-37-12-45-13-48-12-49-13-46-12-40-13-29-12-18-13-5-12 9-13 23-12 36-13 47-12 56-13 62-12 65-13 65z"/>
<path transform="translate(188 92)" d="M827 1307l12-64 13-65 12-62 13-56 12-47 13-36 12-23 13-9 12 4 13 18 12 30 13 40 12 45 13 50 12 48 13 45 12 37 13 26 12 14 13 0 12-14 13-27 12-37 13-45 12-48 13-46 12-41 13-32 12-19 13-6 12 9 13 20 12 29 13 32 12 30 13 22 12 11 12-3 13-17 12-27 13-31 12-27 13-17 12-3 13 10 12 15 13 10 12-5 13-14 12-4 13-4 12-14 13-5 12 9 13 16 12 9 13-2 12-17 13-28 12-30 13-27 12-17 13-3 12 10 13 23 12 30 13 32 12 28 13 21 12 8 13-5 12-19 13-32 12-41 13-47 12-47 13-45 12-37 13-27 12-14 13 0 12 14 13 26 12 37 13 44 12 49 13 49 12 46 12 39 13 30 12 18 13 5 12-9 13-23 12-36 13-47 12-56 13-62 12-65 13-65 29-54-13 65-12 65-13 62-12 56-13 47-12 35-13 23-12 10-13-5-12-18-13-30-12-39-13-46-12-49-13-49-12-44-13-37-12-27-13-13-12 0-12 14-13 26-12 38-13 44-12 48-13 47-12 41-13 32-12 19-13 5-12-8-13-21-12-29-13-32-12-30-13-22-12-11-13 4-12 16-13 27-12 31-13 27-12 17-13 3-12-10-13-15-12-9-13 5-12 14-13 4-12 3-13 15-12 4-13-9-12-15-13-10-12 3-13 17-12 27-13 31-12 27-13 17-12 3-13-11-12-22-13-30-12-32-13-29-12-20-12-9-13 5-12 20-13 31-12 41-13 47-12 48-13 44-12 38-13 27-12 14-13 0-12-14-13-26-12-37-13-45-12-49-13-49-12-46-13-39-12-30-13-18-12-5-13 10-12 23-13 36-12 47-13 56-12 61-13 65-12 65z"/>
<path transform="translate(198 96)" d="M827 1276l12-65 13-65 12-62 12-56 13-47 12-36 13-23 12-9 13 5 12 18 13 30 12 39 13 46 12 49 13 49 12 44 13 37 12 27 13 13 12 0 13-14 12-27 13-37 12-45 13-47 12-47 13-41 12-32 13-19 12-5 13 8 12 21 13 28 12 33 13 29 12 23 13 11 12-4 13-17 12-26 13-31 12-28 13-17 12-2 13 10 12 15 13 9 12-5 13-14 12-4 13-3 12-15 12-5 13 10 12 15 13 10 12-3 13-17 12-27 13-31 12-27 13-17 12-3 13 11 12 22 13 30 12 32 13 29 12 20 13 9 12-6 13-19 12-31 13-41 12-47 13-48 12-45 13-37 12-27 13-14 12 0 13 14 12 26 13 37 12 45 13 48 12 50 13 46 12 39 13 30 12 18 13 4 12-9 13-23 12-36 13-47 12-56 13-62 12-65 13-64 28-21-12 65-13 65-12 62-13 56-12 47-12 36-13 23-12 9-13-5-12-18-13-29-12-40-13-46-12-49-13-48-12-45-13-37-12-26-13-14-12 0-13 14-12 27-13 37-12 45-13 48-12 46-13 41-12 32-13 19-12 5-13-8-12-20-13-29-12-32-13-30-12-23-13-10-12 3-13 17-12 27-13 30-12 28-13 17-12 3-13-10-12-15-13-10-12 5-13 14-12 4-13 4-12 14-13 5-12-10-13-15-12-10-12 3-13 17-12 28-13 30-12 27-13 17-12 3-13-10-12-23-13-30-12-32-13-29-12-20-13-8-12 5-13 19-12 32-13 41-12 46-13 48-12 45-13 37-12 27-13 14-12 0-13-14-12-26-13-37-12-45-13-48-12-49-13-46-12-40-13-29-12-18-13-5-12 9-13 23-12 36-13 47-12 56-13 62-12 65-13 65z"/>
<path transform="translate(207 101)" d="M827 1252l13-65 12-65 13-62 12-56 13-47 12-36 13-23 12-9 13 5 12 18 13 29 12 40 13 46 12 49 13 48 12 45 12 37 13 26 12 14 13 0 12-14 13-27 12-37 13-45 12-48 13-46 12-41 13-32 12-19 13-5 12 8 13 20 12 29 13 32 12 30 13 23 12 10 13-3 12-17 13-27 12-30 13-28 12-17 13-3 12 10 13 15 12 10 13-5 12-14 13-4 12-4 13-14 12-5 13 10 12 15 13 10 12-3 13-17 12-28 13-30 12-27 13-17 12-3 13 10 12 23 12 30 13 32 12 29 13 20 12 8 13-5 12-19 13-32 12-41 13-46 12-48 13-45 12-37 13-27 12-14 13 0 12 14 13 26 12 37 13 45 12 48 13 49 12 46 13 40 12 29 13 18 12 5 13-9 12-23 13-36 12-47 13-56 12-62 13-65 12-65 29 20-12 65-13 64-12 62-13 56-12 47-13 36-12 23-13 9-12-4-13-18-12-30-13-39-12-46-13-49-12-49-13-45-12-37-13-26-12-14-13 0-12 14-13 27-12 38-13 44-12 48-13 47-12 41-13 31-12 19-13 6-12-9-13-20-12-29-13-32-12-30-13-22-12-11-13 3-12 17-13 27-12 31-12 27-13 17-12 3-13-10-12-15-13-10-12 5-13 15-12 3-13 4-12 14-13 5-12-9-13-15-12-10-13 3-12 17-13 27-12 31-13 26-12 17-13 4-12-11-13-23-12-29-13-33-12-28-13-21-12-8-13 5-12 19-13 32-12 41-13 47-12 47-13 45-12 37-13 27-12 14-13 0-12-13-13-27-12-37-13-44-12-49-13-49-12-46-13-39-12-30-13-18-12-5-12 9-13 24-12 35-13 47-12 56-13 62-12 65-13 65z"/>
<path transform="translate(217 106)" d="M827 1239l12-65 13-65 12-61 13-56 12-47 13-36 12-23 13-10 12 5 13 18 12 30 13 39 12 46 13 49 12 49 13 45 12 37 13 26 12 14 13 0 12-14 13-27 12-38 13-44 12-48 13-47 12-41 13-31 12-20 13-5 12 9 12 20 13 29 12 32 13 30 12 22 13 11 12-3 13-17 12-27 13-31 12-27 13-17 12-3 13 10 12 15 13 9 12-4 13-15 12-3 13-4 12-14 13-5 12 9 13 15 12 10 13-3 12-17 13-27 12-31 13-27 12-16 13-4 12 11 13 22 12 30 13 32 12 29 13 21 12 8 13-5 12-19 13-32 12-41 13-47 12-48 13-44 12-38 13-26 12-14 12 0 13 13 12 27 13 37 12 44 13 49 12 49 13 46 12 39 13 30 12 18 13 5 12-10 13-23 12-35 13-47 12-56 13-62 12-65 13-65 29 59-13 65-12 65-13 62-12 56-13 47-12 36-13 23-12 9-13-5-12-18-13-29-12-40-13-46-12-49-13-48-12-45-13-37-12-26-13-14-12 0-13 14-12 27-13 37-12 45-13 48-12 46-13 41-12 32-12 19-13 5-12-8-13-20-12-29-13-32-12-30-13-23-12-10-13 3-12 17-13 27-12 30-13 28-12 17-13 3-12-10-13-15-12-10-13 5-12 14-13 4-12 4-13 14-12 5-13-10-12-15-13-10-12 3-13 17-12 27-13 31-12 27-13 17-12 3-13-10-12-23-13-30-12-32-13-29-12-20-13-8-12 5-13 19-12 32-13 41-12 46-13 48-12 45-12 37-13 27-12 14-13 0-12-14-13-26-12-37-13-45-12-48-13-49-12-46-13-40-12-29-13-18-12-5-13 9-12 23-13 36-12 47-13 56-12 62-13 65-12 65z"/>
<path transform="translate(227 110)" d="M826 1242l13-65 12-65 13-62 12-56 13-47 12-36 13-23 12-9 13 5 12 18 13 29 12 40 13 46 12 49 13 48 12 45 13 37 12 26 13 14 12 0 13-14 12-27 13-37 12-45 13-48 12-46 13-41 12-32 13-19 12-5 13 8 12 20 13 29 12 32 13 30 12 23 13 10 12-3 13-17 12-27 13-30 12-28 13-17 12-3 12 10 13 15 12 10 13-5 12-14 13-4 12-4 13-14 12-5 13 10 12 15 13 10 12-3 13-17 12-28 13-30 12-27 13-17 12-3 13 10 12 23 13 30 12 32 13 29 12 20 13 8 12-5 13-19 12-32 13-41 12-46 13-48 12-45 13-37 12-27 13-14 12 0 13 14 12 26 13 37 12 45 13 48 12 49 13 46 12 40 13 29 12 18 13 5 12-9 12-23 13-36 12-47 13-56 12-62 13-65 12-65 29 96-12 64-13 65-12 62-13 56-12 47-13 36-12 23-13 9-12-4-13-18-12-30-13-40-12-45-12-50-13-48-12-45-13-37-12-26-13-14-12 0-13 14-12 27-13 37-12 45-13 48-12 46-13 41-12 32-13 19-12 6-13-9-12-20-13-29-12-32-13-30-12-23-13-10-12 3-13 17-12 27-13 31-12 27-13 17-12 3-13-10-12-15-13-10-12 5-13 14-12 4-13 4-12 14-13 5-12-9-13-16-12-9-13 2-12 17-13 28-12 30-13 27-12 17-13 3-12-10-12-23-13-30-12-32-13-28-12-21-13-8-12 5-13 19-12 32-13 41-12 47-13 47-12 45-13 37-12 27-13 14-12 0-13-14-12-26-13-37-12-44-13-49-12-49-13-46-12-39-13-30-12-18-13-5-12 9-13 23-12 36-13 47-12 56-13 62-12 65-13 65z"/>
<path transform="translate(236 115)" d="M827 1257l13-65 12-65 13-62 12-56 13-47 12-35 13-24 12-9 12 5 13 18 12 30 13 39 12 46 13 49 12 49 13 44 12 37 13 27 12 13 13 0 12-14 13-27 12-37 13-45 12-47 13-47 12-41 13-32 12-19 13-5 12 8 13 21 12 28 13 33 12 29 13 23 12 11 13-4 12-17 13-26 12-31 13-27 12-17 13-3 12 10 13 15 12 9 13-5 12-14 13-4 12-3 13-15 12-5 13 10 12 15 13 10 12-3 13-17 12-27 12-31 13-27 12-17 13-3 12 11 13 22 12 30 13 32 12 29 13 20 12 9 13-6 12-19 13-31 12-41 13-47 12-48 13-44 12-38 13-27 12-14 13 0 12 14 13 26 12 37 13 45 12 49 13 49 12 46 13 39 12 30 13 18 12 4 13-9 12-23 13-36 12-47 13-56 12-62 13-64 12-65 29 122-12 65-13 65-12 62-13 56-12 47-13 36-12 23-13 9-12-5-13-18-12-30-13-39-12-46-13-49-12-49-13-44-12-37-13-26-12-14-13 0-12 14-13 27-12 37-13 45-12 47-13 47-12 41-13 32-12 19-13 5-12-8-13-21-12-28-13-32-12-30-13-23-12-10-13 3-12 17-13 27-12 30-13 28-12 17-13 3-12-10-13-16-12-9-13 5-12 14-13 4-12 4-12 14-13 5-12-10-13-15-12-10-13 3-12 17-13 27-12 31-13 27-12 17-13 3-12-10-13-23-12-30-13-32-12-29-13-20-12-9-13 6-12 19-13 32-12 41-13 46-12 48-13 45-12 37-13 27-12 14-13 0-12-14-13-26-12-37-13-45-12-48-13-49-12-46-13-40-12-30-13-18-12-4-13 9-12 23-13 36-12 47-13 56-12 62-13 65-12 64z"/>
<path transform="translate(246 120)" d="M827 1285l12-65 13-65 12-62 13-56 12-47 13-36 12-23 13-9 12 5 13 18 12 29 13 40 12 46 13 49 12 48 13 45 12 37 13 26 12 14 13 0 12-14 13-27 12-37 12-45 13-48 12-46 13-41 12-32 13-19 12-5 13 8 12 20 13 29 12 32 13 30 12 23 13 10 12-3 13-17 12-27 13-31 12-27 13-17 12-3 13 10 12 15 13 10 12-5 13-14 12-4 13-4 12-14 13-5 12 10 13 15 12 10 13-3 12-17 13-28 12-30 13-27 12-17 13-3 12 10 13 23 12 30 13 32 12 29 13 20 12 8 13-5 12-19 12-32 13-41 12-46 13-48 12-45 13-37 12-27 13-14 12 0 13 14 12 26 13 37 12 45 13 48 12 49 13 46 12 40 13 29 12 18 13 5 12-9 13-23 12-36 13-47 12-56 13-62 12-65 13-65 29 139-13 65-12 65-13 62-12 56-13 47-12 36-13 23-12 9-13-5-12-18-13-30-12-39-13-46-12-49-13-49-12-44-13-37-12-27-13-13-12 0-13 14-12 27-13 37-12 45-13 47-12 47-13 41-12 32-13 19-12 5-13-8-12-21-13-28-12-32-13-30-12-23-12-11-13 4-12 17-13 26-12 31-13 28-12 17-13 2-12-9-13-16-12-9-13 5-12 14-13 4-12 4-13 14-12 5-13-10-12-15-13-10-12 3-13 17-12 27-13 31-12 27-13 17-12 3-13-11-12-22-13-30-12-32-13-29-12-20-13-9-12 6-13 19-12 31-13 42-12 46-13 48-12 45-13 37-12 27-13 14-12 0-13-14-12-26-13-37-12-45-13-48-12-50-12-45-13-40-12-30-13-18-12-4-13 9-12 23-13 36-12 47-13 56-12 62-13 65-12 64z"/>
<path transform="translate(255 125)" d="M827 1322l13-65 12-65 13-62 12-56 13-47 12-36 13-23 12-9 13 5 12 18 13 30 12 39 13 46 12 49 13 49 12 44 13 37 12 26 13 14 12 0 13-14 12-27 13-37 12-45 13-47 12-47 13-41 12-32 13-19 12-5 13 8 12 21 13 28 12 32 13 30 12 23 12 10 13-3 12-17 13-27 12-30 13-28 12-17 13-2 12 9 13 16 12 9 13-5 12-14 13-4 12-4 13-14 12-5 13 10 12 15 13 10 12-3 13-17 12-27 13-31 12-27 13-17 12-3 13 10 12 23 13 30 12 32 13 29 12 20 13 9 12-6 13-19 12-32 13-41 12-46 13-48 12-45 13-37 12-27 13-14 12 0 13 14 12 26 13 37 12 45 13 48 12 50 12 45 13 40 12 30 13 18 12 4 13-9 12-23 13-36 12-47 13-56 12-62 13-65 12-64 29 142-12 65-13 65-12 62-13 55-12 47-13 36-12 23-13 10-12-5-13-18-12-30-13-39-12-46-13-49-12-49-13-44-12-37-13-27-12-14-13 1-12 14-13 26-12 38-12 44-13 48-12 47-13 41-12 31-13 20-12 5-13-9-12-20-13-29-12-32-13-30-12-22-13-11-12 4-13 16-12 27-13 31-12 27-13 17-12 3-13-10-12-15-13-9-12 4-13 15-12 3-13 4-12 15-13 4-12-9-13-15-12-10-13 3-12 17-13 27-12 31-13 27-12 16-13 4-12-11-13-22-12-30-13-32-12-29-13-20-12-9-13 5-12 20-12 31-13 41-12 47-13 48-12 44-13 38-12 26-13 14-12 1-13-14-12-27-13-37-12-44-13-49-12-49-13-46-12-39-13-30-12-18-13-5-12 10-13 23-12 36-13 47-12 55-13 62-12 65-13 65z"/>
<path transform="translate(265 129)" d="M827 1365l12-64 13-65 12-62 13-56 12-47 13-36 12-23 13-9 12 4 13 18 12 30 13 40 12 46 13 49 12 48 13 45 12 37 13 26 12 14 13 0 12-14 13-27 12-37 13-45 12-48 13-46 12-41 13-32 12-19 13-6 12 9 13 20 12 29 13 32 12 30 13 23 12 10 13-3 12-17 13-27 12-31 13-27 12-17 13-3 12 10 13 15 12 10 13-5 12-14 13-4 12-4 12-14 13-5 12 9 13 16 12 10 13-3 12-17 13-28 12-30 13-27 12-17 13-3 12 10 13 23 12 30 13 32 12 28 13 21 12 8 13-5 12-19 13-32 12-41 13-47 12-47 13-45 12-37 13-27 12-14 13 0 12 14 13 26 12 37 13 44 12 49 13 49 12 46 13 39 12 30 13 18 12 5 13-9 12-23 13-36 12-47 13-56 12-62 13-65 12-65 29 133-13 65-12 65-13 62-12 56-13 47-12 36-13 23-12 9-12-5-13-18-12-29-13-40-12-46-13-49-12-49-13-44-12-37-13-26-12-14-13 0-12 14-13 27-12 37-13 45-12 48-13 46-12 41-13 32-12 19-13 5-12-8-13-21-12-28-13-32-12-30-13-23-12-10-13 3-12 17-13 27-12 30-13 28-12 17-13 3-12-10-13-16-12-9-13 5-12 14-13 4-12 4-13 14-12 5-13-10-12-15-13-10-12 3-13 17-12 27-12 31-13 27-12 17-13 3-12-10-13-23-12-30-13-32-12-29-13-20-12-8-13 5-12 19-13 32-12 41-13 46-12 48-13 45-12 37-13 27-12 14-13 0-12-14-13-26-12-37-13-45-12-48-13-49-12-46-13-40-12-29-13-18-12-5-13 9-12 23-13 36-12 47-13 56-12 62-13 65-12 65z"/>
<path transform="translate(275 134)" d="M827 1409l12-64 13-65 12-62 13-56 12-47 13-36 12-23 13-9 12 4 13 18 12 30 13 40 12 45 13 50 12 48 12 45 13 37 12 26 13 14 12 0 13-14 12-27 13-37 12-45 13-48 12-46 13-42 12-31 13-19 12-6 13 9 12 20 13 29 12 32 13 30 12 22 13 11 12-3 13-17 12-27 13-31 12-27 13-17 12-3 13 10 12 15 13 10 12-5 13-14 12-4 13-4 12-14 13-5 12 9 13 16 12 9 13-2 12-17 13-28 12-31 13-26 12-17 13-4 12 11 12 23 13 30 12 32 13 28 12 21 13 8 12-5 13-19 12-32 13-41 12-47 13-47 12-45 13-37 12-27 13-14 12 0 13 13 12 27 13 37 12 44 13 49 12 49 13 46 12 39 13 30 12 18 13 5 12-9 13-23 12-36 13-47 12-56 13-62 12-65 13-65 29 112-13 65-12 65-13 62-12 56-13 47-12 36-13 23-12 9-13-5-12-18-13-30-12-39-13-46-12-49-13-49-12-44-13-37-12-26-13-14-12 0-13 14-12 27-13 37-12 45-13 47-12 47-13 41-12 32-13 19-12 5-13-8-12-21-13-28-12-32-13-30-12-23-13-10-12 3-13 17-12 27-13 30-12 28-13 17-12 2-12-9-13-16-12-9-13 5-12 14-13 4-12 4-13 14-12 5-13-10-12-15-13-10-12 3-13 17-12 27-13 31-12 27-13 17-12 3-13-11-12-22-13-30-12-32-13-29-12-20-13-9-12 6-13 19-12 32-13 41-12 46-13 48-12 45-13 37-12 27-13 14-12 0-13-14-12-26-13-37-12-45-13-48-12-50-13-45-12-40-13-30-12-18-13-4-12 9-12 23-13 36-12 47-13 56-12 62-13 65-12 64z"/>
<path transform="translate(284 139)" d="M827 1450l13-65 12-65 13-62 12-55 13-47 12-36 13-23 12-10 13 5 12 18 13 30 12 39 13 46 12 49 13 49 12 44 13 37 12 27 13 14 12-1 13-14 12-26 13-38 12-44 13-48 12-47 13-41 12-31 12-20 13-5 12 9 13 20 12 29 13 32 12 30 13 22 12 11 13-4 12-16 13-27 12-31 13-27 12-17 13-3 12 10 13 15 12 9 13-4 12-15 13-4 12-3 13-15 12-4 13 9 12 15 13 10 12-3 13-17 12-27 13-31 12-27 13-16 12-4 13 11 12 22 13 30 12 32 13 29 12 20 13 9 12-5 13-20 12-31 13-41 12-47 13-48 12-44 12-38 13-26 12-14 13-1 12 14 13 27 12 37 13 44 12 49 13 49 12 46 13 39 12 30 13 18 12 5 13-10 12-23 13-36 12-47 13-55 12-62 13-65 12-65 29 81-12 65-13 65-12 62-13 56-12 47-13 36-12 23-13 9-12-5-13-18-12-29-13-40-12-46-13-49-12-48-13-45-12-37-13-26-12-14-13 0-12 14-13 27-12 37-13 45-12 48-13 46-12 41-13 32-12 19-13 5-12-8-12-21-13-28-12-32-13-30-12-23-13-10-12 3-13 17-12 27-13 30-12 28-13 17-12 3-13-10-12-16-13-9-12 5-13 14-12 4-13 4-12 14-13 5-12-10-13-15-12-10-13 3-12 17-13 27-12 31-13 27-12 17-13 3-12-10-13-23-12-30-13-32-12-29-13-20-12-8-13 5-12 19-13 32-12 41-13 46-12 48-13 45-12 37-13 27-12 14-12 0-13-14-12-26-13-37-12-45-13-48-12-49-13-46-12-40-13-29-12-18-13-5-12 9-13 23-12 36-13 47-12 56-13 62-12 65-13 65z"/>
<path transform="translate(294 143)" d="M827 1485l12-65 13-65 12-62 13-56 12-47 13-36 12-23 13-9 12 5 13 18 12 29 13 40 12 46 13 49 12 48 13 45 12 37 13 26 12 14 13 0 12-14 13-27 12-37 13-45 12-48 13-46 12-41 13-32 12-19 13-5 12 8 13 20 12 29 13 32 12 30 13 23 12 10 13-3 12-17 13-27 12-31 13-27 12-17 12-3 13 10 12 15 13 10 12-5 13-14 12-4 13-4 12-14 13-5 12 9 13 16 12 10 13-3 12-17 13-28 12-30 13-27 12-17 13-3 12 10 13 23 12 30 13 32 12 28 13 21 12 8 13-5 12-19 13-32 12-41 13-46 12-48 13-45 12-37 13-27 12-14 13 0 12 14 13 26 12 37 13 44 12 49 13 49 12 46 13 40 12 29 13 18 12 5 12-9 13-23 12-36 13-47 12-56 13-62 12-65 13-65 29 45-13 64-12 65-13 62-12 56-13 47-12 36-13 23-12 9-13-4-12-18-13-30-12-40-13-45-12-50-13-48-12-45-12-37-13-26-12-14-13 0-12 14-13 27-12 37-13 45-12 48-13 46-12 41-13 32-12 19-13 6-12-9-13-20-12-29-13-32-12-30-13-22-12-11-13 3-12 17-13 27-12 31-13 27-12 17-13 3-12-10-13-15-12-10-13 5-12 14-13 4-12 4-13 14-12 5-13-9-12-16-13-9-12 2-13 17-12 28-13 30-12 27-13 17-12 3-13-10-12-23-13-30-12-32-12-28-13-21-12-8-13 5-12 19-13 32-12 41-13 47-12 47-13 45-12 37-13 27-12 14-13 0-12-14-13-26-12-37-13-44-12-49-13-49-12-46-13-39-12-30-13-18-12-5-13 9-12 23-13 36-12 47-13 56-12 62-13 65-12 65z"/>
<path transform="translate(304 148)" d="M827 1507l12-64 13-65 12-62 13-56 12-47 13-36 12-23 12-9 13 4 12 18 13 30 12 40 13 45 12 50 13 48 12 45 13 37 12 26 13 14 12 0 13-14 12-27 13-37 12-45 13-48 12-46 13-41 12-32 13-19 12-6 13 9 12 20 13 29 12 32 13 30 12 22 13 11 12-3 13-17 12-27 13-31 12-27 13-17 12-3 13 10 12 15 13 10 12-5 13-14 12-4 13-4 12-14 13-5 12 9 13 16 12 9 12-2 13-17 12-28 13-30 12-27 13-17 12-3 13 10 12 23 13 30 12 32 13 28 12 21 13 8 12-5 13-19 12-32 13-41 12-47 13-47 12-45 13-37 12-27 13-14 12 0 13 14 12 26 13 37 12 44 13 49 12 49 13 46 12 39 13 30 12 18 13 5 12-9 13-23 12-36 13-47 12-56 13-62 12-65 13-65 28 4-12 65-12 65-13 62-12 55-13 47-12 36-13 23-12 10-13-5-12-18-13-30-12-39-13-46-12-49-13-49-12-44-13-37-12-27-13-14-12 1-13 14-12 26-13 38-12 44-13 48-12 47-13 41-12 31-13 20-12 5-13-9-12-20-13-29-12-32-13-30-12-22-13-11-12 4-13 16-12 27-13 31-12 27-13 17-12 3-13-10-12-15-13-9-12 4-13 15-12 4-13 3-12 15-12 4-13-9-12-15-13-10-12 3-13 17-12 27-13 31-12 27-13 16-12 4-13-11-12-22-13-30-12-32-13-29-12-20-13-9-12 5-13 20-12 31-13 41-12 47-13 48-12 44-13 38-12 26-13 14-12 1-13-14-12-27-13-37-12-44-13-49-12-49-13-46-12-39-13-30-12-18-13-5-12 10-13 23-12 36-13 47-12 55-13 62-12 65-13 65z"/>
<path transform="translate(313 153)" d="M827 1518l13-65 12-65 13-62 12-56 13-47 12-36 13-23 12-9 13 5 12 18 13 29 12 40 13 46 12 49 13 48 12 45 13 37 12 26 13 14 12 0 12-14 13-27 12-37 13-45 12-48 13-46 12-41 13-32 12-19 13-5 12 8 13 20 12 29 13 32 12 30 13 23 12 10 13-3 12-17 13-27 12-31 13-27 12-17 13-3 12 10 13 15 12 10 13-5 12-14 13-4 12-4 13-14 12-5 13 9 12 16 13 10 12-3 13-17 12-28 13-30 12-27 13-17 12-3 13 10 12 23 13 30 12 32 13 28 12 21 13 8 12-5 12-19 13-32 12-41 13-46 12-48 13-45 12-37 13-27 12-14 13 0 12 14 13 26 12 37 13 45 12 48 13 49 12 46 13 40 12 29 13 18 12 5 13-9 12-23 13-36 12-47 13-56 12-62 13-65 12-65 29-36-12 64-13 65-12 62-13 56-12 47-13 36-12 23-13 9-12-4-13-18-12-30-13-40-12-45-13-50-12-48-13-45-12-37-13-26-12-14-13 0-12 14-13 27-12 37-13 45-12 48-13 46-12 42-13 31-12 19-13 6-12-9-13-20-12-29-13-32-12-30-13-22-12-11-13 3-12 17-12 27-13 31-12 27-13 17-12 3-13-10-12-15-13-10-12 5-13 14-12 4-13 4-12 14-13 5-12-9-13-16-12-9-13 2-12 17-13 28-12 31-13 26-12 17-13 4-12-11-13-23-12-30-13-32-12-28-13-21-12-8-13 5-12 19-13 32-12 41-13 47-12 47-13 45-12 37-13 27-12 14-13 0-12-13-13-27-12-37-13-44-12-49-13-49-12-46-12-39-13-30-12-18-13-5-12 9-13 23-12 36-13 47-12 56-13 62-12 65-13 65z"/>
<path transform="translate(323 157)" d="M827 1515l12-65 13-65 12-62 13-56 12-47 13-36 12-23 13-9 12 5 13 18 12 30 13 39 12 46 13 49 12 49 13 44 12 37 13 26 12 14 13 0 12-14 13-27 12-37 13-45 12-47 13-47 12-41 13-32 12-19 13-5 12 8 13 21 12 28 13 32 12 30 12 23 13 10 12-3 13-17 12-27 13-30 12-28 13-17 12-2 13 9 12 16 13 9 12-5 13-14 12-4 13-4 12-14 13-5 12 10 13 15 12 10 13-3 12-17 13-27 12-31 13-27 12-17 13-3 12 11 13 22 12 30 13 32 12 29 13 20 12 9 13-6 12-19 13-32 12-41 13-46 12-48 13-45 12-37 13-27 12-14 13 0 12 14 13 26 12 37 12 45 13 48 12 50 13 45 12 40 13 30 12 18 13 4 12-9 13-23 12-36 13-47 12-56 13-62 12-65 13-64 29-74-13 65-12 65-13 61-12 56-13 47-12 36-13 23-12 9-13-4-12-18-13-30-12-39-13-46-12-49-13-49-12-45-13-37-12-26-13-14-12 0-13 14-12 27-13 38-12 44-12 48-13 47-12 41-13 31-12 19-13 6-12-9-13-20-12-29-13-32-12-30-13-22-12-11-13 3-12 17-13 27-12 31-13 27-12 17-13 3-12-10-13-15-12-9-13 4-12 15-13 3-12 4-13 14-12 5-13-9-12-15-13-10-12 3-13 17-12 27-13 31-12 27-13 16-12 4-13-11-12-22-13-30-12-32-13-29-12-21-13-8-12 5-13 19-12 32-13 41-12 47-12 48-13 44-12 37-13 27-12 14-13 0-12-13-13-27-12-37-13-44-12-49-13-49-12-46-13-39-12-30-13-18-12-5-13 10-12 23-13 35-12 47-13 56-12 62-13 65-12 65z"/>
<path transform="translate(333 162)" d="M826 1497l13-65 12-65 13-62 12-55 13-47 12-36 13-23 12-10 13 5 12 18 13 30 12 39 13 46 12 49 13 49 12 44 13 37 12 27 13 14 12-1 13-14 12-26 13-38 12-44 13-48 12-47 13-41 12-31 13-20 12-5 13 9 12 20 13 29 12 32 13 30 12 22 13 11 12-4 13-16 12-27 13-31 12-27 13-17 12-3 13 10 12 15 13 9 12-4 12-15 13-3 12-4 13-15 12-4 13 9 12 15 13 10 12-3 13-17 12-27 13-31 12-27 13-16 12-4 13 11 12 22 13 30 12 32 13 29 12 20 13 9 12-5 13-20 12-31 13-41 12-47 13-48 12-44 13-38 12-26 13-14 12-1 13 14 12 27 13 37 12 44 13 49 12 49 13 46 12 39 13 30 12 18 13 5 12-10 13-23 12-36 13-47 12-55 12-62 13-65 12-65 29-105-12 65-13 65-12 62-13 56-12 47-13 36-12 23-13 9-12-5-12-18-13-29-12-40-13-46-12-49-13-49-12-44-13-37-12-26-13-14-12 0-13 14-12 27-13 37-12 45-13 48-12 46-13 41-12 32-13 19-12 5-13-8-12-21-13-28-12-32-13-30-12-23-13-10-12 3-13 17-12 27-13 30-12 28-13 17-12 3-13-10-12-16-13-9-12 5-13 14-12 4-13 4-12 14-13 5-12-10-13-15-12-10-13 3-12 17-13 27-12 31-12 27-13 17-12 3-13-10-12-23-13-30-12-32-13-29-12-20-13-8-12 5-13 19-12 32-13 41-12 46-13 48-12 45-13 37-12 27-13 14-12 0-13-14-12-26-13-37-12-45-13-48-12-49-13-46-12-40-13-29-12-18-13-5-12 9-13 23-12 36-13 47-12 56-13 62-12 65-13 65z"/>
<path transform="translate(342 167)" d="M827 1467l13-65 12-65 13-62 12-56 13-47 12-36 13-23 12-9 13 5 12 18 13 30 12 39 12 46 13 49 12 49 13 44 12 37 13 27 12 13 13 0 12-14 13-27 12-37 13-45 12-47 13-47 12-41 13-32 12-19 13-5 12 8 13 21 12 28 13 32 12 30 13 23 12 11 13-4 12-17 13-26 12-31 13-28 12-17 13-2 12 9 13 16 12 9 13-5 12-14 13-4 12-4 13-14 12-5 13 10 12 15 13 10 12-3 13-17 12-27 13-31 12-27 12-17 13-3 12 11 13 22 12 30 13 32 12 29 13 20 12 9 13-6 12-19 13-31 12-42 13-46 12-48 13-45 12-37 13-27 12-14 13 0 12 14 13 26 12 37 13 45 12 48 13 50 12 45 13 40 12 30 13 18 12 4 13-9 12-23 13-36 12-47 13-56 12-62 13-65 12-64 29-127-12 65-13 65-12 61-13 56-12 47-13 36-12 23-13 9-12-4-13-18-12-30-13-39-12-46-13-49-12-49-13-45-12-37-13-26-12-14-13 0-12 14-13 27-12 38-13 44-12 48-13 47-12 41-13 31-12 19-13 6-12-9-13-20-12-29-13-32-12-30-13-22-12-11-13 3-12 17-13 27-12 31-13 27-12 17-13 3-12-10-13-15-12-9-12 4-13 15-12 3-13 4-12 14-13 5-12-9-13-15-12-10-13 3-12 17-13 27-12 31-13 27-12 16-13 4-12-11-13-22-12-30-13-32-12-29-13-21-12-8-13 5-12 19-13 32-12 41-13 47-12 48-13 44-12 37-13 27-12 14-13 0-12-13-13-27-12-37-13-44-12-49-13-49-12-46-13-39-12-30-13-18-12-5-13 10-12 23-13 35-12 47-12 56-13 62-12 65-13 65z"/>
<path transform="translate(352 172)" d="M827 1426l12-65 13-65 12-62 13-56 12-47 13-35 12-23 13-10 12 5 13 18 12 30 13 39 12 46 13 49 12 49 13 44 12 37 13 27 12 13 13 0 12-14 13-27 12-37 13-44 12-48 13-47 12-41 12-32 13-19 12-5 13 8 12 21 13 29 12 32 13 30 12 22 13 11 12-4 13-16 12-27 13-31 12-27 13-17 12-3 13 10 12 15 13 9 12-5 13-14 12-4 13-3 12-15 13-4 12 9 13 15 12 10 13-3 12-17 13-27 12-31 13-27 12-17 13-3 12 11 13 22 12 30 13 32 12 29 13 20 12 9 13-6 12-19 13-31 12-41 13-47 12-48 12-44 13-38 12-27 13-14 12 0 13 14 12 26 13 37 12 45 13 49 12 49 13 46 12 39 13 30 12 18 13 4 12-9 13-23 12-36 13-47 12-56 13-61 12-65 13-65 29-139-13 65-12 65-13 61-12 56-13 47-12 36-13 23-12 9-13-4-12-18-13-30-12-39-13-46-12-49-13-49-12-45-13-37-12-26-13-14-12 0-13 14-12 27-13 38-12 44-13 48-12 47-13 41-12 31-13 19-12 6-13-9-12-20-12-29-13-32-12-30-13-22-12-11-13 3-12 17-13 27-12 31-13 27-12 17-13 3-12-10-13-15-12-10-13 5-12 15-13 3-12 4-13 14-12 5-13-9-12-15-13-10-12 3-13 17-12 27-13 31-12 26-13 17-12 4-13-11-12-22-13-30-12-33-13-28-12-21-13-8-12 5-13 19-12 32-13 41-12 47-13 48-12 44-13 37-12 27-13 14-12 0-13-13-12-27-12-37-13-44-12-49-13-49-12-46-13-39-12-30-13-18-12-5-13 9-12 24-13 35-12 47-13 56-12 62-13 65-12 65z"/>
<path transform="translate(362 176)" d="M826 1379l13-65 12-65 13-62 12-56 13-47 12-36 13-23 12-9 13 5 12 18 13 29 12 40 13 46 12 49 13 48 12 45 13 37 12 26 13 14 12 0 13-14 12-27 13-37 12-45 13-48 12-46 13-41 12-32 13-19 12-5 13 8 12 20 13 29 12 32 13 30 12 23 13 10 12-3 13-17 12-27 12-31 13-27 12-17 13-3 12 10 13 15 12 10 13-5 12-14 13-4 12-4 13-14 12-5 13 9 12 16 13 10 12-3 13-17 12-28 13-30 12-27 13-17 12-3 13 10 12 23 13 30 12 32 13 28 12 21 13 8 12-5 13-19 12-32 13-41 12-46 13-48 12-45 13-37 12-27 13-14 12 0 13 14 12 26 13 37 12 44 13 49 12 49 13 46 12 40 12 29 13 18 12 5 13-9 12-23 13-36 12-47 13-56 12-62 13-65 12-65 29-140-12 65-13 65-12 62-13 55-12 47-13 36-12 23-13 10-12-5-13-18-12-30-13-39-12-46-13-49-12-49-13-44-12-37-12-27-13-14-12 1-13 14-12 26-13 38-12 44-13 48-12 47-13 41-12 31-13 20-12 5-13-9-12-20-13-29-12-32-13-30-12-22-13-11-12 4-13 16-12 27-13 31-12 27-13 17-12 3-13-10-12-15-13-9-12 4-13 15-12 4-13 3-12 15-13 4-12-9-13-15-12-10-13 3-12 17-13 27-12 31-13 27-12 16-13 4-12-11-13-22-12-30-13-32-12-29-12-20-13-9-12 5-13 20-12 31-13 41-12 47-13 48-12 44-13 38-12 26-13 14-12 1-13-14-12-27-13-37-12-44-13-49-12-49-13-46-12-39-13-30-12-18-13-5-12 10-13 23-12 36-13 47-12 55-13 62-12 65-13 65z"/>
<path transform="translate(371 181)" d="M827 1326l13-65 12-65 13-62 12-56 12-47 13-35 12-23 13-10 12 5 13 18 12 30 13 39 12 46 13 49 12 49 13 44 12 37 13 27 12 13 13 0 12-14 13-27 12-37 13-44 12-48 13-47 12-41 13-32 12-19 13-5 12 8 13 21 12 29 13 32 12 30 13 22 12 11 13-4 12-16 13-27 12-31 13-27 12-17 13-3 12 10 13 15 12 9 13-5 12-14 13-4 12-3 13-15 12-4 13 9 12 15 12 10 13-3 12-17 13-27 12-31 13-27 12-17 13-3 12 11 13 22 12 30 13 32 12 29 13 20 12 9 13-6 12-19 13-31 12-41 13-47 12-48 13-44 12-38 13-27 12-14 13 0 12 14 13 26 12 37 13 45 12 49 13 49 12 46 13 39 12 30 13 18 12 4 13-9 12-23 13-36 12-47 13-56 12-61 13-65 12-65 29-131-13 65-12 64-13 62-12 56-12 47-13 36-12 23-13 9-12-4-13-18-12-30-13-39-12-46-13-49-12-49-13-45-12-37-13-26-12-14-13 0-12 14-13 27-12 38-13 44-12 48-13 47-12 41-13 31-12 19-13 6-12-9-13-20-12-29-13-32-12-30-13-22-12-11-13 3-12 17-13 27-12 31-13 27-12 17-13 3-12-10-13-15-12-10-13 5-12 15-13 3-12 4-13 14-12 5-12-9-13-15-12-10-13 3-12 16-13 28-12 31-13 26-12 17-13 4-12-11-13-23-12-29-13-33-12-28-13-21-12-8-13 5-12 19-13 32-12 41-13 47-12 47-13 45-12 37-13 27-12 14-13 0-12-13-13-27-12-37-13-44-12-49-13-49-12-46-13-39-12-30-13-18-12-5-13 9-12 24-13 35-12 47-13 56-12 62-13 65-12 65z"/>
<path transform="translate(381 186)" d="M827 1273l12-65 13-65 12-62 13-56 12-47 13-35 12-24 13-9 12 5 13 18 12 30 13 39 12 46 13 49 12 49 13 44 12 37 13 27 12 13 12 0 13-14 12-27 13-37 12-44 13-48 12-47 13-41 12-32 13-19 12-5 13 8 12 21 13 28 12 33 13 30 12 22 13 11 12-4 13-17 12-26 13-31 12-27 13-17 12-3 13 10 12 15 13 9 12-5 13-14 12-4 13-3 12-15 13-5 12 10 13 15 12 10 13-3 12-17 13-27 12-31 13-27 12-17 13-3 12 11 13 22 12 30 13 32 12 29 12 20 13 9 12-6 13-19 12-31 13-41 12-47 13-48 12-44 13-38 12-27 13-14 12 0 13 14 12 26 13 37 12 45 13 49 12 49 13 46 12 39 13 30 12 18 13 4 12-9 13-23 12-36 13-47 12-56 13-61 12-65 13-65 29-112-13 65-12 65-13 62-12 56-13 47-12 35-13 23-12 10-13-5-12-18-13-30-12-39-13-46-12-49-13-49-12-44-13-37-12-27-13-13-12 0-13 14-12 26-13 38-12 44-13 48-12 47-13 41-12 31-13 20-12 5-13-9-12-20-13-29-12-32-13-30-12-22-13-11-12 4-13 16-12 27-12 31-13 27-12 17-13 3-12-10-13-15-12-9-13 5-12 14-13 4-12 3-13 15-12 4-13-9-12-15-13-10-12 3-13 17-12 27-13 31-12 27-13 17-12 3-13-11-12-22-13-30-12-32-13-29-12-20-13-9-12 5-13 20-12 31-13 41-12 47-13 48-12 44-13 38-12 27-13 14-12 0-13-14-12-27-13-36-12-45-13-49-12-49-13-46-12-39-12-30-13-18-12-5-13 10-12 23-13 36-12 47-13 56-12 61-13 65-12 65z"/>
<path transform="translate(390 190)" d="M827 1224l13-65 12-65 13-62 12-55 13-47 12-36 13-23 12-10 13 5 12 18 13 30 12 39 13 46 12 49 13 49 12 44 13 37 12 27 13 14 12-1 13-14 12-26 13-38 12-44 13-48 12-47 13-41 12-31 13-20 12-5 13 9 12 20 12 29 13 32 12 30 13 22 12 11 13-4 12-16 13-27 12-31 13-27 12-17 13-3 12 10 13 15 12 9 13-4 12-15 13-3 12-4 13-15 12-4 13 9 12 15 13 10 12-3 13-17 12-27 13-31 12-27 13-16 12-4 13 11 12 22 13 30 12 32 13 29 12 20 13 9 12-5 13-20 12-31 13-41 12-47 13-48 12-44 13-38 12-26 13-14 12-1 13 14 12 27 12 37 13 44 12 49 13 49 12 46 13 39 12 30 13 18 12 5 13-10 12-23 13-36 12-47 13-55 12-62 13-65 12-65 29-84-12 65-13 65-12 62-13 56-12 47-13 35-12 24-13 9-12-5-13-18-12-30-13-39-12-46-13-49-12-49-13-44-12-37-13-27-12-13-13 0-12 14-13 27-12 37-13 45-12 47-13 47-12 41-12 32-13 19-12 5-13-8-12-21-13-28-12-33-13-30-12-22-13-11-12 4-13 17-12 26-13 31-12 27-13 17-12 3-13-10-12-15-13-9-12 5-13 14-12 4-13 3-12 15-13 5-12-10-13-15-12-10-13 3-12 17-13 27-12 31-13 27-12 17-13 3-12-11-13-22-12-30-13-32-12-29-13-20-12-9-13 6-12 19-13 31-12 41-13 47-12 48-12 44-13 38-12 27-13 14-12 0-13-14-12-26-13-37-12-45-13-49-12-49-13-46-12-39-13-30-12-18-13-4-12 9-13 23-12 36-13 47-12 56-13 62-12 64-13 65z"/>
<path transform="translate(400 195)" d="M827 1181l12-65 13-65 12-62 13-56 12-47 13-35 12-24 13-9 12 5 13 18 12 30 13 39 12 46 13 49 12 49 13 44 12 37 13 27 12 13 13 0 12-14 13-27 12-37 13-45 12-47 13-47 12-41 13-32 12-19 13-5 12 8 13 21 12 28 13 33 12 29 13 23 12 11 13-4 12-17 13-26 12-31 13-28 12-16 13-3 12 10 13 15 12 9 12-5 13-14 12-4 13-3 12-15 13-5 12 10 13 15 12 10 13-3 12-17 13-27 12-31 13-27 12-17 13-3 12 11 13 22 12 30 13 32 12 29 13 20 12 9 13-6 12-19 13-31 12-41 13-47 12-48 13-44 12-38 13-27 12-14 13 0 12 14 13 26 12 37 13 45 12 49 13 49 12 46 13 39 12 30 13 18 12 4 13-9 12-23 13-36 12-47 12-56 13-62 12-64 13-65 29-49-13 64-12 65-13 62-12 56-13 47-12 36-13 23-12 9-13-5-12-18-13-29-12-40-12-46-13-49-12-48-13-45-12-37-13-26-12-14-13 0-12 14-13 27-12 37-13 45-12 48-13 46-12 41-13 32-12 19-13 5-12-8-13-20-12-29-13-32-12-30-13-23-12-10-13 3-12 17-13 27-12 31-13 27-12 17-13 3-12-10-13-15-12-10-13 5-12 14-13 4-12 4-13 14-12 5-13-9-12-16-13-10-12 3-13 17-12 28-13 30-12 27-13 17-12 3-12-10-13-23-12-30-13-32-12-28-13-21-12-8-13 5-12 19-13 32-12 41-13 46-12 48-13 45-12 37-13 27-12 14-13 0-12-14-13-26-12-37-13-44-12-49-13-49-12-46-13-40-12-29-13-18-12-5-13 9-12 23-13 36-12 47-13 56-12 62-13 65-12 65z"/>
<path transform="translate(410 200)" d="M827 1147l12-65 13-65 12-61 13-56 12-47 13-36 12-23 13-10 12 5 13 18 12 30 12 39 13 46 12 49 13 49 12 45 13 36 12 27 13 14 12 0 13-14 12-27 13-38 12-44 13-48 12-47 13-41 12-31 13-20 12-5 13 9 12 20 13 29 12 32 13 30 12 22 13 11 12-3 13-17 12-27 13-31 12-27 13-17 12-3 13 10 12 15 13 9 12-4 13-15 12-3 13-4 12-14 13-5 12 9 13 15 12 10 13-3 12-17 13-27 12-31 12-27 13-16 12-4 13 11 12 22 13 30 12 32 13 29 12 20 13 9 12-5 13-20 12-31 13-41 12-47 13-48 12-44 13-38 12-26 13-14 12 0 13 13 12 27 13 37 12 44 13 49 12 49 13 46 12 39 13 30 12 18 13 5 12-10 13-23 12-35 13-47 12-56 13-62 12-65 13-65 29-10-13 65-12 65-13 62-12 55-13 47-12 36-13 23-12 10-13-5-12-18-13-30-12-39-13-46-12-49-13-49-12-45-13-36-12-27-13-14-12 1-13 14-12 26-13 38-12 44-13 48-12 47-13 41-12 31-13 20-12 5-13-9-12-20-13-29-12-32-13-30-12-22-13-11-12 3-13 17-12 27-13 31-12 27-13 17-12 3-13-10-12-15-13-9-12 4-12 15-13 3-12 4-13 14-12 5-13-9-12-15-13-10-12 3-13 17-12 27-13 31-12 27-13 16-12 4-13-11-12-22-13-30-12-32-13-29-12-20-13-9-12 5-13 20-12 31-13 41-12 47-13 48-12 44-13 38-12 26-13 14-12 1-13-14-12-27-13-37-12-44-13-49-12-49-13-46-12-39-13-30-12-18-13-5-12 10-13 23-12 36-13 47-12 55-12 62-13 65-12 65z"/>
<path transform="translate(419 204)" d="M827 1126l13-65 12-64 13-62 12-56 13-47 12-36 13-23 12-9 13 4 12 18 13 30 12 39 13 46 12 49 13 49 12 45 13 37 12 26 13 14 12 0 13-14 12-27 13-38 12-44 12-48 13-47 12-41 13-31 12-19 13-6 12 9 13 20 12 29 13 32 12 30 13 22 12 11 13-3 12-17 13-27 12-31 13-27 12-17 13-3 12 10 13 15 12 10 13-5 12-15 13-3 12-4 13-14 12-5 13 9 12 15 13 10 12-3 13-17 12-27 13-31 12-26 13-17 12-4 13 11 12 22 13 30 12 33 13 28 12 21 13 8 12-5 13-19 12-32 13-41 12-47 12-47 13-45 12-37 13-27 12-14 13 0 12 13 13 27 12 37 13 44 12 49 13 49 12 46 13 39 12 30 13 18 12 5 13-9 12-24 13-35 12-47 13-56 12-62 13-65 12-65 29 31-12 65-13 65-12 62-13 56-12 47-13 35-12 23-13 10-12-5-13-18-12-30-13-39-12-46-13-49-12-49-13-44-12-37-13-27-12-13-13 0-12 14-13 26-12 38-13 44-12 48-13 47-12 41-13 32-12 19-13 5-12-8-13-21-12-29-13-32-12-30-12-22-13-11-12 4-13 16-12 27-13 31-12 27-13 17-12 3-13-10-12-15-13-9-12 5-13 14-12 4-13 3-12 15-13 4-12-9-13-15-12-10-13 3-12 17-13 27-12 31-13 27-12 17-13 3-12-11-13-22-12-30-13-32-12-29-13-20-12-9-13 6-12 19-13 31-12 41-13 47-12 48-13 44-12 38-13 27-12 14-13 0-12-14-13-26-12-37-12-45-13-49-12-49-13-46-12-39-13-30-12-18-13-4-12 9-13 23-12 36-13 47-12 56-13 61-12 65-13 65z"/>
<path transform="translate(429 209)" d="M827 1118l12-65 13-65 12-62 13-56 12-47 13-36 12-23 13-9 12 5 13 18 12 29 13 40 12 46 13 49 12 49 13 44 12 37 13 26 12 14 13 0 12-14 13-27 12-37 13-45 12-48 13-46 12-41 13-32 12-19 13-5 12 8 13 21 12 28 13 32 12 30 13 23 12 10 13-3 12-17 12-27 13-30 12-28 13-17 12-3 13 10 12 16 13 9 12-5 13-14 12-4 13-4 12-14 13-5 12 10 13 15 12 10 13-3 12-17 13-27 12-31 13-27 12-17 13-3 12 10 13 23 12 30 13 32 12 29 13 20 12 8 13-5 12-19 13-32 12-41 13-46 12-48 13-45 12-37 13-27 12-14 13 0 12 14 13 26 12 37 13 45 12 48 13 49 12 46 12 40 13 29 12 18 13 5 12-9 13-23 12-36 13-47 12-56 13-62 12-65 13-64 29 71-13 65-12 65-13 62-12 55-13 48-12 35-13 23-12 10-13-5-12-18-13-30-12-39-13-46-12-49-13-49-12-44-13-37-12-27-13-13-12 0-12 14-13 26-12 38-13 44-12 48-13 47-12 41-13 31-12 20-13 5-12-9-13-20-12-29-13-32-12-30-13-22-12-11-13 4-12 16-13 27-12 31-13 27-12 17-13 3-12-10-13-15-12-9-13 5-12 14-13 4-12 3-13 15-12 4-13-9-12-15-13-10-12 3-13 17-12 27-13 31-12 27-13 17-12 3-13-11-12-22-13-30-12-32-13-29-12-20-13-9-12 5-12 20-13 31-12 41-13 47-12 48-13 44-12 38-13 27-12 14-13 0-12-14-13-27-12-36-13-45-12-49-13-49-12-46-13-39-12-30-13-18-12-5-13 10-12 23-13 36-12 47-13 56-12 61-13 65-12 65z"/>
<path transform="translate(439 214)" d="M827 1123l12-65 13-65 12-62 12-55 13-47 12-36 13-23 12-10 13 5 12 18 13 30 12 39 13 46 12 49 13 49 12 44 13 37 12 27 13 14 12-1 13-14 12-26 13-38 12-44 13-48 12-47 13-41 12-31 13-20 12-5 13 9 12 20 13 29 12 32 13 30 12 22 13 11 12-4 13-16 12-27 13-31 12-27 13-17 12-3 13 10 12 15 13 9 12-5 13-14 12-4 13-3 12-15 12-4 13 9 12 15 13 10 12-3 13-17 12-27 13-31 12-27 13-17 12-3 13 11 12 22 13 30 12 32 13 29 12 20 13 9 12-5 13-20 12-31 13-41 12-47 13-48 12-44 13-38 12-26 13-14 12-1 13 14 12 27 13 36 12 45 13 49 12 49 13 46 12 39 13 30 12 18 13 5 12-10 13-23 12-36 13-47 12-55 13-62 12-65 13-65 28 109-12 65-13 65-12 62-13 56-12 47-12 35-13 24-12 9-13-5-12-18-13-30-12-39-13-46-12-49-13-49-12-44-13-37-12-27-13-13-12 0-13 14-12 27-13 37-12 44-13 48-12 47-13 41-12 32-13 19-12 5-13-8-12-21-13-28-12-33-13-30-12-22-13-11-12 4-13 17-12 26-13 31-12 27-13 17-12 3-13-10-12-15-13-9-12 5-13 14-12 4-13 3-12 15-13 5-12-10-13-15-12-10-12 3-13 17-12 27-13 31-12 27-13 17-12 3-13-11-12-22-13-30-12-32-13-29-12-20-13-9-12 6-13 19-12 31-13 41-12 47-13 48-12 44-13 38-12 27-13 14-12 0-13-14-12-26-13-37-12-45-13-49-12-49-13-46-12-39-13-30-12-18-13-4-12 9-13 23-12 36-13 47-12 56-13 62-12 64-13 65z"/>
<path transform="translate(448 219)" d="M827 1142l13-65 12-65 13-61 12-56 13-47 12-36 13-23 12-9 13 4 12 18 13 30 12 39 13 46 12 49 13 49 12 45 12 37 13 26 12 14 13 0 12-14 13-27 12-38 13-44 12-48 13-47 12-41 13-31 12-19 13-6 12 9 13 20 12 29 13 32 12 30 13 22 12 11 13-3 12-17 13-27 12-31 13-27 12-17 13-3 12 10 13 15 12 9 13-4 12-15 13-3 12-4 13-14 12-5 13 9 12 15 13 10 12-3 13-17 12-27 13-31 12-27 13-16 12-4 13 11 12 22 12 30 13 32 12 29 13 21 12 8 13-5 12-19 13-32 12-41 13-47 12-48 13-44 12-38 13-26 12-14 13 0 12 13 13 27 12 37 13 44 12 49 13 49 12 46 13 39 12 30 13 18 12 5 13-10 12-23 13-35 12-47 13-56 12-62 13-65 12-65 29 142-12 65-13 65-12 62-13 56-12 47-13 35-12 23-13 10-12-5-13-18-12-30-13-39-12-46-13-49-12-49-13-44-12-37-13-27-12-13-13 0-12 14-13 27-12 37-13 44-12 48-13 47-12 41-13 32-12 19-13 5-12-8-13-21-12-29-13-32-12-30-13-22-12-11-13 4-12 16-13 27-12 31-13 27-12 17-12 3-13-10-12-15-13-9-12 5-13 14-12 4-13 3-12 15-13 4-12-9-13-15-12-10-13 3-12 17-13 27-12 31-13 27-12 17-13 3-12-11-13-22-12-30-13-32-12-29-13-20-12-9-13 6-12 19-13 31-12 41-13 47-12 48-13 44-12 38-13 27-12 14-13 0-12-14-13-26-12-37-13-45-12-49-13-49-12-46-13-39-12-30-13-18-12-4-12 9-13 23-12 36-13 47-12 56-13 61-12 65-13 65z"/>
<path transform="translate(458 223)" d="M827 1175l12-65 13-65 12-61 13-56 12-47 13-36 12-23 13-10 12 5 13 18 12 30 13 39 12 46 13 49 12 49 13 45 12 36 13 27 12 14 13 0 12-14 13-27 12-38 13-44 12-48 13-47 12-41 13-31 12-20 13-5 12 9 12 20 13 29 12 32 13 30 12 22 13 11 12-3 13-17 12-27 13-31 12-27 13-17 12-3 13 10 12 15 13 9 12-4 13-15 12-3 13-4 12-14 13-5 12 9 13 15 12 10 13-3 12-17 13-27 12-31 13-27 12-16 13-4 12 11 13 22 12 30 13 32 12 29 13 20 12 9 13-5 12-20 13-31 12-41 13-47 12-48 13-44 12-38 13-26 12-14 12 0 13 13 12 27 13 37 12 44 13 49 12 49 13 46 12 39 13 30 12 18 13 5 12-10 13-23 12-35 13-48 12-55 13-62 12-65 13-65 29 168-13 65-12 65-13 62-12 56-13 47-12 35-13 23-12 10-13-5-12-18-13-30-12-39-13-46-12-49-13-49-12-44-13-37-12-27-13-13-12 0-13 14-12 27-13 37-12 44-13 48-12 47-13 41-12 32-12 19-13 5-12-8-13-21-12-29-13-32-12-30-13-22-12-11-13 4-12 16-13 27-12 31-13 27-12 17-13 3-12-10-13-15-12-9-13 5-12 14-13 4-12 3-13 15-12 4-13-9-12-15-13-10-12 3-13 17-12 27-13 31-12 27-13 17-12 3-13-11-12-22-13-30-12-32-13-29-12-20-13-9-12 6-13 19-12 31-13 41-12 47-13 48-12 44-12 38-13 27-12 14-13 0-12-14-13-26-12-37-13-45-12-49-13-49-12-46-13-39-12-30-13-18-12-4-13 9-12 23-13 36-12 47-13 56-12 61-13 65-12 65z"/>
<path transform="translate(468 228)" d="M826 1218l13-65 12-64 13-62 12-56 13-47 12-36 13-23 12-9 13 4 12 18 13 30 12 39 13 46 12 49 13 49 12 45 13 37 12 26 13 14 12 0 13-14 12-27 13-38 12-44 13-48 12-47 13-41 12-31 13-19 12-6 13 9 12 20 13 29 12 32 13 30 12 22 13 11 12-3 13-17 12-27 13-31 12-27 13-17 12-3 12 10 13 15 12 10 13-5 12-15 13-3 12-4 13-14 12-5 13 9 12 15 13 10 12-3 13-17 12-27 13-31 12-26 13-17 12-4 13 11 12 22 13 30 12 33 13 28 12 21 13 8 12-5 13-19 12-32 13-41 12-47 13-48 12-44 13-37 12-27 13-14 12 0 13 13 12 27 13 37 12 44 13 49 12 49 13 46 12 39 13 30 12 18 13 5 12-9 12-24 13-35 12-47 13-56 12-62 13-65 12-65 29 186-12 65-13 65-12 62-13 56-12 47-13 35-12 24-13 9-12-5-13-18-12-30-13-39-12-46-12-49-13-49-12-44-13-37-12-27-13-13-12 0-13 14-12 27-13 37-12 44-13 48-12 47-13 41-12 32-13 19-12 5-13-8-12-21-13-28-12-33-13-30-12-22-13-11-12 4-13 17-12 26-13 31-12 27-13 17-12 3-13-10-12-15-13-9-12 5-13 14-12 4-13 3-12 15-13 5-12-10-13-15-12-10-13 3-12 17-13 27-12 31-13 27-12 17-13 3-12-11-12-22-13-30-12-32-13-29-12-20-13-9-12 6-13 19-12 31-13 41-12 47-13 48-12 44-13 38-12 27-13 14-12 0-13-14-12-26-13-37-12-45-13-49-12-49-13-46-12-39-13-30-12-18-13-4-12 9-13 23-12 36-13 47-12 56-13 62-12 64-13 65z"/>
<path transform="translate(477 233)" d="M827 1270l13-65 12-65 13-61 12-56 13-47 12-36 13-23 12-9 12 4 13 18 12 30 13 39 12 46 13 49 12 49 13 45 12 37 13 26 12 14 13 0 12-14 13-27 12-38 13-44 12-48 13-47 12-41 13-31 12-19 13-6 12 9 13 20 12 29 13 32 12 30 13 22 12 11 13-3 12-17 13-27 12-31 13-27 12-17 13-3 12 10 13 15 12 9 13-4 12-15 13-3 12-4 13-14 12-5 13 9 12 15 13 10 12-3 13-17 12-27 12-31 13-27 12-16 13-4 12 11 13 22 12 30 13 32 12 29 13 21 12 8 13-5 12-19 13-32 12-41 13-47 12-48 13-44 12-37 13-27 12-14 13 0 12 13 13 27 12 37 13 44 12 49 13 49 12 46 13 39 12 30 13 18 12 5 13-10 12-23 13-35 12-47 13-56 12-62 13-65 12-65 29 195-12 65-13 65-12 62-13 55-12 47-13 36-12 23-13 10-12-5-13-18-12-30-13-39-12-46-13-49-12-49-13-44-12-37-13-27-12-13-13 0-12 14-13 26-12 38-13 44-12 48-13 47-12 41-13 31-12 20-13 5-12-9-13-20-12-29-13-32-12-30-13-22-12-11-13 4-12 16-13 27-12 31-13 27-12 17-13 3-12-10-13-15-12-9-13 5-12 14-13 4-12 3-12 15-13 4-12-9-13-15-12-10-13 3-12 17-13 27-12 31-13 27-12 17-13 3-12-11-13-22-12-30-13-32-12-29-13-20-12-9-13 5-12 20-13 31-12 41-13 47-12 48-13 44-12 38-13 27-12 14-13 0-12-14-13-27-12-36-13-45-12-49-13-49-12-46-13-39-12-30-13-18-12-5-13 10-12 23-13 36-12 47-13 56-12 61-13 65-12 65z"/></g></g>

<g><text transform="translate(147.6 18.1)" font-family="Liberation Sans, Arial, sans-serif" font-size="6.25" font-weight="bold" text-anchor="middle" fill="#111">Parameter space</text><text transform="translate(32.0 75.3)" font-family="Liberation Sans, Arial, sans-serif" font-size="5.90" font-weight="normal" text-anchor="end" fill="#222">500</text><path d="M33.6 73.0L37.2 74.6" stroke="#8a8a8a" stroke-width="0.6"/><text transform="translate(32.0 103.1)" font-family="Liberation Sans, Arial, sans-serif" font-size="5.90" font-weight="normal" text-anchor="end" fill="#222">0</text><path d="M33.6 100.8L37.2 102.4" stroke="#8a8a8a" stroke-width="0.6"/><text transform="translate(32.0 131.0)" font-family="Liberation Sans, Arial, sans-serif" font-size="5.90" font-weight="normal" text-anchor="end" fill="#222">-500</text><path d="M33.6 128.7L37.2 130.3" stroke="#8a8a8a" stroke-width="0.6"/><text transform="translate(32.0 158.6)" font-family="Liberation Sans, Arial, sans-serif" font-size="5.90" font-weight="normal" text-anchor="end" fill="#222">-1000</text><path d="M33.6 156.3L37.2 157.9" stroke="#8a8a8a" stroke-width="0.6"/><text transform="translate(32.0 166.0)" font-family="Liberation Sans, Arial, sans-serif" font-size="5.90" font-weight="normal" text-anchor="end" fill="#222">500</text><text transform="translate(77.5 189.3)" font-family="Liberation Sans, Arial, sans-serif" font-size="5.90" font-weight="normal" text-anchor="middle" fill="#222">0</text><text transform="translate(122.0 213.0)" font-family="Liberation Sans, Arial, sans-serif" font-size="5.90" font-weight="normal" text-anchor="middle" fill="#222">-500</text><text transform="translate(144.0 213.5)" font-family="Liberation Sans, Arial, sans-serif" font-size="5.90" font-weight="normal" text-anchor="middle" fill="#222">-500</text><text transform="translate(202.0 195.3)" font-family="Liberation Sans, Arial, sans-serif" font-size="5.90" font-weight="normal" text-anchor="middle" fill="#222">0</text><text transform="translate(268.2 177.7)" font-family="Liberation Sans, Arial, sans-serif" font-size="5.90" font-weight="normal" text-anchor="middle" fill="#222">500</text><text x="80.4" y="210.4" font-family="Liberation Sans, Arial, sans-serif" font-size="6.5" fill="#222">x<tspan dy="2.2" font-size="5">2</tspan></text><text x="186.3" y="213.6" font-family="Liberation Sans, Arial, sans-serif" font-size="6.5" fill="#222">x<tspan dy="2.2" font-size="5">1</tspan></text><text transform="translate(9.6 106.7) rotate(-90)" text-anchor="middle" font-family="Liberation Sans, Arial, sans-serif" font-size="6.3" fill="#222">F8( x<tspan dy="2" font-size="4.8">1</tspan><tspan dy="-2"> , x</tspan><tspan dy="2" font-size="4.8">2</tspan><tspan dy="-2"> )</tspan></text><path d="M133.3 205.4l-3.0 0.9" stroke="#777" stroke-width="0.6"/><path d="M85.1 181.9l-3.2 0.9" stroke="#777" stroke-width="0.6"/><path d="M36.9 158.4l-3.0 -1.0" stroke="#777" stroke-width="0.6"/><path d="M133.3 205.4l2.2 1.9" stroke="#777" stroke-width="0.6"/><path d="M195.8 187.4l2.2 1.9" stroke="#777" stroke-width="0.6"/><path d="M258.2 169.4l2.6 1.3" stroke="#777" stroke-width="0.6"/></g>
<g><path d="M318.8 29.7H542.8M318.8 40.7H542.8M318.8 50.3H542.8M318.8 59.0H542.8M318.8 116.0H542.8M318.8 149.3H542.8M318.8 173.0H542.8M318.8 191.3H542.8M341.0 16.4V207.0M363.4 16.4V207.0M385.8 16.4V207.0M408.3 16.4V207.0M430.7 16.4V207.0M453.1 16.4V207.0M475.5 16.4V207.0M498.0 16.4V207.0M520.4 16.4V207.0" stroke="#e6e6e6" stroke-width="0.6" fill="none"/><path d="M319.5 16.5H542.5V207.3H319.5Z" stroke="#8c8c8c" stroke-width="0.75" fill="none"/><clipPath id="pc"><rect x="319.3" y="15.8" width="223.8" height="192.3"/></clipPath><g clip-path="url(#pc)"><path d="M319.6 88.0L319.9 145.0L320.6 146.0L321.0 166.8L327.6 166.8L327.9 179.0L341.0 179.0L341.0 180.2L355.2 180.2L355.2 183.0L361.4 183.0L361.4 187.5L372.5 187.5L372.5 190.8L380.4 190.8L380.4 194.1L386.9 194.1L386.9 195.4L422.2 195.4L422.2 198.6L454.6 198.6L454.6 200.6L474.4 201.3L474.4 207.2L542.5 207.2" stroke="#10d020" stroke-width="1.5" fill="none" stroke-linejoin="round"/><path d="M320.3 146.0L320.6 161.0L321.6 161.0L324.9 161.0L324.9 166.8L346.0 166.8L346.0 168.8L350.5 168.8L350.5 175.2L356.0 175.2L356.0 180.5L361.4 180.5L361.4 186.8L373.7 186.8L373.7 188.2L435.9 188.2L437.7 191.9L441.6 191.9L441.6 194.1L521.6 194.1L522.9 198.6L525.9 200.8L536.6 200.8L536.6 207.0" stroke="#2030e0" stroke-width="1.5" fill="none" stroke-linejoin="round"/><path d="M319.6 16.4L320.0 42.0L321.1 42.5L321.3 65.5L322.9 65.5L322.9 79.9L329.4 79.9L329.4 92.3L334.3 92.3L334.3 111.7L360.9 111.7L360.9 115.7L381.6 115.7L381.6 119.7L452.2 119.7L453.0 124.1L457.0 124.1L457.0 132.3L484.3 132.5L484.3 139.8L496.0 139.8L496.0 146.5L502.7 146.5L504.7 151.0L506.0 156.7L524.6 158.5L529.6 160.4L542.5 162.7" stroke="#f01818" stroke-width="1.5" fill="none" stroke-linejoin="round"/></g><circle cx="319.7" cy="16.6" r="0.9" fill="#e81010"/><rect x="515.6" y="21.9" width="25" height="33.4" fill="#fff" stroke="#9a9a9a" stroke-width="0.6"/><path d="M516.8 29.1H522.9" stroke="#f01818" stroke-width="1.4"/><text transform="translate(523.7 31.6) scale(0.530 1)" font-family="Liberation Sans, Arial, sans-serif" font-size="7.20" font-weight="normal" text-anchor="start" fill="#111" stroke="#111" stroke-width="0.1">GWO</text><path d="M516.8 39.3H522.9" stroke="#2030e0" stroke-width="1.4"/><text transform="translate(523.7 41.8) scale(0.530 1)" font-family="Liberation Sans, Arial, sans-serif" font-size="7.20" font-weight="normal" text-anchor="start" fill="#111" stroke="#111" stroke-width="0.1">IGWO</text><path d="M516.8 49.8H522.9" stroke="#10d020" stroke-width="1.4"/><text transform="translate(523.7 52.3) scale(0.530 1)" font-family="Liberation Sans, Arial, sans-serif" font-size="7.20" font-weight="normal" text-anchor="start" fill="#111" stroke="#111" stroke-width="0.1">LF-IGWO</text><text transform="translate(430.7 12.7) scale(0.470 1)" font-family="Liberation Sans, Arial, sans-serif" font-size="9.70" font-weight="bold" text-anchor="middle" fill="#111" stroke="#111" stroke-width="0.3">Objective space</text><text transform="translate(341.3 220.8) scale(0.465 1)" font-family="Liberation Sans, Arial, sans-serif" font-size="9.30" font-weight="normal" text-anchor="middle" fill="#111" stroke="#111" stroke-width="0.3">100</text><text transform="translate(363.7 220.8) scale(0.465 1)" font-family="Liberation Sans, Arial, sans-serif" font-size="9.30" font-weight="normal" text-anchor="middle" fill="#111" stroke="#111" stroke-width="0.3">200</text><text transform="translate(386.1 220.8) scale(0.465 1)" font-family="Liberation Sans, Arial, sans-serif" font-size="9.30" font-weight="normal" text-anchor="middle" fill="#111" stroke="#111" stroke-width="0.3">300</text><text transform="translate(408.6 220.8) scale(0.465 1)" font-family="Liberation Sans, Arial, sans-serif" font-size="9.30" font-weight="normal" text-anchor="middle" fill="#111" stroke="#111" stroke-width="0.3">400</text><text transform="translate(431.0 220.8) scale(0.465 1)" font-family="Liberation Sans, Arial, sans-serif" font-size="9.30" font-weight="normal" text-anchor="middle" fill="#111" stroke="#111" stroke-width="0.3">500</text><text transform="translate(453.4 220.8) scale(0.465 1)" font-family="Liberation Sans, Arial, sans-serif" font-size="9.30" font-weight="normal" text-anchor="middle" fill="#111" stroke="#111" stroke-width="0.3">600</text><text transform="translate(475.8 220.8) scale(0.465 1)" font-family="Liberation Sans, Arial, sans-serif" font-size="9.30" font-weight="normal" text-anchor="middle" fill="#111" stroke="#111" stroke-width="0.3">700</text><text transform="translate(498.3 220.8) scale(0.465 1)" font-family="Liberation Sans, Arial, sans-serif" font-size="9.30" font-weight="normal" text-anchor="middle" fill="#111" stroke="#111" stroke-width="0.3">800</text><text transform="translate(520.7 220.8) scale(0.465 1)" font-family="Liberation Sans, Arial, sans-serif" font-size="9.30" font-weight="normal" text-anchor="middle" fill="#111" stroke="#111" stroke-width="0.3">900</text><text transform="translate(542.6 220.8) scale(0.465 1)" font-family="Liberation Sans, Arial, sans-serif" font-size="9.30" font-weight="normal" text-anchor="middle" fill="#111" stroke="#111" stroke-width="0.3">1000</text><text transform="translate(431.0 232.8) scale(0.490 1)" font-family="Liberation Sans, Arial, sans-serif" font-size="8.80" font-weight="normal" text-anchor="middle" fill="#111" stroke="#111" stroke-width="0.3">Iteration</text><text transform="translate(308.3 111.7) rotate(-90) scale(1.650 1)" font-family="Liberation Sans, Arial, sans-serif" font-size="6.00" font-weight="normal" text-anchor="middle" fill="#333">Best score obtained so far</text><text transform="translate(310.2 64.3) scale(0.45 1)" font-family="Liberation Sans, Arial, sans-serif" font-size="8.8" fill="#111" stroke="#111" stroke-width="0.3">-10<tspan dy="-4" font-size="6.5">3</tspan></text></g>
<text x="136.3" y="250.2" font-family="Liberation Serif, Times New Roman, serif" font-size="11" fill="#111">(<tspan font-weight="bold">a</tspan>)</text><text x="418.6" y="250.2" font-family="Liberation Serif, Times New Roman, serif" font-size="11" fill="#111">(<tspan font-weight="bold">b</tspan>)</text>
</svg></body></html>
